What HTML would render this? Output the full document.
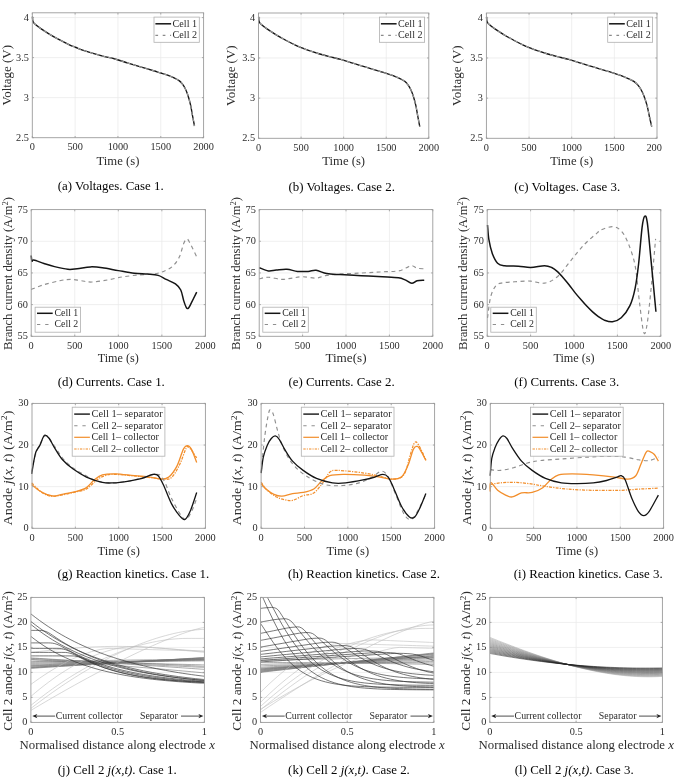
<!DOCTYPE html>
<html><head><meta charset="utf-8"><style>
html,body{margin:0;padding:0;background:#fff;}
svg{display:block;will-change:transform;}
text{font-family:"Liberation Serif", serif;}
</style></head><body>
<svg width="685" height="778" viewBox="0 0 685 778">
<rect width="685" height="778" fill="#fff"/>
<path d="M75.12,12.80V137.70 M117.95,12.80V137.70 M160.78,12.80V137.70 M32.30,97.67H203.60 M32.30,57.64H203.60 M32.30,17.60H203.60" stroke="#e9e9e9" stroke-width="0.75" fill="none"/>
<path d="M32.40,16.60 C32.49,17.37 32.53,20.00 32.90,21.21 C33.26,22.41 33.33,22.60 34.60,23.80 C35.86,25.00 37.99,26.65 40.51,28.40 C43.02,30.15 46.42,32.33 49.70,34.30 C52.99,36.26 56.92,38.45 60.20,40.20 C63.49,41.95 66.77,43.58 69.40,44.80 C72.04,46.02 73.80,46.61 76.00,47.50 C78.20,48.38 79.74,49.11 82.59,50.10 C85.44,51.08 89.59,52.37 93.09,53.40 C96.59,54.44 99.94,55.37 103.60,56.30 C107.25,57.24 110.92,57.87 115.00,59.00 C119.09,60.13 123.73,61.75 128.11,63.10 C132.49,64.45 136.92,65.78 141.30,67.09 C145.68,68.41 151.12,70.02 154.40,71.00 C157.69,71.99 158.80,72.30 161.00,73.00 C163.20,73.70 165.41,74.38 167.59,75.20 C169.78,76.02 172.14,76.95 174.10,77.90 C176.07,78.85 177.96,79.81 179.40,80.90 C180.83,81.98 181.72,83.09 182.70,84.41 C183.69,85.72 184.44,86.99 185.31,88.80 C186.17,90.62 187.01,92.56 187.89,95.30 C188.77,98.03 189.83,101.80 190.60,105.20 C191.37,108.60 191.85,112.24 192.50,115.71 C193.15,119.17 194.17,124.28 194.50,126.00" stroke="#141414" stroke-width="1.35" fill="none" stroke-linejoin="round"/>
<path d="M32.40,16.60 C32.49,17.37 32.53,20.00 32.90,21.21 C33.26,22.41 33.33,22.60 34.60,23.80 C35.86,25.00 37.99,26.65 40.51,28.40 C43.02,30.15 46.42,32.33 49.70,34.30 C52.99,36.26 56.92,38.45 60.20,40.20 C63.49,41.95 66.77,43.58 69.40,44.80 C72.04,46.02 73.80,46.61 76.00,47.50 C78.20,48.38 79.74,49.11 82.59,50.10 C85.44,51.08 89.59,52.37 93.09,53.40 C96.59,54.44 99.94,55.37 103.60,56.30 C107.25,57.24 110.92,57.87 115.00,59.00 C119.09,60.13 123.73,61.75 128.11,63.10 C132.49,64.45 136.92,65.78 141.30,67.09 C145.68,68.41 151.12,70.02 154.40,71.00 C157.69,71.99 158.80,72.30 161.00,73.00 C163.20,73.70 165.41,74.38 167.59,75.20 C169.78,76.02 172.14,76.95 174.10,77.90 C176.07,78.85 177.96,79.81 179.40,80.90 C180.83,81.98 181.72,83.09 182.70,84.41 C183.69,85.72 184.44,86.99 185.31,88.80 C186.17,90.62 187.01,92.56 187.89,95.30 C188.77,98.03 189.83,101.80 190.60,105.20 C191.37,108.60 191.85,112.24 192.50,115.71 C193.15,119.17 194.17,124.28 194.50,126.00" stroke="#9c9c9c" stroke-width="1.15" fill="none" stroke-linejoin="round" stroke-dasharray="3.4,3.0"/>
<path d="M32.30,137.70v-1.7 M32.30,12.80v1.7 M75.12,137.70v-1.7 M75.12,12.80v1.7 M117.95,137.70v-1.7 M117.95,12.80v1.7 M160.78,137.70v-1.7 M160.78,12.80v1.7 M203.60,137.70v-1.7 M203.60,12.80v1.7 M32.30,137.70h1.7 M203.60,137.70h-1.7 M32.30,97.67h1.7 M203.60,97.67h-1.7 M32.30,57.64h1.7 M203.60,57.64h-1.7 M32.30,17.60h1.7 M203.60,17.60h-1.7" stroke="#8a8a8a" stroke-width="0.7" fill="none"/>
<rect x="32.30" y="12.80" width="171.30" height="124.90" stroke="#9c9c9c" stroke-width="0.9" fill="none"/>
<text x="32.30" y="150.30" font-size="10.3" text-anchor="middle" fill="#2c2c2c">0</text>
<text x="75.12" y="150.30" font-size="10.3" text-anchor="middle" fill="#2c2c2c">500</text>
<text x="117.95" y="150.30" font-size="10.3" text-anchor="middle" fill="#2c2c2c">1000</text>
<text x="160.78" y="150.30" font-size="10.3" text-anchor="middle" fill="#2c2c2c">1500</text>
<text x="203.60" y="150.30" font-size="10.3" text-anchor="middle" fill="#2c2c2c">2000</text>
<text x="28.90" y="140.70" font-size="10.3" text-anchor="end" fill="#2c2c2c">2.5</text>
<text x="28.90" y="100.67" font-size="10.3" text-anchor="end" fill="#2c2c2c">3</text>
<text x="28.90" y="60.64" font-size="10.3" text-anchor="end" fill="#2c2c2c">3.5</text>
<text x="28.90" y="20.60" font-size="10.3" text-anchor="end" fill="#2c2c2c">4</text>
<text x="10.80" y="75.25" font-size="11.6" text-anchor="middle" textLength="60.50" lengthAdjust="spacingAndGlyphs" transform="rotate(-90 10.80 75.25)" fill="#2c2c2c">Voltage (V)</text>
<text x="117.95" y="164.60" font-size="11.6" text-anchor="middle" textLength="42.90" lengthAdjust="spacingAndGlyphs" fill="#2c2c2c">Time (s)</text>
<text x="57.80" y="190.00" font-size="12.9" text-anchor="start" fill="#050505">(a) Voltages. Case 1.</text>
<rect x="154.00" y="17.10" width="45.30" height="25.20" fill="#fff" stroke="#b0b0b0" stroke-width="0.8"/>
<path d="M155.40,23.80H171.10" stroke="#141414" stroke-width="1.5" fill="none"/>
<text x="172.60" y="26.70" font-size="10.0" text-anchor="start" textLength="24.50" lengthAdjust="spacingAndGlyphs" fill="#2c2c2c">Cell 1</text>
<path d="M155.40,35.40H171.10" stroke="#8a8a8a" stroke-width="1.1" stroke-dasharray="2.7,4.6" fill="none"/>
<text x="172.60" y="38.30" font-size="10.0" text-anchor="start" textLength="24.50" lengthAdjust="spacingAndGlyphs" fill="#2c2c2c">Cell 2</text>
<path d="M301.07,13.00V138.30 M343.65,13.00V138.30 M386.23,13.00V138.30 M258.50,98.14H428.80 M258.50,57.98H428.80 M258.50,17.82H428.80" stroke="#e9e9e9" stroke-width="0.75" fill="none"/>
<path d="M258.60,16.81 C258.68,17.58 258.73,20.23 259.10,21.43 C259.46,22.64 259.52,22.84 260.78,24.04 C262.04,25.24 264.15,26.90 266.66,28.65 C269.16,30.40 272.54,32.59 275.80,34.56 C279.07,36.54 282.98,38.73 286.24,40.49 C289.51,42.25 292.77,43.88 295.39,45.10 C298.00,46.32 299.76,46.92 301.94,47.81 C304.13,48.69 305.67,49.43 308.50,50.41 C311.33,51.40 315.46,52.70 318.94,53.74 C322.42,54.77 325.75,55.71 329.38,56.64 C333.01,57.58 336.66,58.21 340.72,59.35 C344.78,60.48 349.39,62.11 353.75,63.46 C358.11,64.81 362.51,66.15 366.86,67.47 C371.22,68.79 376.63,70.40 379.89,71.39 C383.15,72.38 384.26,72.69 386.45,73.39 C388.63,74.10 390.83,74.78 393.00,75.60 C395.17,76.42 397.52,77.35 399.47,78.31 C401.43,79.26 403.31,80.23 404.74,81.31 C406.16,82.40 407.04,83.51 408.02,84.83 C409.00,86.16 409.75,87.42 410.61,89.25 C411.47,91.07 412.31,93.02 413.18,95.76 C414.06,98.50 415.11,102.28 415.87,105.70 C416.64,109.11 417.12,112.76 417.76,116.23 C418.41,119.71 419.42,124.84 419.76,126.56" stroke="#141414" stroke-width="1.35" fill="none" stroke-linejoin="round"/>
<path d="M258.60,16.81 C258.68,17.58 258.73,20.23 259.10,21.43 C259.46,22.64 259.52,22.84 260.78,24.04 C262.04,25.24 264.15,26.90 266.66,28.65 C269.16,30.40 272.54,32.59 275.80,34.56 C279.07,36.54 282.98,38.73 286.24,40.49 C289.51,42.25 292.77,43.88 295.39,45.10 C298.00,46.32 299.76,46.92 301.94,47.81 C304.13,48.69 305.67,49.43 308.50,50.41 C311.33,51.40 315.46,52.70 318.94,53.74 C322.42,54.77 325.75,55.71 329.38,56.64 C333.01,57.58 336.66,58.21 340.72,59.35 C344.78,60.48 349.39,62.11 353.75,63.46 C358.11,64.81 362.51,66.15 366.86,67.47 C371.22,68.79 376.63,70.40 379.89,71.39 C383.15,72.38 384.26,72.69 386.45,73.39 C388.63,74.10 390.83,74.78 393.00,75.60 C395.17,76.42 397.52,77.35 399.47,78.31 C401.43,79.26 403.31,80.23 404.74,81.31 C406.16,82.40 407.04,83.51 408.02,84.83 C409.00,86.16 409.75,87.42 410.61,89.25 C411.47,91.07 412.31,93.02 413.18,95.76 C414.06,98.50 415.11,102.28 415.87,105.70 C416.64,109.11 417.12,112.76 417.76,116.23 C418.41,119.71 419.42,124.84 419.76,126.56" stroke="#9c9c9c" stroke-width="1.15" fill="none" stroke-linejoin="round" stroke-dasharray="3.4,3.0"/>
<path d="M258.50,138.30v-1.7 M258.50,13.00v1.7 M301.07,138.30v-1.7 M301.07,13.00v1.7 M343.65,138.30v-1.7 M343.65,13.00v1.7 M386.23,138.30v-1.7 M386.23,13.00v1.7 M428.80,138.30v-1.7 M428.80,13.00v1.7 M258.50,138.30h1.7 M428.80,138.30h-1.7 M258.50,98.14h1.7 M428.80,98.14h-1.7 M258.50,57.98h1.7 M428.80,57.98h-1.7 M258.50,17.82h1.7 M428.80,17.82h-1.7" stroke="#8a8a8a" stroke-width="0.7" fill="none"/>
<rect x="258.50" y="13.00" width="170.30" height="125.30" stroke="#9c9c9c" stroke-width="0.9" fill="none"/>
<text x="258.50" y="150.90" font-size="10.3" text-anchor="middle" fill="#2c2c2c">0</text>
<text x="301.07" y="150.90" font-size="10.3" text-anchor="middle" fill="#2c2c2c">500</text>
<text x="343.65" y="150.90" font-size="10.3" text-anchor="middle" fill="#2c2c2c">1000</text>
<text x="386.23" y="150.90" font-size="10.3" text-anchor="middle" fill="#2c2c2c">1500</text>
<text x="428.80" y="150.90" font-size="10.3" text-anchor="middle" fill="#2c2c2c">2000</text>
<text x="255.10" y="141.30" font-size="10.3" text-anchor="end" fill="#2c2c2c">2.5</text>
<text x="255.10" y="101.14" font-size="10.3" text-anchor="end" fill="#2c2c2c">3</text>
<text x="255.10" y="60.98" font-size="10.3" text-anchor="end" fill="#2c2c2c">3.5</text>
<text x="255.10" y="20.82" font-size="10.3" text-anchor="end" fill="#2c2c2c">4</text>
<text x="234.60" y="75.65" font-size="11.6" text-anchor="middle" textLength="60.50" lengthAdjust="spacingAndGlyphs" transform="rotate(-90 234.60 75.65)" fill="#2c2c2c">Voltage (V)</text>
<text x="343.65" y="165.20" font-size="11.6" text-anchor="middle" textLength="42.90" lengthAdjust="spacingAndGlyphs" fill="#2c2c2c">Time (s)</text>
<text x="288.40" y="190.60" font-size="12.9" text-anchor="start" fill="#050505">(b) Voltages. Case 2.</text>
<rect x="379.50" y="17.10" width="45.10" height="25.20" fill="#fff" stroke="#b0b0b0" stroke-width="0.8"/>
<path d="M380.90,23.80H396.60" stroke="#141414" stroke-width="1.5" fill="none"/>
<text x="398.10" y="26.70" font-size="10.0" text-anchor="start" textLength="24.50" lengthAdjust="spacingAndGlyphs" fill="#2c2c2c">Cell 1</text>
<path d="M380.90,35.40H396.60" stroke="#8a8a8a" stroke-width="1.1" stroke-dasharray="2.7,4.6" fill="none"/>
<text x="398.10" y="38.30" font-size="10.0" text-anchor="start" textLength="24.50" lengthAdjust="spacingAndGlyphs" fill="#2c2c2c">Cell 2</text>
<path d="M529.05,13.00V138.30 M571.70,13.00V138.30 M614.35,13.00V138.30 M486.40,98.14H657.00 M486.40,57.98H657.00 M486.40,17.82H657.00" stroke="#e9e9e9" stroke-width="0.75" fill="none"/>
<path d="M486.50,16.81 C486.58,17.58 486.63,20.23 487.00,21.43 C487.36,22.64 487.42,22.84 488.69,24.04 C489.95,25.24 492.06,26.90 494.57,28.65 C497.08,30.40 500.46,32.59 503.73,34.56 C507.00,36.54 510.92,38.73 514.19,40.49 C517.46,42.25 520.73,43.88 523.35,45.10 C525.97,46.32 527.73,46.92 529.92,47.81 C532.11,48.69 533.65,49.43 536.49,50.41 C539.33,51.40 543.46,52.70 546.95,53.74 C550.43,54.77 553.77,55.71 557.40,56.64 C561.04,57.58 564.70,58.21 568.77,59.35 C572.83,60.48 577.45,62.11 581.82,63.46 C586.18,64.81 590.59,66.15 594.95,67.47 C599.32,68.79 604.73,70.40 608.00,71.39 C611.27,72.38 612.38,72.69 614.57,73.39 C616.76,74.10 618.96,74.78 621.14,75.60 C623.32,76.42 625.51,77.35 627.62,78.31 C629.74,79.26 632.13,80.23 633.82,81.31 C635.51,82.40 636.57,83.51 637.73,84.83 C638.90,86.16 639.79,87.42 640.82,89.25 C641.84,91.07 642.84,93.02 643.88,95.76 C644.93,98.50 646.18,102.28 647.09,105.70 C648.00,109.11 648.57,112.76 649.34,116.23 C650.11,119.71 651.32,124.84 651.71,126.56" stroke="#141414" stroke-width="1.35" fill="none" stroke-linejoin="round"/>
<path d="M486.50,16.81 C486.58,17.58 486.63,20.23 487.00,21.43 C487.36,22.64 487.42,22.84 488.69,24.04 C489.95,25.24 492.06,26.90 494.57,28.65 C497.08,30.40 500.46,32.59 503.73,34.56 C507.00,36.54 510.92,38.73 514.19,40.49 C517.46,42.25 520.73,43.88 523.35,45.10 C525.97,46.32 527.73,46.92 529.92,47.81 C532.11,48.69 533.65,49.43 536.49,50.41 C539.33,51.40 543.46,52.70 546.95,53.74 C550.43,54.77 553.77,55.71 557.40,56.64 C561.04,57.58 564.70,58.21 568.77,59.35 C572.83,60.48 577.45,62.11 581.82,63.46 C586.18,64.81 590.59,66.15 594.95,67.47 C599.32,68.79 604.73,70.40 608.00,71.39 C611.27,72.38 612.38,72.69 614.57,73.39 C616.76,74.10 618.96,74.78 621.14,75.60 C623.32,76.42 625.51,77.35 627.62,78.31 C629.74,79.26 632.13,80.23 633.82,81.31 C635.51,82.40 636.57,83.51 637.73,84.83 C638.90,86.16 639.79,87.42 640.82,89.25 C641.84,91.07 642.84,93.02 643.88,95.76 C644.93,98.50 646.18,102.28 647.09,105.70 C648.00,109.11 648.57,112.76 649.34,116.23 C650.11,119.71 651.32,124.84 651.71,126.56" stroke="#9c9c9c" stroke-width="1.15" fill="none" stroke-linejoin="round" stroke-dasharray="3.4,3.0"/>
<path d="M486.40,138.30v-1.7 M486.40,13.00v1.7 M529.05,138.30v-1.7 M529.05,13.00v1.7 M571.70,138.30v-1.7 M571.70,13.00v1.7 M614.35,138.30v-1.7 M614.35,13.00v1.7 M657.00,138.30v-1.7 M657.00,13.00v1.7 M486.40,138.30h1.7 M657.00,138.30h-1.7 M486.40,98.14h1.7 M657.00,98.14h-1.7 M486.40,57.98h1.7 M657.00,57.98h-1.7 M486.40,17.82h1.7 M657.00,17.82h-1.7" stroke="#8a8a8a" stroke-width="0.7" fill="none"/>
<rect x="486.40" y="13.00" width="170.60" height="125.30" stroke="#9c9c9c" stroke-width="0.9" fill="none"/>
<text x="486.40" y="150.90" font-size="10.3" text-anchor="middle" fill="#2c2c2c">0</text>
<text x="529.05" y="150.90" font-size="10.3" text-anchor="middle" fill="#2c2c2c">500</text>
<text x="571.70" y="150.90" font-size="10.3" text-anchor="middle" fill="#2c2c2c">1000</text>
<text x="614.35" y="150.90" font-size="10.3" text-anchor="middle" fill="#2c2c2c">1500</text>
<text x="646.40" y="150.90" font-size="10.3" text-anchor="start" fill="#2c2c2c">200</text>
<text x="483.00" y="141.30" font-size="10.3" text-anchor="end" fill="#2c2c2c">2.5</text>
<text x="483.00" y="101.14" font-size="10.3" text-anchor="end" fill="#2c2c2c">3</text>
<text x="483.00" y="60.98" font-size="10.3" text-anchor="end" fill="#2c2c2c">3.5</text>
<text x="483.00" y="20.82" font-size="10.3" text-anchor="end" fill="#2c2c2c">4</text>
<text x="461.40" y="75.65" font-size="11.6" text-anchor="middle" textLength="60.50" lengthAdjust="spacingAndGlyphs" transform="rotate(-90 461.40 75.65)" fill="#2c2c2c">Voltage (V)</text>
<text x="571.70" y="165.20" font-size="11.6" text-anchor="middle" textLength="42.90" lengthAdjust="spacingAndGlyphs" fill="#2c2c2c">Time (s)</text>
<text x="514.30" y="190.60" font-size="12.9" text-anchor="start" fill="#050505">(c) Voltages. Case 3.</text>
<rect x="607.70" y="17.10" width="44.90" height="25.20" fill="#fff" stroke="#b0b0b0" stroke-width="0.8"/>
<path d="M609.10,23.80H624.80" stroke="#141414" stroke-width="1.5" fill="none"/>
<text x="626.30" y="26.70" font-size="10.0" text-anchor="start" textLength="24.50" lengthAdjust="spacingAndGlyphs" fill="#2c2c2c">Cell 1</text>
<path d="M609.10,35.40H624.80" stroke="#8a8a8a" stroke-width="1.1" stroke-dasharray="2.7,4.6" fill="none"/>
<text x="626.30" y="38.30" font-size="10.0" text-anchor="start" textLength="24.50" lengthAdjust="spacingAndGlyphs" fill="#2c2c2c">Cell 2</text>
<path d="M74.75,209.60V336.30 M118.30,209.60V336.30 M161.85,209.60V336.30 M31.20,304.62H205.40 M31.20,272.95H205.40 M31.20,241.28H205.40" stroke="#e9e9e9" stroke-width="0.75" fill="none"/>
<path d="M31.19,289.48 C33.31,288.69 39.16,286.16 43.94,284.70 C48.72,283.24 55.45,281.60 59.88,280.72 C64.31,279.83 66.97,279.39 70.51,279.39 C74.05,279.39 77.59,280.27 81.13,280.72 C84.68,281.16 87.33,282.18 91.76,282.05 C96.19,281.91 102.39,280.81 107.70,279.92 C113.02,279.03 118.33,277.57 123.64,276.73 C128.96,275.89 134.71,275.32 139.58,274.87 C144.45,274.43 148.88,274.65 152.87,274.08 C156.85,273.50 160.17,272.75 163.49,271.42 C166.82,270.09 170.14,268.54 172.79,266.11 C175.45,263.67 177.62,260.57 179.43,256.81 C181.25,253.04 182.45,246.49 183.69,243.52 C184.93,240.56 185.86,239.14 186.87,239.01 C187.89,238.87 188.16,239.76 189.80,242.73 C191.43,245.69 195.55,254.46 196.70,256.81" stroke="#8f8f8f" stroke-width="1.15" fill="none" stroke-linejoin="round" stroke-dasharray="3.9,3.5"/>
<path d="M31.19,255.48 C31.23,255.92 31.32,257.16 31.45,258.13 C31.59,259.11 31.59,261.01 31.99,261.32 C32.38,261.63 31.85,259.64 33.84,259.99 C35.84,260.35 40.49,262.34 43.94,263.45 C47.39,264.56 50.58,265.66 54.57,266.64 C58.55,267.61 64.09,268.94 67.85,269.29 C71.61,269.65 73.39,269.16 77.15,268.76 C80.91,268.36 86.23,267.08 90.43,266.90 C94.64,266.73 97.74,267.08 102.39,267.70 C107.04,268.32 113.02,269.69 118.33,270.62 C123.64,271.55 129.40,272.70 134.27,273.28 C139.14,273.85 143.57,273.72 147.55,274.08 C151.54,274.43 155.08,274.52 158.18,275.40 C161.28,276.29 163.27,277.97 166.15,279.39 C169.03,280.81 173.01,282.13 175.45,283.91 C177.88,285.68 179.39,287.23 180.76,290.02 C182.14,292.81 182.76,297.72 183.69,300.64 C184.62,303.57 185.55,306.31 186.34,307.55 C187.14,308.79 187.71,308.70 188.47,308.08 C189.22,307.46 189.49,306.49 190.86,303.83 C192.23,301.17 195.73,294.09 196.70,292.14" stroke="#141414" stroke-width="1.5" fill="none" stroke-linejoin="round"/>
<path d="M31.20,336.30v-1.7 M31.20,209.60v1.7 M74.75,336.30v-1.7 M74.75,209.60v1.7 M118.30,336.30v-1.7 M118.30,209.60v1.7 M161.85,336.30v-1.7 M161.85,209.60v1.7 M205.40,336.30v-1.7 M205.40,209.60v1.7 M31.20,336.30h1.7 M205.40,336.30h-1.7 M31.20,304.62h1.7 M205.40,304.62h-1.7 M31.20,272.95h1.7 M205.40,272.95h-1.7 M31.20,241.28h1.7 M205.40,241.28h-1.7 M31.20,209.60h1.7 M205.40,209.60h-1.7" stroke="#8a8a8a" stroke-width="0.7" fill="none"/>
<rect x="31.20" y="209.60" width="174.20" height="126.70" stroke="#9c9c9c" stroke-width="0.9" fill="none"/>
<text x="31.20" y="348.60" font-size="10.3" text-anchor="middle" fill="#2c2c2c">0</text>
<text x="74.75" y="348.60" font-size="10.3" text-anchor="middle" fill="#2c2c2c">500</text>
<text x="118.30" y="348.60" font-size="10.3" text-anchor="middle" fill="#2c2c2c">1000</text>
<text x="161.85" y="348.60" font-size="10.3" text-anchor="middle" fill="#2c2c2c">1500</text>
<text x="205.40" y="348.60" font-size="10.3" text-anchor="middle" fill="#2c2c2c">2000</text>
<text x="27.80" y="339.30" font-size="10.3" text-anchor="end" fill="#2c2c2c">55</text>
<text x="27.80" y="307.62" font-size="10.3" text-anchor="end" fill="#2c2c2c">60</text>
<text x="27.80" y="275.95" font-size="10.3" text-anchor="end" fill="#2c2c2c">65</text>
<text x="27.80" y="244.28" font-size="10.3" text-anchor="end" fill="#2c2c2c">70</text>
<text x="27.80" y="212.60" font-size="10.3" text-anchor="end" fill="#2c2c2c">75</text>
<text x="12.00" y="273.45" font-size="11.6" text-anchor="middle" textLength="153.00" lengthAdjust="spacingAndGlyphs" transform="rotate(-90 12.00 273.45)" fill="#2c2c2c">Branch current density (A/m<tspan font-size="8" dy="-4.2">2</tspan><tspan dy="4.2">)</tspan></text>
<text x="118.30" y="362.20" font-size="11.6" text-anchor="middle" textLength="41.20" lengthAdjust="spacingAndGlyphs" fill="#2c2c2c">Time (s)</text>
<text x="57.80" y="385.80" font-size="12.9" text-anchor="start" fill="#050505">(d) Currents. Case 1.</text>
<rect x="35.10" y="307.20" width="45.50" height="25.00" fill="#fff" stroke="#b0b0b0" stroke-width="0.8"/>
<path d="M37.00,313.30H52.70" stroke="#141414" stroke-width="1.5" fill="none"/>
<text x="54.50" y="316.20" font-size="10.0" text-anchor="start" textLength="23.80" lengthAdjust="spacingAndGlyphs" fill="#2c2c2c">Cell 1</text>
<path d="M37.00,324.50H52.70" stroke="#8f8f8f" stroke-width="1.15" stroke-dasharray="3.3,4.9" fill="none"/>
<text x="54.50" y="327.40" font-size="10.0" text-anchor="start" textLength="23.80" lengthAdjust="spacingAndGlyphs" fill="#2c2c2c">Cell 2</text>
<path d="M302.60,209.60V336.30 M346.00,209.60V336.30 M389.40,209.60V336.30 M259.20,304.62H432.80 M259.20,272.95H432.80 M259.20,241.28H432.80" stroke="#e9e9e9" stroke-width="0.75" fill="none"/>
<path d="M259.25,278.86 C260.76,278.59 264.56,277.17 268.28,277.26 C272.00,277.35 277.58,279.26 281.57,279.39 C285.55,279.52 288.65,278.50 292.19,278.06 C295.74,277.62 298.84,276.73 302.82,276.73 C306.81,276.73 312.12,278.28 316.11,278.06 C320.09,277.84 322.75,276.07 326.73,275.40 C330.72,274.74 334.26,274.47 340.02,274.08 C345.77,273.68 354.63,273.37 361.27,273.01 C367.91,272.66 373.67,272.30 379.87,271.95 C386.07,271.60 394.04,271.60 398.46,270.89 C402.89,270.18 404.22,268.58 406.43,267.70 C408.65,266.81 409.98,265.49 411.75,265.57 C413.52,265.66 414.98,267.70 417.06,268.23 C419.14,268.76 423.04,268.67 424.23,268.76" stroke="#8f8f8f" stroke-width="1.15" fill="none" stroke-linejoin="round" stroke-dasharray="3.9,3.5"/>
<path d="M259.25,267.70 C260.76,268.23 265.45,270.49 268.28,270.89 C271.12,271.29 273.15,270.36 276.25,270.09 C279.35,269.82 283.34,269.07 286.88,269.29 C290.42,269.51 293.97,271.06 297.51,271.42 C301.05,271.77 305.04,271.60 308.13,271.42 C311.23,271.24 313.01,270.00 316.11,270.36 C319.20,270.71 322.75,272.84 326.73,273.54 C330.72,274.25 334.26,274.25 340.02,274.61 C345.77,274.96 354.19,275.32 361.27,275.67 C368.35,276.02 376.32,276.38 382.52,276.73 C388.72,277.09 394.70,277.26 398.46,277.79 C402.23,278.33 402.89,278.99 405.11,279.92 C407.32,280.85 409.76,283.24 411.75,283.37 C413.74,283.51 414.98,281.25 417.06,280.72 C419.14,280.19 423.04,280.27 424.23,280.19" stroke="#141414" stroke-width="1.5" fill="none" stroke-linejoin="round"/>
<path d="M259.20,336.30v-1.7 M259.20,209.60v1.7 M302.60,336.30v-1.7 M302.60,209.60v1.7 M346.00,336.30v-1.7 M346.00,209.60v1.7 M389.40,336.30v-1.7 M389.40,209.60v1.7 M432.80,336.30v-1.7 M432.80,209.60v1.7 M259.20,336.30h1.7 M432.80,336.30h-1.7 M259.20,304.62h1.7 M432.80,304.62h-1.7 M259.20,272.95h1.7 M432.80,272.95h-1.7 M259.20,241.28h1.7 M432.80,241.28h-1.7 M259.20,209.60h1.7 M432.80,209.60h-1.7" stroke="#8a8a8a" stroke-width="0.7" fill="none"/>
<rect x="259.20" y="209.60" width="173.60" height="126.70" stroke="#9c9c9c" stroke-width="0.9" fill="none"/>
<text x="259.20" y="348.60" font-size="10.3" text-anchor="middle" fill="#2c2c2c">0</text>
<text x="302.60" y="348.60" font-size="10.3" text-anchor="middle" fill="#2c2c2c">500</text>
<text x="346.00" y="348.60" font-size="10.3" text-anchor="middle" fill="#2c2c2c">1000</text>
<text x="389.40" y="348.60" font-size="10.3" text-anchor="middle" fill="#2c2c2c">1500</text>
<text x="432.80" y="348.60" font-size="10.3" text-anchor="middle" fill="#2c2c2c">2000</text>
<text x="255.80" y="339.30" font-size="10.3" text-anchor="end" fill="#2c2c2c">55</text>
<text x="255.80" y="307.62" font-size="10.3" text-anchor="end" fill="#2c2c2c">60</text>
<text x="255.80" y="275.95" font-size="10.3" text-anchor="end" fill="#2c2c2c">65</text>
<text x="255.80" y="244.28" font-size="10.3" text-anchor="end" fill="#2c2c2c">70</text>
<text x="255.80" y="212.60" font-size="10.3" text-anchor="end" fill="#2c2c2c">75</text>
<text x="239.80" y="273.45" font-size="11.6" text-anchor="middle" textLength="153.00" lengthAdjust="spacingAndGlyphs" transform="rotate(-90 239.80 273.45)" fill="#2c2c2c">Branch current density (A/m<tspan font-size="8" dy="-4.2">2</tspan><tspan dy="4.2">)</tspan></text>
<text x="346.00" y="362.20" font-size="11.6" text-anchor="middle" textLength="41.20" lengthAdjust="spacingAndGlyphs" fill="#2c2c2c">Time(s)</text>
<text x="288.40" y="385.80" font-size="12.9" text-anchor="start" fill="#050505">(e) Currents. Case 2.</text>
<rect x="262.80" y="307.20" width="45.50" height="25.00" fill="#fff" stroke="#b0b0b0" stroke-width="0.8"/>
<path d="M264.70,313.30H280.40" stroke="#141414" stroke-width="1.5" fill="none"/>
<text x="282.20" y="316.20" font-size="10.0" text-anchor="start" textLength="23.80" lengthAdjust="spacingAndGlyphs" fill="#2c2c2c">Cell 1</text>
<path d="M264.70,324.50H280.40" stroke="#8f8f8f" stroke-width="1.15" stroke-dasharray="3.3,4.9" fill="none"/>
<text x="282.20" y="327.40" font-size="10.0" text-anchor="start" textLength="23.80" lengthAdjust="spacingAndGlyphs" fill="#2c2c2c">Cell 2</text>
<path d="M530.60,209.60V336.30 M574.00,209.60V336.30 M617.40,209.60V336.30 M487.20,304.62H660.80 M487.20,272.95H660.80 M487.20,241.28H660.80" stroke="#e9e9e9" stroke-width="0.75" fill="none"/>
<path d="M487.51,317.91 C488.03,314.43 489.24,302.42 490.63,297.06 C492.02,291.71 493.82,288.15 495.84,285.77 C497.87,283.40 499.61,283.48 502.79,282.82 C505.98,282.15 510.32,282.07 514.95,281.78 C519.58,281.49 525.66,280.85 530.58,281.08 C535.51,281.31 540.01,283.89 544.48,283.17 C548.95,282.44 553.02,280.46 557.39,276.73 C561.75,273.00 566.24,266.11 570.67,260.79 C575.10,255.48 579.53,249.50 583.96,244.85 C588.38,240.20 594.50,235.34 597.24,232.90 C599.98,230.45 597.86,231.20 600.41,230.16 C602.97,229.13 609.09,226.55 612.56,226.69 C616.03,226.84 618.63,228.28 621.24,231.03 C623.84,233.78 625.86,237.39 628.18,243.18 C630.49,248.96 633.24,255.90 635.12,265.74 C637.00,275.57 638.01,291.04 639.46,302.18 C640.90,313.32 642.49,329.08 643.80,332.55 C645.10,336.02 645.97,331.25 647.27,323.00 C648.57,314.76 650.22,297.12 651.61,283.09 C652.99,269.06 654.93,246.21 655.60,238.84" stroke="#8f8f8f" stroke-width="1.15" fill="none" stroke-linejoin="round" stroke-dasharray="3.9,3.5"/>
<path d="M487.51,224.98 C487.74,227.44 488.09,234.96 488.90,239.74 C489.71,244.52 490.92,249.73 492.37,253.64 C493.82,257.54 495.55,261.16 497.58,263.19 C499.61,265.22 501.06,265.30 504.53,265.80 C508.00,266.29 514.08,265.85 518.43,266.14 C522.77,266.43 526.24,267.59 530.58,267.53 C534.93,267.47 540.96,265.80 544.48,265.80 C548.00,265.79 549.53,266.53 551.70,267.50 C553.87,268.47 555.55,269.85 557.50,271.60 C559.45,273.35 561.45,275.77 563.40,278.00 C565.35,280.23 567.27,282.57 569.20,285.00 C571.13,287.43 573.05,290.17 575.00,292.60 C576.95,295.03 578.95,297.35 580.90,299.60 C582.85,301.85 584.75,304.05 586.70,306.10 C588.65,308.15 590.65,310.15 592.60,311.90 C594.55,313.65 596.47,315.23 598.40,316.60 C600.33,317.97 601.87,319.23 604.20,320.10 C606.53,320.97 609.56,322.18 612.40,321.80 C615.24,321.42 618.32,320.49 621.24,317.80 C624.16,315.11 627.60,310.57 629.91,305.65 C632.23,300.73 633.67,295.24 635.12,288.30 C636.57,281.36 637.43,274.13 638.59,264.00 C639.75,253.88 641.05,235.51 642.06,227.56 C643.07,219.61 643.80,217.15 644.66,216.28 C645.53,215.41 646.25,215.56 647.27,222.35 C648.28,229.15 649.29,242.17 650.74,257.06 C652.18,271.96 655.08,302.61 655.94,311.72" stroke="#141414" stroke-width="1.5" fill="none" stroke-linejoin="round"/>
<path d="M487.20,336.30v-1.7 M487.20,209.60v1.7 M530.60,336.30v-1.7 M530.60,209.60v1.7 M574.00,336.30v-1.7 M574.00,209.60v1.7 M617.40,336.30v-1.7 M617.40,209.60v1.7 M660.80,336.30v-1.7 M660.80,209.60v1.7 M487.20,336.30h1.7 M660.80,336.30h-1.7 M487.20,304.62h1.7 M660.80,304.62h-1.7 M487.20,272.95h1.7 M660.80,272.95h-1.7 M487.20,241.28h1.7 M660.80,241.28h-1.7 M487.20,209.60h1.7 M660.80,209.60h-1.7" stroke="#8a8a8a" stroke-width="0.7" fill="none"/>
<rect x="487.20" y="209.60" width="173.60" height="126.70" stroke="#9c9c9c" stroke-width="0.9" fill="none"/>
<text x="487.20" y="348.60" font-size="10.3" text-anchor="middle" fill="#2c2c2c">0</text>
<text x="530.60" y="348.60" font-size="10.3" text-anchor="middle" fill="#2c2c2c">500</text>
<text x="574.00" y="348.60" font-size="10.3" text-anchor="middle" fill="#2c2c2c">1000</text>
<text x="617.40" y="348.60" font-size="10.3" text-anchor="middle" fill="#2c2c2c">1500</text>
<text x="660.80" y="348.60" font-size="10.3" text-anchor="middle" fill="#2c2c2c">2000</text>
<text x="483.80" y="339.30" font-size="10.3" text-anchor="end" fill="#2c2c2c">55</text>
<text x="483.80" y="307.62" font-size="10.3" text-anchor="end" fill="#2c2c2c">60</text>
<text x="483.80" y="275.95" font-size="10.3" text-anchor="end" fill="#2c2c2c">65</text>
<text x="483.80" y="244.28" font-size="10.3" text-anchor="end" fill="#2c2c2c">70</text>
<text x="483.80" y="212.60" font-size="10.3" text-anchor="end" fill="#2c2c2c">75</text>
<text x="467.30" y="273.45" font-size="11.6" text-anchor="middle" textLength="153.00" lengthAdjust="spacingAndGlyphs" transform="rotate(-90 467.30 273.45)" fill="#2c2c2c">Branch current density (A/m<tspan font-size="8" dy="-4.2">2</tspan><tspan dy="4.2">)</tspan></text>
<text x="574.00" y="362.20" font-size="11.6" text-anchor="middle" textLength="41.20" lengthAdjust="spacingAndGlyphs" fill="#2c2c2c">Time (s)</text>
<text x="514.30" y="385.80" font-size="12.9" text-anchor="start" fill="#050505">(f) Currents. Case 3.</text>
<rect x="490.80" y="307.20" width="45.50" height="25.00" fill="#fff" stroke="#b0b0b0" stroke-width="0.8"/>
<path d="M492.70,313.30H508.40" stroke="#141414" stroke-width="1.5" fill="none"/>
<text x="510.20" y="316.20" font-size="10.0" text-anchor="start" textLength="23.80" lengthAdjust="spacingAndGlyphs" fill="#2c2c2c">Cell 1</text>
<path d="M492.70,324.50H508.40" stroke="#8f8f8f" stroke-width="1.15" stroke-dasharray="3.3,4.9" fill="none"/>
<text x="510.20" y="327.40" font-size="10.0" text-anchor="start" textLength="23.80" lengthAdjust="spacingAndGlyphs" fill="#2c2c2c">Cell 2</text>
<path d="M75.35,403.40V528.30 M118.70,403.40V528.30 M162.05,403.40V528.30 M32.00,486.67H205.40 M32.00,445.03H205.40" stroke="#e9e9e9" stroke-width="0.75" fill="none"/>
<path d="M31.72,482.89 C32.87,484.04 36.15,487.76 38.63,489.80 C41.11,491.83 43.94,494.05 46.60,495.11 C49.25,496.17 51.47,496.31 54.57,496.17 C57.67,496.04 61.65,495.02 65.19,494.31 C68.74,493.61 72.28,492.81 75.82,491.92 C79.36,491.04 82.91,491.04 86.45,489.00 C89.99,486.96 93.98,481.92 97.08,479.70 C100.17,477.49 101.95,476.60 105.05,475.72 C108.15,474.83 108.15,474.08 115.67,474.39 C123.20,474.70 142.24,476.78 150.21,477.58 C158.18,478.37 159.95,479.17 163.49,479.17 C167.04,479.17 168.81,479.92 171.46,477.58 C174.12,475.23 177.00,469.96 179.43,465.09 C181.87,460.22 184.53,451.32 186.08,448.35 C187.63,445.39 187.63,446.71 188.73,447.29 C189.84,447.87 191.39,450.04 192.72,451.81 C194.05,453.58 196.04,456.90 196.70,457.92" stroke="#f28e2b" stroke-width="1.25" fill="none" stroke-linejoin="round" stroke-dasharray="3.0,1.2,1.2,1.2"/>
<path d="M31.72,484.48 C32.87,485.46 36.15,488.69 38.63,490.33 C41.11,491.97 43.94,493.34 46.60,494.31 C49.25,495.29 51.47,496.31 54.57,496.17 C57.67,496.04 61.65,494.27 65.19,493.52 C68.74,492.76 72.28,492.63 75.82,491.66 C79.36,490.68 83.35,489.67 86.45,487.67 C89.55,485.68 91.76,481.83 94.42,479.70 C97.08,477.58 98.85,475.89 102.39,474.92 C105.93,473.95 110.36,473.72 115.67,473.86 C120.99,473.99 128.51,475.19 134.27,475.72 C140.03,476.25 145.78,476.47 150.21,477.05 C154.64,477.62 157.74,479.17 160.84,479.17 C163.94,479.17 166.15,479.17 168.81,477.05 C171.46,474.92 174.34,471.07 176.78,466.42 C179.21,461.77 181.65,452.60 183.42,449.15 C185.19,445.70 186.08,445.70 187.40,445.70 C188.73,445.70 189.84,446.36 191.39,449.15 C192.94,451.94 195.82,460.22 196.70,462.43" stroke="#f28e2b" stroke-width="1.3" fill="none" stroke-linejoin="round"/>
<path d="M31.72,471.73 C32.43,468.63 33.71,459.11 35.97,453.13 C38.23,447.16 42.61,437.64 45.27,435.87 C47.93,434.09 48.59,438.30 51.91,442.51 C55.23,446.71 60.32,456.01 65.19,461.11 C70.07,466.20 74.94,469.52 81.13,473.06 C87.33,476.60 94.42,481.03 102.39,482.36 C110.36,483.69 120.10,482.36 128.96,481.03 C137.81,479.70 149.77,474.61 155.52,474.39 C161.28,474.17 160.84,475.72 163.49,479.70 C166.15,483.69 168.36,492.10 171.46,498.30 C174.56,504.50 179.43,513.58 182.09,516.90 C184.75,520.22 185.63,519.55 187.40,518.23 C189.18,516.90 191.17,512.25 192.72,508.93 C194.27,505.61 196.04,500.07 196.70,498.30" stroke="#8f8f8f" stroke-width="1.15" fill="none" stroke-linejoin="round" stroke-dasharray="3.9,3.5"/>
<path d="M31.72,473.86 C32.07,471.73 33.14,464.78 33.84,461.11 C34.55,457.43 34.95,454.46 35.97,451.81 C36.99,449.15 38.54,447.91 39.96,445.16 C41.37,442.42 42.92,436.44 44.47,435.33 C46.02,434.23 47.57,436.44 49.25,438.52 C50.94,440.60 52.35,444.28 54.57,447.82 C56.78,451.36 59.44,456.23 62.54,459.78 C65.64,463.32 69.18,466.20 73.16,469.08 C77.15,471.95 81.58,474.83 86.45,477.05 C91.32,479.26 97.96,481.39 102.39,482.36 C106.82,483.33 108.59,483.11 113.02,482.89 C117.44,482.67 124.09,481.78 128.96,481.03 C133.83,480.28 138.26,479.48 142.24,478.37 C146.23,477.27 150.21,474.83 152.87,474.39 C155.52,473.95 156.41,473.95 158.18,475.72 C159.95,477.49 161.28,480.37 163.49,485.02 C165.71,489.67 168.81,498.52 171.46,503.61 C174.12,508.71 177.22,512.91 179.43,515.57 C181.65,518.23 182.98,520.22 184.75,519.55 C186.52,518.89 188.07,516.10 190.06,511.58 C192.05,507.07 195.60,495.64 196.70,492.45" stroke="#141414" stroke-width="1.3" fill="none" stroke-linejoin="round"/>
<path d="M32.00,528.30v-1.7 M32.00,403.40v1.7 M75.35,528.30v-1.7 M75.35,403.40v1.7 M118.70,528.30v-1.7 M118.70,403.40v1.7 M162.05,528.30v-1.7 M162.05,403.40v1.7 M205.40,528.30v-1.7 M205.40,403.40v1.7 M32.00,528.30h1.7 M205.40,528.30h-1.7 M32.00,486.67h1.7 M205.40,486.67h-1.7 M32.00,445.03h1.7 M205.40,445.03h-1.7 M32.00,403.40h1.7 M205.40,403.40h-1.7" stroke="#8a8a8a" stroke-width="0.7" fill="none"/>
<rect x="32.00" y="403.40" width="173.40" height="124.90" stroke="#9c9c9c" stroke-width="0.9" fill="none"/>
<text x="32.00" y="540.90" font-size="10.3" text-anchor="middle" fill="#2c2c2c">0</text>
<text x="75.35" y="540.90" font-size="10.3" text-anchor="middle" fill="#2c2c2c">500</text>
<text x="118.70" y="540.90" font-size="10.3" text-anchor="middle" fill="#2c2c2c">1000</text>
<text x="162.05" y="540.90" font-size="10.3" text-anchor="middle" fill="#2c2c2c">1500</text>
<text x="205.40" y="540.90" font-size="10.3" text-anchor="middle" fill="#2c2c2c">2000</text>
<text x="28.60" y="531.30" font-size="10.3" text-anchor="end" fill="#2c2c2c">0</text>
<text x="28.60" y="489.67" font-size="10.3" text-anchor="end" fill="#2c2c2c">10</text>
<text x="28.60" y="448.03" font-size="10.3" text-anchor="end" fill="#2c2c2c">20</text>
<text x="28.60" y="406.40" font-size="10.3" text-anchor="end" fill="#2c2c2c">30</text>
<text x="11.70" y="468.05" font-size="11.6" text-anchor="middle" textLength="115.00" lengthAdjust="spacingAndGlyphs" transform="rotate(-90 11.70 468.05)" fill="#2c2c2c">Anode <tspan font-style="italic">j</tspan>(<tspan font-style="italic">x</tspan>, <tspan font-style="italic">t</tspan>) (A/m<tspan font-size="8" dy="-4.2">2</tspan><tspan dy="4.2">)</tspan></text>
<text x="118.70" y="555.40" font-size="11.6" text-anchor="middle" textLength="42.50" lengthAdjust="spacingAndGlyphs" fill="#2c2c2c">Time (s)</text>
<text x="57.50" y="578.30" font-size="12.9" text-anchor="start" fill="#050505">(g) Reaction kinetics. Case 1.</text>
<rect x="72.20" y="407.20" width="92.70" height="49.00" fill="#fff" stroke="#b0b0b0" stroke-width="0.8"/>
<path d="M74.20,414.10H89.90" stroke="#141414" stroke-width="1.4" fill="none"/>
<text x="91.50" y="417.00" font-size="10.0" text-anchor="start" textLength="71.10" lengthAdjust="spacingAndGlyphs" fill="#2c2c2c">Cell 1– separator</text>
<path d="M74.20,425.70H89.90" stroke="#8f8f8f" stroke-width="1.15" stroke-dasharray="3.3,4.9" fill="none"/>
<text x="91.50" y="428.60" font-size="10.0" text-anchor="start" textLength="71.10" lengthAdjust="spacingAndGlyphs" fill="#2c2c2c">Cell 2– separator</text>
<path d="M74.20,437.30H89.90" stroke="#f28e2b" stroke-width="1.2" fill="none"/>
<text x="91.50" y="440.20" font-size="10.0" text-anchor="start" textLength="67.50" lengthAdjust="spacingAndGlyphs" fill="#2c2c2c">Cell 1– collector</text>
<path d="M74.20,449.00H89.90" stroke="#f28e2b" stroke-width="1.15" stroke-dasharray="2.4,1.1,1.1,1.1" fill="none"/>
<text x="91.50" y="451.90" font-size="10.0" text-anchor="start" textLength="67.50" lengthAdjust="spacingAndGlyphs" fill="#2c2c2c">Cell 2– collector</text>
<path d="M304.48,403.40V528.30 M347.85,403.40V528.30 M391.23,403.40V528.30 M261.10,486.67H434.60 M261.10,445.03H434.60" stroke="#e9e9e9" stroke-width="0.75" fill="none"/>
<path d="M261.19,482.36 C262.21,483.69 264.73,487.89 267.30,490.33 C269.87,492.76 273.72,495.42 276.60,496.97 C279.48,498.52 281.91,499.05 284.57,499.63 C287.22,500.20 289.44,501.09 292.54,500.43 C295.64,499.76 299.62,496.88 303.16,495.64 C306.71,494.40 310.47,495.20 313.79,492.99 C317.11,490.77 320.43,485.81 323.09,482.36 C325.75,478.91 327.30,474.26 329.73,472.26 C332.17,470.27 331.95,470.27 337.70,470.40 C343.46,470.54 356.74,471.95 364.27,473.06 C371.80,474.17 378.00,476.03 382.87,477.05 C387.74,478.06 389.95,479.61 393.49,479.17 C397.04,478.73 401.24,478.73 404.12,474.39 C407.00,470.05 408.99,458.45 410.76,453.13 C412.53,447.82 413.42,443.84 414.75,442.51 C416.08,441.18 416.87,442.29 418.73,445.16 C420.59,448.04 424.71,457.34 425.91,459.78" stroke="#f28e2b" stroke-width="1.25" fill="none" stroke-linejoin="round" stroke-dasharray="3.0,1.2,1.2,1.2"/>
<path d="M261.19,483.69 C261.99,484.57 263.84,487.23 265.97,489.00 C268.10,490.77 271.28,493.12 273.94,494.31 C276.60,495.51 278.81,496.31 281.91,496.17 C285.01,496.04 289.00,494.14 292.54,493.52 C296.08,492.90 299.62,493.21 303.16,492.45 C306.71,491.70 310.69,490.91 313.79,489.00 C316.89,487.10 319.11,483.24 321.76,481.03 C324.42,478.82 326.19,476.82 329.73,475.72 C333.27,474.61 337.26,474.48 343.02,474.39 C348.77,474.30 358.07,474.74 364.27,475.19 C370.47,475.63 375.78,476.38 380.21,477.05 C384.64,477.71 387.30,479.17 390.84,479.17 C394.38,479.17 398.59,479.39 401.46,477.05 C404.34,474.70 406.11,469.74 408.11,465.09 C410.10,460.44 411.87,452.25 413.42,449.15 C414.97,446.05 416.08,446.05 417.40,446.49 C418.73,446.94 419.97,449.46 421.39,451.81 C422.81,454.15 425.15,459.11 425.91,460.57" stroke="#f28e2b" stroke-width="1.3" fill="none" stroke-linejoin="round"/>
<path d="M261.19,471.73 C261.76,465.98 263.40,446.94 264.64,437.19 C265.88,427.45 267.61,417.80 268.63,413.28 C269.65,408.77 269.96,409.87 270.75,410.10 C271.55,410.32 272.21,410.98 273.41,414.61 C274.60,418.24 276.29,426.35 277.93,431.88 C279.56,437.42 280.80,442.51 283.24,447.82 C285.67,453.13 288.77,459.11 292.54,463.76 C296.30,468.41 300.51,472.26 305.82,475.72 C311.13,479.17 318.22,482.85 324.42,484.48 C330.62,486.12 337.26,485.81 343.02,485.55 C348.77,485.28 354.09,484.31 358.96,482.89 C363.83,481.47 368.48,478.99 372.24,477.05 C376.00,475.10 378.88,471.20 381.54,471.20 C384.20,471.20 385.75,472.97 388.18,477.05 C390.62,481.12 393.49,489.44 396.15,495.64 C398.81,501.84 401.69,510.26 404.12,514.24 C406.56,518.23 408.55,520.00 410.76,519.55 C412.98,519.11 414.88,515.79 417.40,511.58 C419.93,507.38 424.49,497.19 425.91,494.31" stroke="#8f8f8f" stroke-width="1.15" fill="none" stroke-linejoin="round" stroke-dasharray="3.9,3.5"/>
<path d="M261.19,473.06 C261.54,470.40 262.30,461.77 263.31,457.12 C264.33,452.47 265.97,448.26 267.30,445.16 C268.63,442.07 269.96,440.07 271.28,438.52 C272.61,436.97 273.94,435.73 275.27,435.87 C276.60,436.00 277.70,437.11 279.25,439.32 C280.80,441.53 282.35,445.52 284.57,449.15 C286.78,452.78 289.44,457.56 292.54,461.11 C295.64,464.65 299.18,467.53 303.16,470.40 C307.15,473.28 311.58,476.29 316.45,478.37 C321.32,480.46 327.52,482.14 332.39,482.89 C337.26,483.64 340.36,483.42 345.67,482.89 C350.99,482.36 359.40,480.68 364.27,479.70 C369.14,478.73 371.80,477.93 374.90,477.05 C378.00,476.16 380.65,474.39 382.87,474.39 C385.08,474.39 386.41,474.83 388.18,477.05 C389.95,479.26 391.28,482.80 393.49,487.67 C395.71,492.54 398.81,501.40 401.46,506.27 C404.12,511.14 407.22,515.13 409.43,516.90 C411.65,518.67 412.98,518.45 414.75,516.90 C416.52,515.35 418.20,511.49 420.06,507.60 C421.92,503.70 424.93,495.86 425.91,493.52" stroke="#141414" stroke-width="1.3" fill="none" stroke-linejoin="round"/>
<path d="M261.10,528.30v-1.7 M261.10,403.40v1.7 M304.48,528.30v-1.7 M304.48,403.40v1.7 M347.85,528.30v-1.7 M347.85,403.40v1.7 M391.23,528.30v-1.7 M391.23,403.40v1.7 M434.60,528.30v-1.7 M434.60,403.40v1.7 M261.10,528.30h1.7 M434.60,528.30h-1.7 M261.10,486.67h1.7 M434.60,486.67h-1.7 M261.10,445.03h1.7 M434.60,445.03h-1.7 M261.10,403.40h1.7 M434.60,403.40h-1.7" stroke="#8a8a8a" stroke-width="0.7" fill="none"/>
<rect x="261.10" y="403.40" width="173.50" height="124.90" stroke="#9c9c9c" stroke-width="0.9" fill="none"/>
<text x="261.10" y="540.90" font-size="10.3" text-anchor="middle" fill="#2c2c2c">0</text>
<text x="304.48" y="540.90" font-size="10.3" text-anchor="middle" fill="#2c2c2c">500</text>
<text x="347.85" y="540.90" font-size="10.3" text-anchor="middle" fill="#2c2c2c">1000</text>
<text x="391.23" y="540.90" font-size="10.3" text-anchor="middle" fill="#2c2c2c">1500</text>
<text x="434.60" y="540.90" font-size="10.3" text-anchor="middle" fill="#2c2c2c">2000</text>
<text x="257.70" y="531.30" font-size="10.3" text-anchor="end" fill="#2c2c2c">0</text>
<text x="257.70" y="489.67" font-size="10.3" text-anchor="end" fill="#2c2c2c">10</text>
<text x="257.70" y="448.03" font-size="10.3" text-anchor="end" fill="#2c2c2c">20</text>
<text x="257.70" y="406.40" font-size="10.3" text-anchor="end" fill="#2c2c2c">30</text>
<text x="241.50" y="468.05" font-size="11.6" text-anchor="middle" textLength="115.00" lengthAdjust="spacingAndGlyphs" transform="rotate(-90 241.50 468.05)" fill="#2c2c2c">Anode <tspan font-style="italic">j</tspan>(<tspan font-style="italic">x</tspan>, <tspan font-style="italic">t</tspan>) (A/m<tspan font-size="8" dy="-4.2">2</tspan><tspan dy="4.2">)</tspan></text>
<text x="347.85" y="555.40" font-size="11.6" text-anchor="middle" textLength="42.50" lengthAdjust="spacingAndGlyphs" fill="#2c2c2c">Time (s)</text>
<text x="288.10" y="578.30" font-size="12.9" text-anchor="start" fill="#050505">(h) Reaction kinetics. Case 2.</text>
<rect x="301.30" y="407.20" width="92.70" height="49.00" fill="#fff" stroke="#b0b0b0" stroke-width="0.8"/>
<path d="M303.30,414.10H319.00" stroke="#141414" stroke-width="1.4" fill="none"/>
<text x="320.60" y="417.00" font-size="10.0" text-anchor="start" textLength="71.10" lengthAdjust="spacingAndGlyphs" fill="#2c2c2c">Cell 1– separator</text>
<path d="M303.30,425.70H319.00" stroke="#8f8f8f" stroke-width="1.15" stroke-dasharray="3.3,4.9" fill="none"/>
<text x="320.60" y="428.60" font-size="10.0" text-anchor="start" textLength="71.10" lengthAdjust="spacingAndGlyphs" fill="#2c2c2c">Cell 2– separator</text>
<path d="M303.30,437.30H319.00" stroke="#f28e2b" stroke-width="1.2" fill="none"/>
<text x="320.60" y="440.20" font-size="10.0" text-anchor="start" textLength="67.50" lengthAdjust="spacingAndGlyphs" fill="#2c2c2c">Cell 1– collector</text>
<path d="M303.30,449.00H319.00" stroke="#f28e2b" stroke-width="1.15" stroke-dasharray="2.4,1.1,1.1,1.1" fill="none"/>
<text x="320.60" y="451.90" font-size="10.0" text-anchor="start" textLength="67.50" lengthAdjust="spacingAndGlyphs" fill="#2c2c2c">Cell 2– collector</text>
<path d="M533.62,403.40V528.30 M576.95,403.40V528.30 M620.28,403.40V528.30 M490.30,486.67H663.60 M490.30,445.03H663.60" stroke="#e9e9e9" stroke-width="0.75" fill="none"/>
<path d="M490.19,484.48 C491.87,484.22 496.39,483.24 500.28,482.89 C504.18,482.54 508.70,482.23 513.57,482.36 C518.44,482.49 524.19,483.02 529.51,483.69 C534.82,484.35 539.25,485.46 545.45,486.34 C551.65,487.23 558.73,488.34 566.70,489.00 C574.67,489.67 584.41,490.11 593.27,490.33 C602.13,490.55 611.87,490.55 619.84,490.33 C627.81,490.11 634.67,489.36 641.09,489.00 C647.51,488.65 655.48,488.34 658.36,488.20" stroke="#f28e2b" stroke-width="1.25" fill="none" stroke-linejoin="round" stroke-dasharray="3.0,1.2,1.2,1.2"/>
<path d="M490.19,491.66 C490.28,490.11 489.48,482.58 490.72,482.36 C491.96,482.14 495.15,488.20 497.63,490.33 C500.11,492.45 503.16,494.00 505.60,495.11 C508.03,496.22 509.58,497.33 512.24,496.97 C514.90,496.62 518.22,493.74 521.54,492.99 C524.86,492.23 528.62,493.34 532.16,492.45 C535.71,491.57 539.69,489.80 542.79,487.67 C545.89,485.55 548.11,481.83 550.76,479.70 C553.42,477.58 555.19,475.89 558.73,474.92 C562.27,473.95 566.26,473.86 572.02,473.86 C577.77,473.86 586.19,474.39 593.27,474.92 C600.35,475.45 608.77,476.34 614.52,477.05 C620.28,477.75 624.27,479.39 627.81,479.17 C631.35,478.95 633.56,478.29 635.78,475.72 C637.99,473.15 639.32,467.75 641.09,463.76 C642.86,459.78 644.86,453.80 646.40,451.81 C647.95,449.81 649.06,451.36 650.39,451.81 C651.72,452.25 653.05,452.91 654.38,454.46 C655.70,456.01 657.70,460.00 658.36,461.11" stroke="#f28e2b" stroke-width="1.3" fill="none" stroke-linejoin="round"/>
<path d="M490.19,469.61 C491.87,469.74 496.39,470.71 500.28,470.40 C504.18,470.09 509.14,468.94 513.57,467.75 C518.00,466.55 522.42,464.43 526.85,463.23 C531.28,462.04 534.38,461.28 540.13,460.57 C545.89,459.87 553.42,459.56 561.39,458.98 C569.36,458.40 579.99,457.56 587.96,457.12 C595.93,456.68 603.01,456.32 609.21,456.32 C615.41,456.32 620.28,456.54 625.15,457.12 C630.02,457.70 634.45,459.20 638.43,459.78 C642.42,460.35 645.74,461.02 649.06,460.57 C652.38,460.13 656.81,457.70 658.36,457.12" stroke="#8f8f8f" stroke-width="1.15" fill="none" stroke-linejoin="round" stroke-dasharray="3.9,3.5"/>
<path d="M490.19,475.72 C490.45,472.84 490.99,463.10 491.78,458.45 C492.58,453.80 493.77,450.92 494.97,447.82 C496.17,444.72 497.63,441.84 498.96,439.85 C500.28,437.86 501.61,436.09 502.94,435.87 C504.27,435.64 505.38,436.53 506.93,438.52 C508.48,440.52 509.80,444.06 512.24,447.82 C514.67,451.59 518.22,457.34 521.54,461.11 C524.86,464.87 528.18,467.53 532.16,470.40 C536.15,473.28 540.58,476.29 545.45,478.37 C550.32,480.46 556.08,482.00 561.39,482.89 C566.70,483.78 572.02,483.69 577.33,483.69 C582.64,483.69 588.40,483.42 593.27,482.89 C598.14,482.36 602.57,481.47 606.55,480.50 C610.54,479.53 614.75,477.84 617.18,477.05 C619.62,476.25 619.84,475.27 621.17,475.72 C622.49,476.16 623.38,475.94 625.15,479.70 C626.92,483.47 629.58,492.99 631.79,498.30 C634.01,503.61 636.44,508.71 638.43,511.58 C640.43,514.46 641.98,515.57 643.75,515.57 C645.52,515.57 646.63,514.99 649.06,511.58 C651.50,508.17 656.81,497.86 658.36,495.11" stroke="#141414" stroke-width="1.3" fill="none" stroke-linejoin="round"/>
<path d="M490.30,528.30v-1.7 M490.30,403.40v1.7 M533.62,528.30v-1.7 M533.62,403.40v1.7 M576.95,528.30v-1.7 M576.95,403.40v1.7 M620.28,528.30v-1.7 M620.28,403.40v1.7 M663.60,528.30v-1.7 M663.60,403.40v1.7 M490.30,528.30h1.7 M663.60,528.30h-1.7 M490.30,486.67h1.7 M663.60,486.67h-1.7 M490.30,445.03h1.7 M663.60,445.03h-1.7 M490.30,403.40h1.7 M663.60,403.40h-1.7" stroke="#8a8a8a" stroke-width="0.7" fill="none"/>
<rect x="490.30" y="403.40" width="173.30" height="124.90" stroke="#9c9c9c" stroke-width="0.9" fill="none"/>
<text x="490.30" y="540.90" font-size="10.3" text-anchor="middle" fill="#2c2c2c">0</text>
<text x="533.62" y="540.90" font-size="10.3" text-anchor="middle" fill="#2c2c2c">500</text>
<text x="576.95" y="540.90" font-size="10.3" text-anchor="middle" fill="#2c2c2c">1000</text>
<text x="620.28" y="540.90" font-size="10.3" text-anchor="middle" fill="#2c2c2c">1500</text>
<text x="663.60" y="540.90" font-size="10.3" text-anchor="middle" fill="#2c2c2c">2000</text>
<text x="486.90" y="531.30" font-size="10.3" text-anchor="end" fill="#2c2c2c">0</text>
<text x="486.90" y="489.67" font-size="10.3" text-anchor="end" fill="#2c2c2c">10</text>
<text x="486.90" y="448.03" font-size="10.3" text-anchor="end" fill="#2c2c2c">20</text>
<text x="486.90" y="406.40" font-size="10.3" text-anchor="end" fill="#2c2c2c">30</text>
<text x="470.60" y="468.05" font-size="11.6" text-anchor="middle" textLength="115.00" lengthAdjust="spacingAndGlyphs" transform="rotate(-90 470.60 468.05)" fill="#2c2c2c">Anode <tspan font-style="italic">j</tspan>(<tspan font-style="italic">x</tspan>, <tspan font-style="italic">t</tspan>) (A/m<tspan font-size="8" dy="-4.2">2</tspan><tspan dy="4.2">)</tspan></text>
<text x="576.95" y="555.40" font-size="11.6" text-anchor="middle" textLength="42.50" lengthAdjust="spacingAndGlyphs" fill="#2c2c2c">Time (s)</text>
<text x="513.80" y="578.30" font-size="12.9" text-anchor="start" fill="#050505">(i) Reaction kinetics. Case 3.</text>
<rect x="530.50" y="407.20" width="92.70" height="49.00" fill="#fff" stroke="#b0b0b0" stroke-width="0.8"/>
<path d="M532.50,414.10H548.20" stroke="#141414" stroke-width="1.4" fill="none"/>
<text x="549.80" y="417.00" font-size="10.0" text-anchor="start" textLength="71.10" lengthAdjust="spacingAndGlyphs" fill="#2c2c2c">Cell 1– separator</text>
<path d="M532.50,425.70H548.20" stroke="#8f8f8f" stroke-width="1.15" stroke-dasharray="3.3,4.9" fill="none"/>
<text x="549.80" y="428.60" font-size="10.0" text-anchor="start" textLength="71.10" lengthAdjust="spacingAndGlyphs" fill="#2c2c2c">Cell 2– separator</text>
<path d="M532.50,437.30H548.20" stroke="#f28e2b" stroke-width="1.2" fill="none"/>
<text x="549.80" y="440.20" font-size="10.0" text-anchor="start" textLength="67.50" lengthAdjust="spacingAndGlyphs" fill="#2c2c2c">Cell 1– collector</text>
<path d="M532.50,449.00H548.20" stroke="#f28e2b" stroke-width="1.15" stroke-dasharray="2.4,1.1,1.1,1.1" fill="none"/>
<text x="549.80" y="451.90" font-size="10.0" text-anchor="start" textLength="67.50" lengthAdjust="spacingAndGlyphs" fill="#2c2c2c">Cell 2– collector</text>
<path d="M117.65,597.40V722.40 M30.90,697.40H204.40 M30.90,672.40H204.40 M30.90,647.40H204.40 M30.90,622.40H204.40" stroke="#e9e9e9" stroke-width="0.75" fill="none"/>
<clipPath id="cp30"><rect x="30.90" y="597.40" width="173.50" height="125.00"/></clipPath>
<g clip-path="url(#cp30)">
<path d="M30.90,668.40 C31.62,668.35 33.79,668.20 35.24,668.10 C36.68,668.00 38.13,667.90 39.58,667.80 C41.02,667.70 42.47,667.61 43.91,667.51 C45.36,667.41 46.80,667.31 48.25,667.21 C49.70,667.12 51.14,667.02 52.59,666.92 C54.03,666.83 55.48,666.73 56.92,666.63 C58.37,666.54 59.82,666.44 61.26,666.35 C62.71,666.25 64.15,666.15 65.60,666.06 C67.05,665.96 68.49,665.87 69.94,665.78 C71.38,665.68 72.83,665.59 74.28,665.49 C75.72,665.40 77.17,665.31 78.61,665.21 C80.06,665.12 81.50,665.03 82.95,664.93 C84.40,664.84 85.84,664.75 87.29,664.66 C88.73,664.57 90.18,664.47 91.62,664.38 C93.07,664.29 94.52,664.20 95.96,664.11 C97.41,664.02 98.85,663.93 100.30,663.84 C101.75,663.75 103.19,663.66 104.64,663.57 C106.08,663.48 107.53,663.39 108.97,663.30 C110.42,663.21 111.87,663.13 113.31,663.04 C114.76,662.95 116.20,662.86 117.65,662.77 C119.10,662.69 120.54,662.60 121.99,662.51 C123.43,662.43 124.88,662.34 126.33,662.25 C127.77,662.17 129.22,662.08 130.66,662.00 C132.11,661.91 133.55,661.83 135.00,661.74 C136.45,661.65 137.89,661.57 139.34,661.49 C140.78,661.40 142.23,661.32 143.68,661.23 C145.12,661.15 146.57,661.07 148.01,660.98 C149.46,660.90 150.90,660.82 152.35,660.74 C153.80,660.65 155.24,660.57 156.69,660.49 C158.13,660.41 159.58,660.33 161.03,660.24 C162.47,660.16 163.92,660.08 165.36,660.00 C166.81,659.92 168.25,659.84 169.70,659.76 C171.15,659.68 172.59,659.60 174.04,659.52 C175.48,659.44 176.93,659.36 178.38,659.28 C179.82,659.20 181.27,659.13 182.71,659.05 C184.16,658.97 185.60,658.89 187.05,658.81 C188.50,658.74 189.94,658.66 191.39,658.58 C192.83,658.51 194.28,658.43 195.72,658.35 C197.17,658.28 198.62,658.20 200.06,658.13 C201.51,658.05 203.68,657.94 204.40,657.90" stroke="#737373" stroke-width="0.6" fill="none" stroke-linejoin="round"/>
<path d="M30.90,667.40 C31.62,667.35 33.79,667.22 35.24,667.13 C36.68,667.04 38.13,666.95 39.58,666.86 C41.02,666.76 42.47,666.68 43.91,666.59 C45.36,666.50 46.80,666.41 48.25,666.32 C49.70,666.23 51.14,666.14 52.59,666.06 C54.03,665.97 55.48,665.88 56.92,665.79 C58.37,665.71 59.82,665.62 61.26,665.54 C62.71,665.45 64.15,665.37 65.60,665.28 C67.05,665.19 68.49,665.11 69.94,665.03 C71.38,664.94 72.83,664.86 74.28,664.77 C75.72,664.69 77.17,664.61 78.61,664.53 C80.06,664.44 81.50,664.36 82.95,664.28 C84.40,664.20 85.84,664.12 87.29,664.04 C88.73,663.96 90.18,663.88 91.62,663.79 C93.07,663.71 94.52,663.64 95.96,663.56 C97.41,663.48 98.85,663.40 100.30,663.32 C101.75,663.24 103.19,663.16 104.64,663.09 C106.08,663.01 107.53,662.93 108.97,662.86 C110.42,662.78 111.87,662.70 113.31,662.63 C114.76,662.55 116.20,662.48 117.65,662.40 C119.10,662.32 120.54,662.25 121.99,662.18 C123.43,662.10 124.88,662.03 126.33,661.95 C127.77,661.88 129.22,661.81 130.66,661.74 C132.11,661.66 133.55,661.59 135.00,661.52 C136.45,661.45 137.89,661.38 139.34,661.31 C140.78,661.24 142.23,661.16 143.68,661.10 C145.12,661.03 146.57,660.96 148.01,660.89 C149.46,660.82 150.90,660.75 152.35,660.68 C153.80,660.61 155.24,660.54 156.69,660.48 C158.13,660.41 159.58,660.34 161.03,660.27 C162.47,660.21 163.92,660.14 165.36,660.08 C166.81,660.01 168.25,659.94 169.70,659.88 C171.15,659.82 172.59,659.75 174.04,659.69 C175.48,659.62 176.93,659.56 178.38,659.50 C179.82,659.43 181.27,659.37 182.71,659.31 C184.16,659.24 185.60,659.18 187.05,659.12 C188.50,659.06 189.94,659.00 191.39,658.94 C192.83,658.88 194.28,658.82 195.72,658.75 C197.17,658.69 198.62,658.64 200.06,658.58 C201.51,658.52 203.68,658.43 204.40,658.40" stroke="#737373" stroke-width="0.6" fill="none" stroke-linejoin="round"/>
<path d="M30.90,666.40 C31.62,666.37 33.79,666.27 35.24,666.20 C36.68,666.13 38.13,666.07 39.58,666.00 C41.02,665.94 42.47,665.87 43.91,665.81 C45.36,665.74 46.80,665.67 48.25,665.61 C49.70,665.55 51.14,665.48 52.59,665.42 C54.03,665.35 55.48,665.29 56.92,665.22 C58.37,665.16 59.82,665.09 61.26,665.03 C62.71,664.97 64.15,664.90 65.60,664.84 C67.05,664.78 68.49,664.71 69.94,664.65 C71.38,664.59 72.83,664.52 74.28,664.46 C75.72,664.40 77.17,664.34 78.61,664.28 C80.06,664.21 81.50,664.15 82.95,664.09 C84.40,664.03 85.84,663.97 87.29,663.91 C88.73,663.84 90.18,663.78 91.62,663.72 C93.07,663.66 94.52,663.60 95.96,663.54 C97.41,663.48 98.85,663.42 100.30,663.36 C101.75,663.30 103.19,663.24 104.64,663.18 C106.08,663.12 107.53,663.06 108.97,663.00 C110.42,662.94 111.87,662.88 113.31,662.83 C114.76,662.77 116.20,662.71 117.65,662.65 C119.10,662.59 120.54,662.53 121.99,662.48 C123.43,662.42 124.88,662.36 126.33,662.30 C127.77,662.25 129.22,662.19 130.66,662.13 C132.11,662.07 133.55,662.02 135.00,661.96 C136.45,661.90 137.89,661.85 139.34,661.79 C140.78,661.73 142.23,661.68 143.68,661.62 C145.12,661.57 146.57,661.51 148.01,661.46 C149.46,661.40 150.90,661.34 152.35,661.29 C153.80,661.24 155.24,661.18 156.69,661.13 C158.13,661.07 159.58,661.02 161.03,660.96 C162.47,660.91 163.92,660.85 165.36,660.80 C166.81,660.75 168.25,660.69 169.70,660.64 C171.15,660.59 172.59,660.53 174.04,660.48 C175.48,660.43 176.93,660.38 178.38,660.32 C179.82,660.27 181.27,660.22 182.71,660.17 C184.16,660.11 185.60,660.06 187.05,660.01 C188.50,659.96 189.94,659.91 191.39,659.86 C192.83,659.80 194.28,659.75 195.72,659.70 C197.17,659.65 198.62,659.60 200.06,659.55 C201.51,659.50 203.68,659.43 204.40,659.40" stroke="#737373" stroke-width="0.6" fill="none" stroke-linejoin="round"/>
<path d="M30.90,665.40 C31.62,665.36 33.79,665.26 35.24,665.19 C36.68,665.12 38.13,665.05 39.58,664.98 C41.02,664.91 42.47,664.85 43.91,664.78 C45.36,664.71 46.80,664.65 48.25,664.58 C49.70,664.51 51.14,664.45 52.59,664.38 C54.03,664.32 55.48,664.26 56.92,664.19 C58.37,664.13 59.82,664.07 61.26,664.00 C62.71,663.94 64.15,663.88 65.60,663.82 C67.05,663.76 68.49,663.70 69.94,663.64 C71.38,663.58 72.83,663.52 74.28,663.46 C75.72,663.40 77.17,663.35 78.61,663.29 C80.06,663.23 81.50,663.18 82.95,663.12 C84.40,663.06 85.84,663.01 87.29,662.95 C88.73,662.90 90.18,662.85 91.62,662.79 C93.07,662.74 94.52,662.69 95.96,662.63 C97.41,662.58 98.85,662.53 100.30,662.48 C101.75,662.43 103.19,662.38 104.64,662.33 C106.08,662.28 107.53,662.23 108.97,662.18 C110.42,662.13 111.87,662.09 113.31,662.04 C114.76,661.99 116.20,661.95 117.65,661.90 C119.10,661.85 120.54,661.81 121.99,661.76 C123.43,661.72 124.88,661.68 126.33,661.63 C127.77,661.59 129.22,661.55 130.66,661.50 C132.11,661.46 133.55,661.42 135.00,661.38 C136.45,661.34 137.89,661.30 139.34,661.26 C140.78,661.22 142.23,661.18 143.68,661.14 C145.12,661.10 146.57,661.07 148.01,661.03 C149.46,660.99 150.90,660.96 152.35,660.92 C153.80,660.88 155.24,660.85 156.69,660.81 C158.13,660.78 159.58,660.75 161.03,660.71 C162.47,660.68 163.92,660.65 165.36,660.61 C166.81,660.58 168.25,660.55 169.70,660.52 C171.15,660.49 172.59,660.46 174.04,660.43 C175.48,660.40 176.93,660.37 178.38,660.34 C179.82,660.31 181.27,660.29 182.71,660.26 C184.16,660.23 185.60,660.21 187.05,660.18 C188.50,660.15 189.94,660.13 191.39,660.10 C192.83,660.08 194.28,660.06 195.72,660.03 C197.17,660.01 198.62,659.99 200.06,659.96 C201.51,659.94 203.68,659.91 204.40,659.90" stroke="#737373" stroke-width="0.6" fill="none" stroke-linejoin="round"/>
<path d="M30.90,664.40 C31.62,664.38 33.79,664.32 35.24,664.28 C36.68,664.23 38.13,664.19 39.58,664.15 C41.02,664.11 42.47,664.07 43.91,664.03 C45.36,663.99 46.80,663.95 48.25,663.91 C49.70,663.88 51.14,663.84 52.59,663.80 C54.03,663.76 55.48,663.72 56.92,663.68 C58.37,663.65 59.82,663.61 61.26,663.57 C62.71,663.53 64.15,663.50 65.60,663.46 C67.05,663.42 68.49,663.39 69.94,663.35 C71.38,663.31 72.83,663.28 74.28,663.24 C75.72,663.21 77.17,663.17 78.61,663.14 C80.06,663.10 81.50,663.07 82.95,663.03 C84.40,663.00 85.84,662.97 87.29,662.93 C88.73,662.90 90.18,662.87 91.62,662.83 C93.07,662.80 94.52,662.77 95.96,662.74 C97.41,662.70 98.85,662.67 100.30,662.64 C101.75,662.61 103.19,662.58 104.64,662.55 C106.08,662.51 107.53,662.48 108.97,662.45 C110.42,662.42 111.87,662.39 113.31,662.36 C114.76,662.33 116.20,662.30 117.65,662.27 C119.10,662.25 120.54,662.22 121.99,662.19 C123.43,662.16 124.88,662.13 126.33,662.10 C127.77,662.08 129.22,662.05 130.66,662.02 C132.11,661.99 133.55,661.97 135.00,661.94 C136.45,661.91 137.89,661.89 139.34,661.86 C140.78,661.83 142.23,661.81 143.68,661.78 C145.12,661.76 146.57,661.73 148.01,661.71 C149.46,661.68 150.90,661.66 152.35,661.63 C153.80,661.61 155.24,661.59 156.69,661.56 C158.13,661.54 159.58,661.52 161.03,661.49 C162.47,661.47 163.92,661.45 165.36,661.43 C166.81,661.40 168.25,661.38 169.70,661.36 C171.15,661.34 172.59,661.32 174.04,661.30 C175.48,661.27 176.93,661.25 178.38,661.23 C179.82,661.21 181.27,661.19 182.71,661.17 C184.16,661.15 185.60,661.13 187.05,661.12 C188.50,661.10 189.94,661.08 191.39,661.06 C192.83,661.04 194.28,661.02 195.72,661.00 C197.17,660.99 198.62,660.97 200.06,660.95 C201.51,660.93 203.68,660.91 204.40,660.90" stroke="#737373" stroke-width="0.6" fill="none" stroke-linejoin="round"/>
<path d="M30.90,663.40 C31.62,663.38 33.79,663.32 35.24,663.28 C36.68,663.24 38.13,663.19 39.58,663.15 C41.02,663.12 42.47,663.08 43.91,663.04 C45.36,663.00 46.80,662.96 48.25,662.92 C49.70,662.88 51.14,662.84 52.59,662.81 C54.03,662.77 55.48,662.73 56.92,662.69 C58.37,662.66 59.82,662.62 61.26,662.59 C62.71,662.55 64.15,662.51 65.60,662.48 C67.05,662.45 68.49,662.41 69.94,662.38 C71.38,662.34 72.83,662.31 74.28,662.27 C75.72,662.24 77.17,662.21 78.61,662.18 C80.06,662.14 81.50,662.11 82.95,662.08 C84.40,662.05 85.84,662.02 87.29,661.99 C88.73,661.96 90.18,661.92 91.62,661.89 C93.07,661.87 94.52,661.84 95.96,661.81 C97.41,661.78 98.85,661.75 100.30,661.72 C101.75,661.69 103.19,661.66 104.64,661.64 C106.08,661.61 107.53,661.58 108.97,661.55 C110.42,661.53 111.87,661.50 113.31,661.48 C114.76,661.45 116.20,661.42 117.65,661.40 C119.10,661.38 120.54,661.35 121.99,661.33 C123.43,661.30 124.88,661.28 126.33,661.25 C127.77,661.23 129.22,661.21 130.66,661.19 C132.11,661.16 133.55,661.14 135.00,661.12 C136.45,661.10 137.89,661.08 139.34,661.06 C140.78,661.04 142.23,661.01 143.68,661.00 C145.12,660.98 146.57,660.96 148.01,660.94 C149.46,660.92 150.90,660.90 152.35,660.88 C153.80,660.86 155.24,660.84 156.69,660.83 C158.13,660.81 159.58,660.79 161.03,660.77 C162.47,660.76 163.92,660.74 165.36,660.73 C166.81,660.71 168.25,660.69 169.70,660.68 C171.15,660.66 172.59,660.65 174.04,660.64 C175.48,660.62 176.93,660.61 178.38,660.60 C179.82,660.58 181.27,660.57 182.71,660.56 C184.16,660.54 185.60,660.53 187.05,660.52 C188.50,660.51 189.94,660.50 191.39,660.49 C192.83,660.48 194.28,660.46 195.72,660.45 C197.17,660.44 198.62,660.44 200.06,660.43 C201.51,660.42 203.68,660.40 204.40,660.40" stroke="#737373" stroke-width="0.6" fill="none" stroke-linejoin="round"/>
<path d="M30.90,662.40 C31.62,662.38 33.79,662.31 35.24,662.26 C36.68,662.22 38.13,662.18 39.58,662.13 C41.02,662.09 42.47,662.04 43.91,662.00 C45.36,661.96 46.80,661.92 48.25,661.88 C49.70,661.83 51.14,661.79 52.59,661.75 C54.03,661.71 55.48,661.67 56.92,661.63 C58.37,661.59 59.82,661.55 61.26,661.51 C62.71,661.48 64.15,661.44 65.60,661.40 C67.05,661.36 68.49,661.33 69.94,661.29 C71.38,661.25 72.83,661.22 74.28,661.18 C75.72,661.15 77.17,661.11 78.61,661.08 C80.06,661.04 81.50,661.01 82.95,660.98 C84.40,660.94 85.84,660.91 87.29,660.88 C88.73,660.84 90.18,660.81 91.62,660.78 C93.07,660.75 94.52,660.72 95.96,660.69 C97.41,660.66 98.85,660.63 100.30,660.60 C101.75,660.57 103.19,660.54 104.64,660.51 C106.08,660.49 107.53,660.46 108.97,660.43 C110.42,660.40 111.87,660.38 113.31,660.35 C114.76,660.33 116.20,660.30 117.65,660.27 C119.10,660.25 120.54,660.23 121.99,660.20 C123.43,660.18 124.88,660.15 126.33,660.13 C127.77,660.11 129.22,660.09 130.66,660.06 C132.11,660.04 133.55,660.02 135.00,660.00 C136.45,659.98 137.89,659.96 139.34,659.94 C140.78,659.92 142.23,659.90 143.68,659.88 C145.12,659.86 146.57,659.84 148.01,659.83 C149.46,659.81 150.90,659.79 152.35,659.77 C153.80,659.76 155.24,659.74 156.69,659.73 C158.13,659.71 159.58,659.70 161.03,659.68 C162.47,659.67 163.92,659.65 165.36,659.64 C166.81,659.63 168.25,659.61 169.70,659.60 C171.15,659.59 172.59,659.58 174.04,659.56 C175.48,659.55 176.93,659.54 178.38,659.53 C179.82,659.52 181.27,659.51 182.71,659.50 C184.16,659.49 185.60,659.48 187.05,659.48 C188.50,659.47 189.94,659.46 191.39,659.45 C192.83,659.44 194.28,659.44 195.72,659.43 C197.17,659.42 198.62,659.42 200.06,659.41 C201.51,659.41 203.68,659.40 204.40,659.40" stroke="#737373" stroke-width="0.6" fill="none" stroke-linejoin="round"/>
<path d="M30.90,661.40 C31.62,661.41 33.79,661.44 35.24,661.46 C36.68,661.48 38.13,661.51 39.58,661.53 C41.02,661.55 42.47,661.57 43.91,661.59 C45.36,661.62 46.80,661.64 48.25,661.66 C49.70,661.68 51.14,661.71 52.59,661.73 C54.03,661.75 55.48,661.77 56.92,661.80 C58.37,661.82 59.82,661.84 61.26,661.87 C62.71,661.89 64.15,661.92 65.60,661.94 C67.05,661.96 68.49,661.99 69.94,662.01 C71.38,662.04 72.83,662.06 74.28,662.09 C75.72,662.11 77.17,662.14 78.61,662.16 C80.06,662.19 81.50,662.21 82.95,662.24 C84.40,662.27 85.84,662.29 87.29,662.32 C88.73,662.34 90.18,662.37 91.62,662.40 C93.07,662.42 94.52,662.45 95.96,662.48 C97.41,662.51 98.85,662.53 100.30,662.56 C101.75,662.59 103.19,662.62 104.64,662.64 C106.08,662.67 107.53,662.70 108.97,662.73 C110.42,662.76 111.87,662.78 113.31,662.81 C114.76,662.84 116.20,662.87 117.65,662.90 C119.10,662.93 120.54,662.96 121.99,662.99 C123.43,663.02 124.88,663.05 126.33,663.08 C127.77,663.11 129.22,663.14 130.66,663.17 C132.11,663.20 133.55,663.23 135.00,663.26 C136.45,663.29 137.89,663.32 139.34,663.35 C140.78,663.38 142.23,663.42 143.68,663.45 C145.12,663.48 146.57,663.51 148.01,663.54 C149.46,663.58 150.90,663.61 152.35,663.64 C153.80,663.67 155.24,663.71 156.69,663.74 C158.13,663.77 159.58,663.80 161.03,663.84 C162.47,663.87 163.92,663.90 165.36,663.94 C166.81,663.97 168.25,664.01 169.70,664.04 C171.15,664.07 172.59,664.11 174.04,664.14 C175.48,664.18 176.93,664.21 178.38,664.25 C179.82,664.28 181.27,664.32 182.71,664.35 C184.16,664.39 185.60,664.42 187.05,664.46 C188.50,664.50 189.94,664.53 191.39,664.57 C192.83,664.60 194.28,664.64 195.72,664.68 C197.17,664.71 198.62,664.75 200.06,664.79 C201.51,664.83 203.68,664.88 204.40,664.90" stroke="#737373" stroke-width="0.6" fill="none" stroke-linejoin="round"/>
<path d="M30.90,659.90 C31.62,659.91 33.79,659.96 35.24,659.99 C36.68,660.02 38.13,660.05 39.58,660.08 C41.02,660.11 42.47,660.15 43.91,660.18 C45.36,660.21 46.80,660.25 48.25,660.28 C49.70,660.31 51.14,660.35 52.59,660.38 C54.03,660.42 55.48,660.46 56.92,660.49 C58.37,660.53 59.82,660.57 61.26,660.60 C62.71,660.64 64.15,660.68 65.60,660.72 C67.05,660.76 68.49,660.80 69.94,660.84 C71.38,660.88 72.83,660.92 74.28,660.96 C75.72,661.00 77.17,661.05 78.61,661.09 C80.06,661.13 81.50,661.18 82.95,661.22 C84.40,661.26 85.84,661.31 87.29,661.35 C88.73,661.40 90.18,661.45 91.62,661.49 C93.07,661.54 94.52,661.59 95.96,661.63 C97.41,661.68 98.85,661.73 100.30,661.78 C101.75,661.83 103.19,661.88 104.64,661.93 C106.08,661.98 107.53,662.03 108.97,662.08 C110.42,662.13 111.87,662.19 113.31,662.24 C114.76,662.29 116.20,662.35 117.65,662.40 C119.10,662.45 120.54,662.51 121.99,662.56 C123.43,662.62 124.88,662.68 126.33,662.73 C127.77,662.79 129.22,662.85 130.66,662.90 C132.11,662.96 133.55,663.02 135.00,663.08 C136.45,663.14 137.89,663.20 139.34,663.26 C140.78,663.32 142.23,663.38 143.68,663.44 C145.12,663.50 146.57,663.57 148.01,663.63 C149.46,663.69 150.90,663.76 152.35,663.82 C153.80,663.88 155.24,663.95 156.69,664.01 C158.13,664.08 159.58,664.15 161.03,664.21 C162.47,664.28 163.92,664.35 165.36,664.41 C166.81,664.48 168.25,664.55 169.70,664.62 C171.15,664.69 172.59,664.76 174.04,664.83 C175.48,664.90 176.93,664.97 178.38,665.04 C179.82,665.11 181.27,665.19 182.71,665.26 C184.16,665.33 185.60,665.41 187.05,665.48 C188.50,665.55 189.94,665.63 191.39,665.70 C192.83,665.78 194.28,665.86 195.72,665.93 C197.17,666.01 198.62,666.09 200.06,666.16 C201.51,666.24 203.68,666.36 204.40,666.40" stroke="#737373" stroke-width="0.6" fill="none" stroke-linejoin="round"/>
<path d="M30.90,658.40 C31.62,658.44 33.79,658.56 35.24,658.64 C36.68,658.72 38.13,658.80 39.58,658.88 C41.02,658.96 42.47,659.04 43.91,659.12 C45.36,659.20 46.80,659.28 48.25,659.37 C49.70,659.45 51.14,659.53 52.59,659.61 C54.03,659.69 55.48,659.78 56.92,659.86 C58.37,659.94 59.82,660.02 61.26,660.11 C62.71,660.19 64.15,660.28 65.60,660.36 C67.05,660.44 68.49,660.53 69.94,660.61 C71.38,660.70 72.83,660.78 74.28,660.87 C75.72,660.95 77.17,661.04 78.61,661.13 C80.06,661.21 81.50,661.30 82.95,661.38 C84.40,661.47 85.84,661.56 87.29,661.65 C88.73,661.73 90.18,661.82 91.62,661.91 C93.07,662.00 94.52,662.08 95.96,662.17 C97.41,662.26 98.85,662.35 100.30,662.44 C101.75,662.53 103.19,662.62 104.64,662.71 C106.08,662.80 107.53,662.89 108.97,662.98 C110.42,663.07 111.87,663.16 113.31,663.25 C114.76,663.34 116.20,663.43 117.65,663.52 C119.10,663.62 120.54,663.71 121.99,663.80 C123.43,663.89 124.88,663.99 126.33,664.08 C127.77,664.17 129.22,664.26 130.66,664.36 C132.11,664.45 133.55,664.55 135.00,664.64 C136.45,664.73 137.89,664.83 139.34,664.92 C140.78,665.02 142.23,665.11 143.68,665.21 C145.12,665.30 146.57,665.40 148.01,665.50 C149.46,665.59 150.90,665.69 152.35,665.78 C153.80,665.88 155.24,665.98 156.69,666.08 C158.13,666.17 159.58,666.27 161.03,666.37 C162.47,666.47 163.92,666.56 165.36,666.66 C166.81,666.76 168.25,666.86 169.70,666.96 C171.15,667.06 172.59,667.16 174.04,667.26 C175.48,667.36 176.93,667.46 178.38,667.56 C179.82,667.66 181.27,667.76 182.71,667.86 C184.16,667.96 185.60,668.06 187.05,668.16 C188.50,668.27 189.94,668.37 191.39,668.47 C192.83,668.57 194.28,668.68 195.72,668.78 C197.17,668.88 198.62,668.98 200.06,669.09 C201.51,669.19 203.68,669.35 204.40,669.40" stroke="#737373" stroke-width="0.6" fill="none" stroke-linejoin="round"/>
<path d="M30.90,659.40 C31.62,659.45 33.79,659.58 35.24,659.68 C36.68,659.77 38.13,659.86 39.58,659.96 C41.02,660.05 42.47,660.14 43.91,660.24 C45.36,660.33 46.80,660.43 48.25,660.52 C49.70,660.62 51.14,660.72 52.59,660.81 C54.03,660.91 55.48,661.01 56.92,661.11 C58.37,661.20 59.82,661.30 61.26,661.40 C62.71,661.50 64.15,661.60 65.60,661.70 C67.05,661.80 68.49,661.90 69.94,662.00 C71.38,662.10 72.83,662.20 74.28,662.31 C75.72,662.41 77.17,662.51 78.61,662.61 C80.06,662.72 81.50,662.82 82.95,662.92 C84.40,663.03 85.84,663.13 87.29,663.24 C88.73,663.34 90.18,663.45 91.62,663.56 C93.07,663.66 94.52,663.77 95.96,663.88 C97.41,663.98 98.85,664.09 100.30,664.20 C101.75,664.31 103.19,664.42 104.64,664.53 C106.08,664.64 107.53,664.75 108.97,664.86 C110.42,664.97 111.87,665.08 113.31,665.19 C114.76,665.30 116.20,665.41 117.65,665.52 C119.10,665.64 120.54,665.75 121.99,665.86 C123.43,665.98 124.88,666.09 126.33,666.21 C127.77,666.32 129.22,666.44 130.66,666.55 C132.11,666.67 133.55,666.78 135.00,666.90 C136.45,667.02 137.89,667.13 139.34,667.25 C140.78,667.37 142.23,667.49 143.68,667.61 C145.12,667.72 146.57,667.84 148.01,667.96 C149.46,668.08 150.90,668.20 152.35,668.32 C153.80,668.45 155.24,668.57 156.69,668.69 C158.13,668.81 159.58,668.93 161.03,669.06 C162.47,669.18 163.92,669.30 165.36,669.43 C166.81,669.55 168.25,669.67 169.70,669.80 C171.15,669.92 172.59,670.05 174.04,670.18 C175.48,670.30 176.93,670.43 178.38,670.56 C179.82,670.68 181.27,670.81 182.71,670.94 C184.16,671.07 185.60,671.20 187.05,671.32 C188.50,671.45 189.94,671.58 191.39,671.71 C192.83,671.84 194.28,671.97 195.72,672.11 C197.17,672.24 198.62,672.37 200.06,672.50 C201.51,672.63 203.68,672.83 204.40,672.90" stroke="#737373" stroke-width="0.6" fill="none" stroke-linejoin="round"/>
<path d="M30.90,667.40 C31.62,667.36 33.79,667.23 35.24,667.15 C36.68,667.07 38.13,666.98 39.58,666.90 C41.02,666.82 42.47,666.74 43.91,666.65 C45.36,666.57 46.80,666.49 48.25,666.40 C49.70,666.32 51.14,666.24 52.59,666.16 C54.03,666.08 55.48,665.99 56.92,665.91 C58.37,665.83 59.82,665.75 61.26,665.67 C62.71,665.58 64.15,665.50 65.60,665.42 C67.05,665.34 68.49,665.26 69.94,665.18 C71.38,665.09 72.83,665.01 74.28,664.93 C75.72,664.85 77.17,664.77 78.61,664.69 C80.06,664.61 81.50,664.53 82.95,664.44 C84.40,664.36 85.84,664.28 87.29,664.20 C88.73,664.12 90.18,664.04 91.62,663.96 C93.07,663.88 94.52,663.80 95.96,663.72 C97.41,663.64 98.85,663.56 100.30,663.48 C101.75,663.40 103.19,663.32 104.64,663.24 C106.08,663.16 107.53,663.08 108.97,663.00 C110.42,662.92 111.87,662.84 113.31,662.76 C114.76,662.68 116.20,662.60 117.65,662.52 C119.10,662.45 120.54,662.37 121.99,662.29 C123.43,662.21 124.88,662.13 126.33,662.05 C127.77,661.97 129.22,661.89 130.66,661.82 C132.11,661.74 133.55,661.66 135.00,661.58 C136.45,661.50 137.89,661.42 139.34,661.35 C140.78,661.27 142.23,661.19 143.68,661.11 C145.12,661.03 146.57,660.96 148.01,660.88 C149.46,660.80 150.90,660.72 152.35,660.64 C153.80,660.57 155.24,660.49 156.69,660.41 C158.13,660.34 159.58,660.26 161.03,660.18 C162.47,660.10 163.92,660.03 165.36,659.95 C166.81,659.87 168.25,659.80 169.70,659.72 C171.15,659.64 172.59,659.57 174.04,659.49 C175.48,659.41 176.93,659.34 178.38,659.26 C179.82,659.19 181.27,659.11 182.71,659.03 C184.16,658.96 185.60,658.88 187.05,658.80 C188.50,658.73 189.94,658.65 191.39,658.58 C192.83,658.50 194.28,658.43 195.72,658.35 C197.17,658.28 198.62,658.20 200.06,658.13 C201.51,658.05 203.68,657.94 204.40,657.90" stroke="#737373" stroke-width="0.6" fill="none" stroke-linejoin="round"/>
<path d="M30.90,665.90 C31.62,665.87 33.79,665.78 35.24,665.73 C36.68,665.67 38.13,665.61 39.58,665.55 C41.02,665.49 42.47,665.43 43.91,665.38 C45.36,665.32 46.80,665.26 48.25,665.20 C49.70,665.14 51.14,665.08 52.59,665.02 C54.03,664.97 55.48,664.91 56.92,664.85 C58.37,664.79 59.82,664.73 61.26,664.67 C62.71,664.62 64.15,664.56 65.60,664.50 C67.05,664.44 68.49,664.38 69.94,664.32 C71.38,664.27 72.83,664.21 74.28,664.15 C75.72,664.09 77.17,664.03 78.61,663.98 C80.06,663.92 81.50,663.86 82.95,663.80 C84.40,663.74 85.84,663.68 87.29,663.62 C88.73,663.57 90.18,663.51 91.62,663.45 C93.07,663.39 94.52,663.33 95.96,663.27 C97.41,663.22 98.85,663.16 100.30,663.10 C101.75,663.04 103.19,662.98 104.64,662.92 C106.08,662.87 107.53,662.81 108.97,662.75 C110.42,662.69 111.87,662.63 113.31,662.57 C114.76,662.52 116.20,662.46 117.65,662.40 C119.10,662.34 120.54,662.28 121.99,662.23 C123.43,662.17 124.88,662.11 126.33,662.05 C127.77,661.99 129.22,661.93 130.66,661.88 C132.11,661.82 133.55,661.76 135.00,661.70 C136.45,661.64 137.89,661.58 139.34,661.52 C140.78,661.47 142.23,661.41 143.68,661.35 C145.12,661.29 146.57,661.23 148.01,661.17 C149.46,661.12 150.90,661.06 152.35,661.00 C153.80,660.94 155.24,660.88 156.69,660.82 C158.13,660.77 159.58,660.71 161.03,660.65 C162.47,660.59 163.92,660.53 165.36,660.48 C166.81,660.42 168.25,660.36 169.70,660.30 C171.15,660.24 172.59,660.18 174.04,660.12 C175.48,660.07 176.93,660.01 178.38,659.95 C179.82,659.89 181.27,659.83 182.71,659.77 C184.16,659.72 185.60,659.66 187.05,659.60 C188.50,659.54 189.94,659.48 191.39,659.42 C192.83,659.37 194.28,659.31 195.72,659.25 C197.17,659.19 198.62,659.13 200.06,659.07 C201.51,659.02 203.68,658.93 204.40,658.90" stroke="#737373" stroke-width="0.6" fill="none" stroke-linejoin="round"/>
<path d="M30.90,667.90 C31.62,667.86 33.79,667.74 35.24,667.66 C36.68,667.58 38.13,667.50 39.58,667.42 C41.02,667.34 42.47,667.26 43.91,667.18 C45.36,667.10 46.80,667.02 48.25,666.94 C49.70,666.86 51.14,666.78 52.59,666.70 C54.03,666.62 55.48,666.53 56.92,666.45 C58.37,666.37 59.82,666.29 61.26,666.21 C62.71,666.12 64.15,666.04 65.60,665.96 C67.05,665.88 68.49,665.79 69.94,665.71 C71.38,665.63 72.83,665.55 74.28,665.46 C75.72,665.38 77.17,665.30 78.61,665.21 C80.06,665.13 81.50,665.04 82.95,664.96 C84.40,664.88 85.84,664.79 87.29,664.71 C88.73,664.62 90.18,664.54 91.62,664.45 C93.07,664.37 94.52,664.28 95.96,664.20 C97.41,664.11 98.85,664.03 100.30,663.94 C101.75,663.85 103.19,663.77 104.64,663.68 C106.08,663.60 107.53,663.51 108.97,663.42 C110.42,663.34 111.87,663.25 113.31,663.16 C114.76,663.07 116.20,662.99 117.65,662.90 C119.10,662.81 120.54,662.72 121.99,662.64 C123.43,662.55 124.88,662.46 126.33,662.37 C127.77,662.28 129.22,662.20 130.66,662.11 C132.11,662.02 133.55,661.93 135.00,661.84 C136.45,661.75 137.89,661.66 139.34,661.57 C140.78,661.48 142.23,661.39 143.68,661.30 C145.12,661.21 146.57,661.12 148.01,661.03 C149.46,660.94 150.90,660.85 152.35,660.76 C153.80,660.67 155.24,660.58 156.69,660.49 C158.13,660.40 159.58,660.30 161.03,660.21 C162.47,660.12 163.92,660.03 165.36,659.94 C166.81,659.84 168.25,659.75 169.70,659.66 C171.15,659.57 172.59,659.47 174.04,659.38 C175.48,659.29 176.93,659.20 178.38,659.10 C179.82,659.01 181.27,658.92 182.71,658.82 C184.16,658.73 185.60,658.63 187.05,658.54 C188.50,658.45 189.94,658.35 191.39,658.26 C192.83,658.16 194.28,658.07 195.72,657.97 C197.17,657.88 198.62,657.78 200.06,657.69 C201.51,657.59 203.68,657.45 204.40,657.40" stroke="#737373" stroke-width="0.6" fill="none" stroke-linejoin="round"/>
<path d="M30.90,657.90 C31.62,657.95 33.79,658.08 35.24,658.17 C36.68,658.27 38.13,658.36 39.58,658.45 C41.02,658.54 42.47,658.63 43.91,658.72 C45.36,658.81 46.80,658.90 48.25,658.99 C49.70,659.07 51.14,659.16 52.59,659.25 C54.03,659.34 55.48,659.43 56.92,659.52 C58.37,659.60 59.82,659.69 61.26,659.78 C62.71,659.87 64.15,659.95 65.60,660.04 C67.05,660.13 68.49,660.21 69.94,660.30 C71.38,660.39 72.83,660.47 74.28,660.56 C75.72,660.64 77.17,660.73 78.61,660.81 C80.06,660.90 81.50,660.98 82.95,661.06 C84.40,661.15 85.84,661.23 87.29,661.32 C88.73,661.40 90.18,661.48 91.62,661.57 C93.07,661.65 94.52,661.73 95.96,661.81 C97.41,661.90 98.85,661.98 100.30,662.06 C101.75,662.14 103.19,662.22 104.64,662.30 C106.08,662.39 107.53,662.47 108.97,662.55 C110.42,662.63 111.87,662.71 113.31,662.79 C114.76,662.87 116.20,662.95 117.65,663.02 C119.10,663.10 120.54,663.18 121.99,663.26 C123.43,663.34 124.88,663.42 126.33,663.50 C127.77,663.57 129.22,663.65 130.66,663.73 C132.11,663.81 133.55,663.88 135.00,663.96 C136.45,664.04 137.89,664.11 139.34,664.19 C140.78,664.27 142.23,664.34 143.68,664.42 C145.12,664.49 146.57,664.57 148.01,664.64 C149.46,664.72 150.90,664.79 152.35,664.87 C153.80,664.94 155.24,665.01 156.69,665.09 C158.13,665.16 159.58,665.23 161.03,665.31 C162.47,665.38 163.92,665.45 165.36,665.52 C166.81,665.60 168.25,665.67 169.70,665.74 C171.15,665.81 172.59,665.88 174.04,665.95 C175.48,666.03 176.93,666.10 178.38,666.17 C179.82,666.24 181.27,666.31 182.71,666.38 C184.16,666.45 185.60,666.52 187.05,666.58 C188.50,666.65 189.94,666.72 191.39,666.79 C192.83,666.86 194.28,666.93 195.72,667.00 C197.17,667.06 198.62,667.13 200.06,667.20 C201.51,667.27 203.68,667.37 204.40,667.40" stroke="#737373" stroke-width="0.6" fill="none" stroke-linejoin="round"/>
<path d="M30.90,710.40 C31.62,709.97 33.79,708.67 35.24,707.81 C36.68,706.96 38.13,706.10 39.58,705.25 C41.02,704.39 42.47,703.54 43.91,702.69 C45.36,701.85 46.80,701.00 48.25,700.16 C49.70,699.32 51.14,698.48 52.59,697.64 C54.03,696.80 55.48,695.97 56.92,695.14 C58.37,694.31 59.82,693.48 61.26,692.66 C62.71,691.84 64.15,691.01 65.60,690.20 C67.05,689.38 68.49,688.57 69.94,687.75 C71.38,686.94 72.83,686.13 74.28,685.33 C75.72,684.53 77.17,683.72 78.61,682.93 C80.06,682.13 81.50,681.33 82.95,680.54 C84.40,679.75 85.84,678.97 87.29,678.18 C88.73,677.40 90.18,676.62 91.62,675.84 C93.07,675.07 94.52,674.29 95.96,673.52 C97.41,672.76 98.85,671.99 100.30,671.23 C101.75,670.47 103.19,669.71 104.64,668.96 C106.08,668.21 107.53,667.46 108.97,666.71 C110.42,665.97 111.87,665.23 113.31,664.49 C114.76,663.76 116.20,663.02 117.65,662.30 C119.10,661.57 120.54,660.85 121.99,660.13 C123.43,659.41 124.88,658.70 126.33,657.99 C127.77,657.28 129.22,656.58 130.66,655.88 C132.11,655.18 133.55,654.49 135.00,653.80 C136.45,653.12 137.89,652.43 139.34,651.76 C140.78,651.08 142.23,650.41 143.68,649.74 C145.12,649.08 146.57,648.42 148.01,647.77 C149.46,647.11 150.90,646.47 152.35,645.83 C153.80,645.19 155.24,644.55 156.69,643.93 C158.13,643.30 159.58,642.68 161.03,642.07 C162.47,641.46 163.92,640.86 165.36,640.26 C166.81,639.67 168.25,639.08 169.70,638.50 C171.15,637.92 172.59,637.35 174.04,636.79 C175.48,636.24 176.93,635.69 178.38,635.15 C179.82,634.61 181.27,634.08 182.71,633.57 C184.16,633.06 185.60,632.55 187.05,632.07 C188.50,631.58 189.94,631.11 191.39,630.66 C192.83,630.21 194.28,629.77 195.72,629.36 C197.17,628.96 198.62,628.55 200.06,628.23 C201.51,627.90 203.68,627.54 204.40,627.40" stroke="#bdbdbd" stroke-width="0.6" fill="none" stroke-linejoin="round"/>
<path d="M30.90,708.40 C31.62,707.85 33.79,706.17 35.24,705.07 C36.68,703.97 38.13,702.88 39.58,701.80 C41.02,700.72 42.47,699.65 43.91,698.59 C45.36,697.53 46.80,696.48 48.25,695.44 C49.70,694.41 51.14,693.38 52.59,692.36 C54.03,691.34 55.48,690.33 56.92,689.33 C58.37,688.33 59.82,687.34 61.26,686.36 C62.71,685.39 64.15,684.42 65.60,683.46 C67.05,682.50 68.49,681.56 69.94,680.62 C71.38,679.68 72.83,678.76 74.28,677.84 C75.72,676.93 77.17,676.02 78.61,675.13 C80.06,674.24 81.50,673.35 82.95,672.48 C84.40,671.61 85.84,670.75 87.29,669.90 C88.73,669.05 90.18,668.21 91.62,667.38 C93.07,666.55 94.52,665.74 95.96,664.93 C97.41,664.13 98.85,663.33 100.30,662.55 C101.75,661.77 103.19,661.00 104.64,660.24 C106.08,659.48 107.53,658.73 108.97,657.99 C110.42,657.26 111.87,656.53 113.31,655.82 C114.76,655.11 116.20,654.40 117.65,653.72 C119.10,653.03 120.54,652.35 121.99,651.68 C123.43,651.02 124.88,650.37 126.33,649.73 C127.77,649.09 129.22,648.46 130.66,647.85 C132.11,647.23 133.55,646.63 135.00,646.04 C136.45,645.45 137.89,644.87 139.34,644.31 C140.78,643.75 142.23,643.20 143.68,642.66 C145.12,642.12 146.57,641.60 148.01,641.09 C149.46,640.58 150.90,640.08 152.35,639.60 C153.80,639.12 155.24,638.65 156.69,638.20 C158.13,637.75 159.58,637.31 161.03,636.88 C162.47,636.46 163.92,636.05 165.36,635.66 C166.81,635.26 168.25,634.88 169.70,634.52 C171.15,634.16 172.59,633.81 174.04,633.48 C175.48,633.15 176.93,632.84 178.38,632.54 C179.82,632.24 181.27,631.96 182.71,631.70 C184.16,631.44 185.60,631.20 187.05,630.98 C188.50,630.75 189.94,630.55 191.39,630.37 C192.83,630.18 194.28,630.02 195.72,629.89 C197.17,629.75 198.62,629.63 200.06,629.55 C201.51,629.47 203.68,629.42 204.40,629.40" stroke="#bdbdbd" stroke-width="0.6" fill="none" stroke-linejoin="round"/>
<path d="M30.90,705.40 C31.62,704.82 33.79,703.06 35.24,701.91 C36.68,700.76 38.13,699.62 39.58,698.50 C41.02,697.39 42.47,696.28 43.91,695.19 C45.36,694.10 46.80,693.03 48.25,691.97 C49.70,690.91 51.14,689.86 52.59,688.83 C54.03,687.80 55.48,686.78 56.92,685.78 C58.37,684.78 59.82,683.80 61.26,682.83 C62.71,681.86 64.15,680.90 65.60,679.96 C67.05,679.02 68.49,678.10 69.94,677.19 C71.38,676.28 72.83,675.38 74.28,674.50 C75.72,673.62 77.17,672.76 78.61,671.91 C80.06,671.06 81.50,670.23 82.95,669.41 C84.40,668.59 85.84,667.79 87.29,667.00 C88.73,666.21 90.18,665.44 91.62,664.68 C93.07,663.93 94.52,663.19 95.96,662.46 C97.41,661.74 98.85,661.03 100.30,660.33 C101.75,659.64 103.19,658.96 104.64,658.29 C106.08,657.63 107.53,656.98 108.97,656.35 C110.42,655.72 111.87,655.10 113.31,654.50 C114.76,653.90 116.20,653.32 117.65,652.75 C119.10,652.18 120.54,651.63 121.99,651.10 C123.43,650.56 124.88,650.04 126.33,649.54 C127.77,649.03 129.22,648.54 130.66,648.07 C132.11,647.60 133.55,647.15 135.00,646.71 C136.45,646.27 137.89,645.85 139.34,645.44 C140.78,645.04 142.23,644.65 143.68,644.28 C145.12,643.90 146.57,643.55 148.01,643.21 C149.46,642.87 150.90,642.55 152.35,642.25 C153.80,641.94 155.24,641.65 156.69,641.38 C158.13,641.11 159.58,640.86 161.03,640.63 C162.47,640.39 163.92,640.17 165.36,639.97 C166.81,639.78 168.25,639.59 169.70,639.43 C171.15,639.27 172.59,639.12 174.04,639.00 C175.48,638.87 176.93,638.76 178.38,638.68 C179.82,638.59 181.27,638.52 182.71,638.47 C184.16,638.43 185.60,638.41 187.05,638.40 C188.50,638.39 189.94,638.40 191.39,638.40 C192.83,638.40 194.28,638.40 195.72,638.40 C197.17,638.40 198.62,638.40 200.06,638.40 C201.51,638.40 203.68,638.40 204.40,638.40" stroke="#bdbdbd" stroke-width="0.6" fill="none" stroke-linejoin="round"/>
<path d="M30.90,696.40 C31.62,695.79 33.79,693.92 35.24,692.71 C36.68,691.50 38.13,690.32 39.58,689.15 C41.02,687.99 42.47,686.84 43.91,685.72 C45.36,684.59 46.80,683.49 48.25,682.41 C49.70,681.33 51.14,680.27 52.59,679.24 C54.03,678.20 55.48,677.18 56.92,676.19 C58.37,675.20 59.82,674.23 61.26,673.28 C62.71,672.33 64.15,671.40 65.60,670.50 C67.05,669.60 68.49,668.71 69.94,667.86 C71.38,667.00 72.83,666.16 74.28,665.35 C75.72,664.54 77.17,663.75 78.61,662.98 C80.06,662.22 81.50,661.48 82.95,660.76 C84.40,660.04 85.84,659.35 87.29,658.68 C88.73,658.01 90.18,657.36 91.62,656.74 C93.07,656.12 94.52,655.53 95.96,654.96 C97.41,654.38 98.85,653.84 100.30,653.32 C101.75,652.80 103.19,652.31 104.64,651.84 C106.08,651.38 107.53,650.94 108.97,650.52 C110.42,650.11 111.87,649.73 113.31,649.37 C114.76,649.01 116.20,648.69 117.65,648.39 C119.10,648.09 120.54,647.82 121.99,647.58 C123.43,647.35 124.88,647.14 126.33,646.97 C127.77,646.80 129.22,646.66 130.66,646.56 C132.11,646.47 133.55,646.38 135.00,646.40 C136.45,646.42 137.89,646.61 139.34,646.71 C140.78,646.82 142.23,646.92 143.68,647.02 C145.12,647.13 146.57,647.23 148.01,647.34 C149.46,647.44 150.90,647.55 152.35,647.65 C153.80,647.75 155.24,647.86 156.69,647.96 C158.13,648.07 159.58,648.17 161.03,648.27 C162.47,648.38 163.92,648.48 165.36,648.59 C166.81,648.69 168.25,648.80 169.70,648.90 C171.15,649.00 172.59,649.11 174.04,649.21 C175.48,649.32 176.93,649.42 178.38,649.52 C179.82,649.63 181.27,649.73 182.71,649.84 C184.16,649.94 185.60,650.05 187.05,650.15 C188.50,650.25 189.94,650.36 191.39,650.46 C192.83,650.57 194.28,650.67 195.72,650.77 C197.17,650.88 198.62,650.98 200.06,651.09 C201.51,651.19 203.68,651.35 204.40,651.40" stroke="#bdbdbd" stroke-width="0.6" fill="none" stroke-linejoin="round"/>
<path d="M30.90,684.40 C31.62,683.88 33.79,682.28 35.24,681.25 C36.68,680.22 38.13,679.21 39.58,678.22 C41.02,677.22 42.47,676.25 43.91,675.29 C45.36,674.34 46.80,673.40 48.25,672.48 C49.70,671.56 51.14,670.67 52.59,669.79 C54.03,668.91 55.48,668.05 56.92,667.22 C58.37,666.38 59.82,665.57 61.26,664.77 C62.71,663.98 64.15,663.21 65.60,662.46 C67.05,661.71 68.49,660.98 69.94,660.28 C71.38,659.57 72.83,658.89 74.28,658.24 C75.72,657.58 77.17,656.95 78.61,656.34 C80.06,655.74 81.50,655.16 82.95,654.61 C84.40,654.06 85.84,653.53 87.29,653.04 C88.73,652.54 90.18,652.08 91.62,651.64 C93.07,651.21 94.52,650.81 95.96,650.45 C97.41,650.09 98.85,649.75 100.30,649.47 C101.75,649.19 103.19,648.93 104.64,648.75 C106.08,648.57 107.53,648.44 108.97,648.40 C110.42,648.36 111.87,648.48 113.31,648.52 C114.76,648.57 116.20,648.61 117.65,648.65 C119.10,648.69 120.54,648.73 121.99,648.77 C123.43,648.82 124.88,648.86 126.33,648.90 C127.77,648.94 129.22,648.98 130.66,649.02 C132.11,649.07 133.55,649.11 135.00,649.15 C136.45,649.19 137.89,649.23 139.34,649.27 C140.78,649.32 142.23,649.36 143.68,649.40 C145.12,649.44 146.57,649.48 148.01,649.52 C149.46,649.57 150.90,649.61 152.35,649.65 C153.80,649.69 155.24,649.73 156.69,649.77 C158.13,649.82 159.58,649.86 161.03,649.90 C162.47,649.94 163.92,649.98 165.36,650.02 C166.81,650.07 168.25,650.11 169.70,650.15 C171.15,650.19 172.59,650.23 174.04,650.27 C175.48,650.32 176.93,650.36 178.38,650.40 C179.82,650.44 181.27,650.48 182.71,650.52 C184.16,650.57 185.60,650.61 187.05,650.65 C188.50,650.69 189.94,650.73 191.39,650.77 C192.83,650.82 194.28,650.86 195.72,650.90 C197.17,650.94 198.62,650.98 200.06,651.02 C201.51,651.07 203.68,651.13 204.40,651.15" stroke="#bdbdbd" stroke-width="0.6" fill="none" stroke-linejoin="round"/>
<path d="M30.90,652.40 C31.62,652.32 33.79,652.09 35.24,651.93 C36.68,651.77 38.13,651.62 39.58,651.46 C41.02,651.31 42.47,651.15 43.91,651.00 C45.36,650.85 46.80,650.70 48.25,650.55 C49.70,650.40 51.14,650.25 52.59,650.10 C54.03,649.96 55.48,649.82 56.92,649.68 C58.37,649.54 59.82,649.40 61.26,649.27 C62.71,649.13 64.15,649.00 65.60,648.87 C67.05,648.75 68.49,648.62 69.94,648.50 C71.38,648.38 72.83,648.27 74.28,648.16 C75.72,648.05 77.17,647.94 78.61,647.84 C80.06,647.74 81.50,647.64 82.95,647.55 C84.40,647.45 85.84,647.37 87.29,647.28 C88.73,647.20 90.18,647.13 91.62,647.05 C93.07,646.98 94.52,646.92 95.96,646.86 C97.41,646.80 98.85,646.74 100.30,646.69 C101.75,646.65 103.19,646.60 104.64,646.57 C106.08,646.53 107.53,646.50 108.97,646.47 C110.42,646.45 111.87,646.43 113.31,646.42 C114.76,646.41 116.20,646.40 117.65,646.40 C119.10,646.40 120.54,646.41 121.99,646.42 C123.43,646.43 124.88,646.45 126.33,646.47 C127.77,646.50 129.22,646.53 130.66,646.57 C132.11,646.60 133.55,646.65 135.00,646.69 C136.45,646.74 137.89,646.80 139.34,646.86 C140.78,646.92 142.23,646.98 143.68,647.05 C145.12,647.13 146.57,647.20 148.01,647.28 C149.46,647.37 150.90,647.45 152.35,647.55 C153.80,647.64 155.24,647.74 156.69,647.84 C158.13,647.94 159.58,648.05 161.03,648.16 C162.47,648.27 163.92,648.38 165.36,648.50 C166.81,648.62 168.25,648.75 169.70,648.87 C171.15,649.00 172.59,649.13 174.04,649.27 C175.48,649.40 176.93,649.54 178.38,649.68 C179.82,649.82 181.27,649.96 182.71,650.10 C184.16,650.25 185.60,650.40 187.05,650.55 C188.50,650.70 189.94,650.85 191.39,651.00 C192.83,651.15 194.28,651.31 195.72,651.46 C197.17,651.62 198.62,651.77 200.06,651.93 C201.51,652.09 203.68,652.32 204.40,652.40" stroke="#bdbdbd" stroke-width="0.6" fill="none" stroke-linejoin="round"/>
<path d="M30.90,613.90 C31.62,614.46 33.79,616.18 35.24,617.29 C36.68,618.39 38.13,619.46 39.58,620.52 C41.02,621.57 42.47,622.60 43.91,623.60 C45.36,624.60 46.80,625.58 48.25,626.54 C49.70,627.50 51.14,628.43 52.59,629.34 C54.03,630.26 55.48,631.15 56.92,632.02 C58.37,632.89 59.82,633.74 61.26,634.57 C62.71,635.40 64.15,636.21 65.60,637.00 C67.05,637.80 68.49,638.57 69.94,639.33 C71.38,640.08 72.83,640.82 74.28,641.54 C75.72,642.26 77.17,642.97 78.61,643.65 C80.06,644.34 81.50,645.01 82.95,645.67 C84.40,646.33 85.84,646.97 87.29,647.59 C88.73,648.22 90.18,648.83 91.62,649.43 C93.07,650.02 94.52,650.61 95.96,651.18 C97.41,651.75 98.85,652.30 100.30,652.84 C101.75,653.39 103.19,653.92 104.64,654.44 C106.08,654.96 107.53,655.46 108.97,655.96 C110.42,656.45 111.87,656.93 113.31,657.40 C114.76,657.88 116.20,658.34 117.65,658.79 C119.10,659.24 120.54,659.68 121.99,660.10 C123.43,660.53 124.88,660.95 126.33,661.36 C127.77,661.77 129.22,662.17 130.66,662.56 C132.11,662.95 133.55,663.33 135.00,663.71 C136.45,664.08 137.89,664.44 139.34,664.80 C140.78,665.15 142.23,665.50 143.68,665.84 C145.12,666.18 146.57,666.51 148.01,666.83 C149.46,667.16 150.90,667.47 152.35,667.78 C153.80,668.09 155.24,668.39 156.69,668.68 C158.13,668.98 159.58,669.27 161.03,669.55 C162.47,669.83 163.92,670.10 165.36,670.37 C166.81,670.64 168.25,670.90 169.70,671.15 C171.15,671.41 172.59,671.66 174.04,671.90 C175.48,672.15 176.93,672.38 178.38,672.62 C179.82,672.85 181.27,673.08 182.71,673.30 C184.16,673.52 185.60,673.74 187.05,673.95 C188.50,674.16 189.94,674.37 191.39,674.57 C192.83,674.77 194.28,674.97 195.72,675.16 C197.17,675.35 198.62,675.54 200.06,675.72 C201.51,675.91 203.68,676.17 204.40,676.26" stroke="#2e2e2e" stroke-width="0.65" fill="none" stroke-linejoin="round"/>
<path d="M30.90,621.40 C31.62,621.97 33.79,623.71 35.24,624.82 C36.68,625.93 38.13,627.01 39.58,628.06 C41.02,629.11 42.47,630.14 43.91,631.13 C45.36,632.13 46.80,633.10 48.25,634.05 C49.70,635.00 51.14,635.92 52.59,636.81 C54.03,637.71 55.48,638.58 56.92,639.43 C58.37,640.28 59.82,641.11 61.26,641.92 C62.71,642.72 64.15,643.51 65.60,644.27 C67.05,645.04 68.49,645.78 69.94,646.51 C71.38,647.23 72.83,647.94 74.28,648.63 C75.72,649.31 77.17,649.98 78.61,650.63 C80.06,651.29 81.50,651.92 82.95,652.54 C84.40,653.16 85.84,653.76 87.29,654.35 C88.73,654.93 90.18,655.50 91.62,656.06 C93.07,656.61 94.52,657.15 95.96,657.68 C97.41,658.21 98.85,658.72 100.30,659.22 C101.75,659.72 103.19,660.21 104.64,660.68 C106.08,661.15 107.53,661.62 108.97,662.06 C110.42,662.51 111.87,662.95 113.31,663.38 C114.76,663.80 116.20,664.22 117.65,664.62 C119.10,665.03 120.54,665.42 121.99,665.80 C123.43,666.18 124.88,666.56 126.33,666.92 C127.77,667.28 129.22,667.64 130.66,667.98 C132.11,668.33 133.55,668.66 135.00,668.99 C136.45,669.31 137.89,669.63 139.34,669.94 C140.78,670.25 142.23,670.55 143.68,670.85 C145.12,671.14 146.57,671.42 148.01,671.70 C149.46,671.98 150.90,672.25 152.35,672.52 C153.80,672.78 155.24,673.04 156.69,673.29 C158.13,673.54 159.58,673.78 161.03,674.02 C162.47,674.26 163.92,674.49 165.36,674.71 C166.81,674.94 168.25,675.16 169.70,675.37 C171.15,675.58 172.59,675.79 174.04,675.99 C175.48,676.19 176.93,676.39 178.38,676.58 C179.82,676.77 181.27,676.96 182.71,677.14 C184.16,677.33 185.60,677.50 187.05,677.67 C188.50,677.85 189.94,678.01 191.39,678.18 C192.83,678.34 194.28,678.50 195.72,678.66 C197.17,678.81 198.62,678.96 200.06,679.11 C201.51,679.26 203.68,679.47 204.40,679.54" stroke="#2e2e2e" stroke-width="0.65" fill="none" stroke-linejoin="round"/>
<path d="M30.90,624.40 C31.62,624.98 33.79,626.73 35.24,627.85 C36.68,628.97 38.13,630.06 39.58,631.11 C41.02,632.17 42.47,633.20 43.91,634.19 C45.36,635.19 46.80,636.16 48.25,637.11 C49.70,638.05 51.14,638.96 52.59,639.86 C54.03,640.75 55.48,641.61 56.92,642.45 C58.37,643.30 59.82,644.11 61.26,644.91 C62.71,645.71 64.15,646.48 65.60,647.23 C67.05,647.98 68.49,648.71 69.94,649.42 C71.38,650.13 72.83,650.82 74.28,651.49 C75.72,652.16 77.17,652.81 78.61,653.45 C80.06,654.08 81.50,654.70 82.95,655.29 C84.40,655.89 85.84,656.47 87.29,657.04 C88.73,657.61 90.18,658.15 91.62,658.69 C93.07,659.22 94.52,659.74 95.96,660.25 C97.41,660.75 98.85,661.24 100.30,661.72 C101.75,662.20 103.19,662.66 104.64,663.11 C106.08,663.56 107.53,664.00 108.97,664.42 C110.42,664.85 111.87,665.26 113.31,665.67 C114.76,666.07 116.20,666.46 117.65,666.84 C119.10,667.22 120.54,667.59 121.99,667.95 C123.43,668.31 124.88,668.65 126.33,668.99 C127.77,669.33 129.22,669.66 130.66,669.98 C132.11,670.30 133.55,670.61 135.00,670.92 C136.45,671.22 137.89,671.51 139.34,671.80 C140.78,672.09 142.23,672.36 143.68,672.63 C145.12,672.90 146.57,673.17 148.01,673.42 C149.46,673.68 150.90,673.92 152.35,674.17 C153.80,674.41 155.24,674.64 156.69,674.87 C158.13,675.10 159.58,675.32 161.03,675.53 C162.47,675.75 163.92,675.96 165.36,676.16 C166.81,676.37 168.25,676.56 169.70,676.75 C171.15,676.95 172.59,677.13 174.04,677.32 C175.48,677.50 176.93,677.67 178.38,677.84 C179.82,678.02 181.27,678.18 182.71,678.34 C184.16,678.51 185.60,678.66 187.05,678.82 C188.50,678.97 189.94,679.12 191.39,679.26 C192.83,679.41 194.28,679.55 195.72,679.69 C197.17,679.82 198.62,679.95 200.06,680.08 C201.51,680.21 203.68,680.40 204.40,680.46" stroke="#2e2e2e" stroke-width="0.65" fill="none" stroke-linejoin="round"/>
<path d="M30.90,630.40 C31.62,630.40 33.79,630.40 35.24,630.40 C36.68,630.40 38.13,630.32 39.58,630.40 C41.02,630.48 42.47,630.50 43.91,630.86 C45.36,631.22 46.80,631.81 48.25,632.55 C49.70,633.29 51.14,634.34 52.59,635.29 C54.03,636.24 55.48,637.31 56.92,638.27 C58.37,639.24 59.82,640.17 61.26,641.08 C62.71,641.99 64.15,642.87 65.60,643.73 C67.05,644.59 68.49,645.42 69.94,646.23 C71.38,647.03 72.83,647.81 74.28,648.58 C75.72,649.34 77.17,650.07 78.61,650.79 C80.06,651.51 81.50,652.20 82.95,652.88 C84.40,653.55 85.84,654.21 87.29,654.84 C88.73,655.48 90.18,656.10 91.62,656.70 C93.07,657.30 94.52,657.88 95.96,658.44 C97.41,659.01 98.85,659.55 100.30,660.09 C101.75,660.62 103.19,661.13 104.64,661.63 C106.08,662.14 107.53,662.62 108.97,663.09 C110.42,663.57 111.87,664.03 113.31,664.47 C114.76,664.92 116.20,665.35 117.65,665.77 C119.10,666.19 120.54,666.59 121.99,666.99 C123.43,667.38 124.88,667.77 126.33,668.14 C127.77,668.51 129.22,668.87 130.66,669.22 C132.11,669.57 133.55,669.91 135.00,670.24 C136.45,670.57 137.89,670.90 139.34,671.21 C140.78,671.52 142.23,671.82 143.68,672.11 C145.12,672.41 146.57,672.69 148.01,672.97 C149.46,673.24 150.90,673.51 152.35,673.77 C153.80,674.03 155.24,674.29 156.69,674.53 C158.13,674.78 159.58,675.02 161.03,675.25 C162.47,675.48 163.92,675.70 165.36,675.92 C166.81,676.14 168.25,676.35 169.70,676.55 C171.15,676.76 172.59,676.96 174.04,677.15 C175.48,677.35 176.93,677.53 178.38,677.72 C179.82,677.90 181.27,678.07 182.71,678.25 C184.16,678.42 185.60,678.58 187.05,678.75 C188.50,678.91 189.94,679.06 191.39,679.22 C192.83,679.37 194.28,679.52 195.72,679.66 C197.17,679.81 198.62,679.94 200.06,680.08 C201.51,680.22 203.68,680.41 204.40,680.47" stroke="#2e2e2e" stroke-width="0.65" fill="none" stroke-linejoin="round"/>
<path d="M30.90,636.40 C31.62,636.96 33.79,638.67 35.24,639.75 C36.68,640.84 38.13,641.88 39.58,642.88 C41.02,643.89 42.47,644.86 43.91,645.80 C45.36,646.74 46.80,647.65 48.25,648.53 C49.70,649.40 51.14,650.25 52.59,651.07 C54.03,651.89 55.48,652.67 56.92,653.44 C58.37,654.20 59.82,654.94 61.26,655.65 C62.71,656.36 64.15,657.05 65.60,657.71 C67.05,658.38 68.49,659.02 69.94,659.64 C71.38,660.26 72.83,660.85 74.28,661.43 C75.72,662.01 77.17,662.57 78.61,663.11 C80.06,663.65 81.50,664.17 82.95,664.67 C84.40,665.17 85.84,665.66 87.29,666.13 C88.73,666.60 90.18,667.05 91.62,667.49 C93.07,667.93 94.52,668.35 95.96,668.76 C97.41,669.17 98.85,669.56 100.30,669.94 C101.75,670.32 103.19,670.69 104.64,671.04 C106.08,671.40 107.53,671.74 108.97,672.07 C110.42,672.41 111.87,672.73 113.31,673.04 C114.76,673.35 116.20,673.64 117.65,673.93 C119.10,674.22 120.54,674.50 121.99,674.77 C123.43,675.04 124.88,675.30 126.33,675.55 C127.77,675.80 129.22,676.04 130.66,676.28 C132.11,676.51 133.55,676.74 135.00,676.96 C136.45,677.18 137.89,677.39 139.34,677.59 C140.78,677.79 142.23,677.99 143.68,678.18 C145.12,678.37 146.57,678.55 148.01,678.73 C149.46,678.91 150.90,679.08 152.35,679.25 C153.80,679.41 155.24,679.57 156.69,679.73 C158.13,679.88 159.58,680.03 161.03,680.17 C162.47,680.32 163.92,680.46 165.36,680.59 C166.81,680.73 168.25,680.86 169.70,680.98 C171.15,681.11 172.59,681.23 174.04,681.35 C175.48,681.46 176.93,681.57 178.38,681.68 C179.82,681.79 181.27,681.90 182.71,682.00 C184.16,682.10 185.60,682.20 187.05,682.30 C188.50,682.39 189.94,682.48 191.39,682.57 C192.83,682.66 194.28,682.75 195.72,682.83 C197.17,682.91 198.62,682.99 200.06,683.07 C201.51,683.14 203.68,683.25 204.40,683.29" stroke="#2e2e2e" stroke-width="0.65" fill="none" stroke-linejoin="round"/>
<path d="M30.90,642.90 C31.62,642.90 33.79,642.90 35.24,642.90 C36.68,642.90 38.13,642.90 39.58,642.90 C41.02,642.90 42.47,642.90 43.91,642.90 C45.36,642.90 46.80,642.86 48.25,642.90 C49.70,642.94 51.14,642.92 52.59,643.16 C54.03,643.40 55.48,643.80 56.92,644.32 C58.37,644.83 59.82,645.51 61.26,646.24 C62.71,646.96 64.15,647.88 65.60,648.68 C67.05,649.48 68.49,650.29 69.94,651.05 C71.38,651.82 72.83,652.55 74.28,653.27 C75.72,653.99 77.17,654.68 78.61,655.35 C80.06,656.02 81.50,656.66 82.95,657.29 C84.40,657.92 85.84,658.53 87.29,659.11 C88.73,659.70 90.18,660.27 91.62,660.82 C93.07,661.37 94.52,661.90 95.96,662.42 C97.41,662.93 98.85,663.43 100.30,663.91 C101.75,664.39 103.19,664.86 104.64,665.31 C106.08,665.76 107.53,666.20 108.97,666.62 C110.42,667.05 111.87,667.45 113.31,667.85 C114.76,668.25 116.20,668.63 117.65,669.00 C119.10,669.37 120.54,669.73 121.99,670.08 C123.43,670.42 124.88,670.76 126.33,671.08 C127.77,671.41 129.22,671.72 130.66,672.03 C132.11,672.33 133.55,672.62 135.00,672.91 C136.45,673.19 137.89,673.47 139.34,673.74 C140.78,674.00 142.23,674.26 143.68,674.51 C145.12,674.76 146.57,675.00 148.01,675.24 C149.46,675.47 150.90,675.70 152.35,675.92 C153.80,676.13 155.24,676.35 156.69,676.55 C158.13,676.76 159.58,676.95 161.03,677.15 C162.47,677.34 163.92,677.52 165.36,677.70 C166.81,677.88 168.25,678.06 169.70,678.23 C171.15,678.39 172.59,678.56 174.04,678.71 C175.48,678.87 176.93,679.02 178.38,679.17 C179.82,679.32 181.27,679.46 182.71,679.60 C184.16,679.74 185.60,679.87 187.05,680.00 C188.50,680.13 189.94,680.26 191.39,680.38 C192.83,680.50 194.28,680.62 195.72,680.73 C197.17,680.84 198.62,680.95 200.06,681.06 C201.51,681.16 203.68,681.31 204.40,681.37" stroke="#2e2e2e" stroke-width="0.65" fill="none" stroke-linejoin="round"/>
<path d="M30.90,648.40 C31.62,648.40 33.79,648.40 35.24,648.40 C36.68,648.40 38.13,648.40 39.58,648.40 C41.02,648.40 42.47,648.40 43.91,648.40 C45.36,648.40 46.80,648.40 48.25,648.40 C49.70,648.40 51.14,648.40 52.59,648.40 C54.03,648.40 55.48,648.36 56.92,648.40 C58.37,648.44 59.82,648.42 61.26,648.63 C62.71,648.85 64.15,649.23 65.60,649.71 C67.05,650.18 68.49,650.81 69.94,651.48 C71.38,652.16 72.83,653.01 74.28,653.76 C75.72,654.52 77.17,655.28 78.61,656.00 C80.06,656.73 81.50,657.42 82.95,658.09 C84.40,658.76 85.84,659.40 87.29,660.02 C88.73,660.65 90.18,661.25 91.62,661.82 C93.07,662.40 94.52,662.96 95.96,663.50 C97.41,664.03 98.85,664.55 100.30,665.05 C101.75,665.55 103.19,666.03 104.64,666.49 C106.08,666.95 107.53,667.40 108.97,667.83 C110.42,668.26 111.87,668.68 113.31,669.08 C114.76,669.48 116.20,669.86 117.65,670.23 C119.10,670.61 120.54,670.96 121.99,671.31 C123.43,671.65 124.88,671.99 126.33,672.31 C127.77,672.63 129.22,672.94 130.66,673.24 C132.11,673.53 133.55,673.82 135.00,674.10 C136.45,674.38 137.89,674.64 139.34,674.90 C140.78,675.16 142.23,675.40 143.68,675.64 C145.12,675.88 146.57,676.11 148.01,676.34 C149.46,676.56 150.90,676.77 152.35,676.98 C153.80,677.18 155.24,677.38 156.69,677.58 C158.13,677.77 159.58,677.95 161.03,678.13 C162.47,678.31 163.92,678.48 165.36,678.65 C166.81,678.81 168.25,678.97 169.70,679.12 C171.15,679.28 172.59,679.43 174.04,679.57 C175.48,679.71 176.93,679.85 178.38,679.98 C179.82,680.12 181.27,680.24 182.71,680.37 C184.16,680.49 185.60,680.61 187.05,680.72 C188.50,680.84 189.94,680.95 191.39,681.05 C192.83,681.16 194.28,681.26 195.72,681.36 C197.17,681.46 198.62,681.56 200.06,681.65 C201.51,681.74 203.68,681.87 204.40,681.91" stroke="#2e2e2e" stroke-width="0.65" fill="none" stroke-linejoin="round"/>
<path d="M30.90,652.40 C31.62,652.40 33.79,652.40 35.24,652.40 C36.68,652.40 38.13,652.40 39.58,652.40 C41.02,652.40 42.47,652.40 43.91,652.40 C45.36,652.40 46.80,652.40 48.25,652.40 C49.70,652.40 51.14,652.40 52.59,652.40 C54.03,652.40 55.48,652.40 56.92,652.40 C58.37,652.40 59.82,652.39 61.26,652.40 C62.71,652.41 64.15,652.31 65.60,652.44 C67.05,652.56 68.49,652.79 69.94,653.16 C71.38,653.53 72.83,654.06 74.28,654.65 C75.72,655.24 77.17,655.99 78.61,656.71 C80.06,657.43 81.50,658.24 82.95,658.96 C84.40,659.69 85.84,660.37 87.29,661.04 C88.73,661.70 90.18,662.34 91.62,662.95 C93.07,663.56 94.52,664.14 95.96,664.70 C97.41,665.26 98.85,665.80 100.30,666.32 C101.75,666.83 103.19,667.33 104.64,667.80 C106.08,668.28 107.53,668.73 108.97,669.17 C110.42,669.61 111.87,670.02 113.31,670.43 C114.76,670.83 116.20,671.21 117.65,671.58 C119.10,671.95 120.54,672.31 121.99,672.65 C123.43,672.99 124.88,673.32 126.33,673.63 C127.77,673.94 129.22,674.24 130.66,674.53 C132.11,674.82 133.55,675.09 135.00,675.36 C136.45,675.62 137.89,675.88 139.34,676.12 C140.78,676.37 142.23,676.60 143.68,676.82 C145.12,677.05 146.57,677.26 148.01,677.47 C149.46,677.68 150.90,677.87 152.35,678.06 C153.80,678.25 155.24,678.44 156.69,678.61 C158.13,678.79 159.58,678.95 161.03,679.11 C162.47,679.27 163.92,679.43 165.36,679.58 C166.81,679.72 168.25,679.87 169.70,680.00 C171.15,680.14 172.59,680.27 174.04,680.39 C175.48,680.52 176.93,680.64 178.38,680.75 C179.82,680.87 181.27,680.98 182.71,681.08 C184.16,681.19 185.60,681.29 187.05,681.39 C188.50,681.49 189.94,681.58 191.39,681.67 C192.83,681.76 194.28,681.85 195.72,681.93 C197.17,682.01 198.62,682.09 200.06,682.17 C201.51,682.24 203.68,682.35 204.40,682.38" stroke="#2e2e2e" stroke-width="0.65" fill="none" stroke-linejoin="round"/>
<path d="M30.90,655.90 C31.62,655.90 33.79,655.90 35.24,655.90 C36.68,655.90 38.13,655.90 39.58,655.90 C41.02,655.90 42.47,655.90 43.91,655.90 C45.36,655.90 46.80,655.90 48.25,655.90 C49.70,655.90 51.14,655.90 52.59,655.90 C54.03,655.90 55.48,655.90 56.92,655.90 C58.37,655.90 59.82,655.90 61.26,655.90 C62.71,655.90 64.15,655.90 65.60,655.90 C67.05,655.90 68.49,655.88 69.94,655.90 C71.38,655.92 72.83,655.84 74.28,655.99 C75.72,656.15 77.17,656.44 78.61,656.84 C80.06,657.23 81.50,657.78 82.95,658.37 C84.40,658.96 85.84,659.70 87.29,660.39 C88.73,661.09 90.18,661.84 91.62,662.52 C93.07,663.19 94.52,663.84 95.96,664.45 C97.41,665.07 98.85,665.65 100.30,666.22 C101.75,666.78 103.19,667.31 104.64,667.82 C106.08,668.34 107.53,668.82 108.97,669.29 C110.42,669.76 111.87,670.20 113.31,670.63 C114.76,671.05 116.20,671.46 117.65,671.84 C119.10,672.23 120.54,672.60 121.99,672.95 C123.43,673.31 124.88,673.64 126.33,673.97 C127.77,674.29 129.22,674.60 130.66,674.89 C132.11,675.18 133.55,675.46 135.00,675.73 C136.45,676.00 137.89,676.25 139.34,676.50 C140.78,676.74 142.23,676.97 143.68,677.20 C145.12,677.42 146.57,677.63 148.01,677.83 C149.46,678.04 150.90,678.23 152.35,678.41 C153.80,678.60 155.24,678.77 156.69,678.94 C158.13,679.11 159.58,679.27 161.03,679.43 C162.47,679.58 163.92,679.73 165.36,679.87 C166.81,680.01 168.25,680.14 169.70,680.27 C171.15,680.39 172.59,680.52 174.04,680.63 C175.48,680.75 176.93,680.86 178.38,680.97 C179.82,681.07 181.27,681.17 182.71,681.27 C184.16,681.37 185.60,681.46 187.05,681.55 C188.50,681.63 189.94,681.72 191.39,681.80 C192.83,681.88 194.28,681.96 195.72,682.03 C197.17,682.10 198.62,682.17 200.06,682.24 C201.51,682.31 203.68,682.40 204.40,682.43" stroke="#2e2e2e" stroke-width="0.65" fill="none" stroke-linejoin="round"/>
</g>
<path d="M30.90,722.40v-1.7 M30.90,597.40v1.7 M117.65,722.40v-1.7 M117.65,597.40v1.7 M204.40,722.40v-1.7 M204.40,597.40v1.7 M30.90,722.40h1.7 M204.40,722.40h-1.7 M30.90,697.40h1.7 M204.40,697.40h-1.7 M30.90,672.40h1.7 M204.40,672.40h-1.7 M30.90,647.40h1.7 M204.40,647.40h-1.7 M30.90,622.40h1.7 M204.40,622.40h-1.7 M30.90,597.40h1.7 M204.40,597.40h-1.7" stroke="#8a8a8a" stroke-width="0.7" fill="none"/>
<rect x="30.90" y="597.40" width="173.50" height="125.00" stroke="#9c9c9c" stroke-width="0.9" fill="none"/>
<text x="30.90" y="735.30" font-size="10.3" text-anchor="middle" fill="#2c2c2c">0</text>
<text x="117.65" y="735.30" font-size="10.3" text-anchor="middle" fill="#2c2c2c">0.5</text>
<text x="204.40" y="735.30" font-size="10.3" text-anchor="middle" fill="#2c2c2c">1</text>
<text x="27.50" y="725.40" font-size="10.3" text-anchor="end" fill="#2c2c2c">0</text>
<text x="27.50" y="700.40" font-size="10.3" text-anchor="end" fill="#2c2c2c">5</text>
<text x="27.50" y="675.40" font-size="10.3" text-anchor="end" fill="#2c2c2c">10</text>
<text x="27.50" y="650.40" font-size="10.3" text-anchor="end" fill="#2c2c2c">15</text>
<text x="27.50" y="625.40" font-size="10.3" text-anchor="end" fill="#2c2c2c">20</text>
<text x="27.50" y="600.40" font-size="10.3" text-anchor="end" fill="#2c2c2c">25</text>
<text x="12.30" y="660.90" font-size="11.6" text-anchor="middle" textLength="139.50" lengthAdjust="spacingAndGlyphs" transform="rotate(-90 12.30 660.90)" fill="#2c2c2c">Cell 2 anode <tspan font-style="italic">j</tspan>(<tspan font-style="italic">x</tspan>, <tspan font-style="italic">t</tspan>) (A/m<tspan font-size="8" dy="-4.2">2</tspan><tspan dy="4.2">)</tspan></text>
<text x="117.20" y="749.00" font-size="11.6" text-anchor="middle" textLength="195.40" lengthAdjust="spacingAndGlyphs" fill="#2c2c2c">Normalised distance along electrode <tspan font-style="italic">x</tspan></text>
<text x="57.80" y="774.40" font-size="12.9" fill="#050505">(j) Cell 2 <tspan font-style="italic">j(x,t)</tspan>. Case 1.</text>
<path d="M36.10,716.10H55.10 M181.00,716.10H199.40" stroke="#222" stroke-width="0.8" fill="none"/>
<path d="M32.30,716.10 l5,-2.1 l-1.3,2.1 l1.3,2.1z M203.40,716.10 l-5,-2.1 l1.3,2.1 l-1.3,2.1z" fill="#222"/>
<text x="55.70" y="719.00" font-size="9.9" text-anchor="start" textLength="66.90" lengthAdjust="spacingAndGlyphs" fill="#2c2c2c">Current collector</text>
<text x="139.90" y="719.00" font-size="9.9" text-anchor="start" textLength="37.80" lengthAdjust="spacingAndGlyphs" fill="#2c2c2c">Separator</text>
<path d="M347.20,597.40V722.40 M260.50,697.40H433.90 M260.50,672.40H433.90 M260.50,647.40H433.90 M260.50,622.40H433.90" stroke="#e9e9e9" stroke-width="0.75" fill="none"/>
<clipPath id="cp260"><rect x="260.50" y="597.40" width="173.40" height="125.00"/></clipPath>
<g clip-path="url(#cp260)">
<path d="M260.50,672.40 C261.22,672.31 263.39,672.06 264.83,671.89 C266.28,671.72 267.73,671.55 269.17,671.38 C270.62,671.21 272.06,671.04 273.50,670.87 C274.95,670.70 276.39,670.53 277.84,670.37 C279.28,670.20 280.73,670.03 282.18,669.86 C283.62,669.69 285.06,669.53 286.51,669.36 C287.95,669.19 289.40,669.02 290.84,668.86 C292.29,668.69 293.74,668.53 295.18,668.36 C296.62,668.19 298.07,668.03 299.51,667.86 C300.96,667.70 302.41,667.53 303.85,667.37 C305.30,667.20 306.74,667.04 308.19,666.88 C309.63,666.71 311.07,666.55 312.52,666.38 C313.96,666.22 315.41,666.06 316.86,665.90 C318.30,665.73 319.75,665.57 321.19,665.41 C322.63,665.25 324.08,665.08 325.52,664.92 C326.97,664.76 328.42,664.60 329.86,664.44 C331.31,664.28 332.75,664.12 334.19,663.96 C335.64,663.80 337.08,663.64 338.53,663.48 C339.97,663.32 341.42,663.16 342.87,663.00 C344.31,662.84 345.75,662.68 347.20,662.52 C348.64,662.37 350.09,662.21 351.53,662.05 C352.98,661.89 354.43,661.74 355.87,661.58 C357.31,661.42 358.76,661.26 360.20,661.11 C361.65,660.95 363.09,660.80 364.54,660.64 C365.98,660.48 367.43,660.33 368.88,660.17 C370.32,660.02 371.76,659.86 373.21,659.71 C374.65,659.55 376.10,659.40 377.54,659.25 C378.99,659.09 380.44,658.94 381.88,658.78 C383.32,658.63 384.77,658.48 386.21,658.33 C387.66,658.17 389.10,658.02 390.55,657.87 C391.99,657.72 393.44,657.56 394.88,657.41 C396.33,657.26 397.78,657.11 399.22,656.96 C400.67,656.81 402.11,656.66 403.55,656.51 C405.00,656.36 406.44,656.21 407.89,656.06 C409.33,655.91 410.78,655.76 412.22,655.61 C413.67,655.46 415.11,655.31 416.56,655.16 C418.00,655.02 419.45,654.87 420.89,654.72 C422.34,654.57 423.78,654.43 425.23,654.28 C426.67,654.13 428.12,653.98 429.56,653.84 C431.01,653.69 433.18,653.47 433.90,653.40" stroke="#737373" stroke-width="0.6" fill="none" stroke-linejoin="round"/>
<path d="M260.50,671.40 C261.22,671.32 263.39,671.08 264.83,670.93 C266.28,670.77 267.73,670.61 269.17,670.45 C270.62,670.30 272.06,670.14 273.50,669.99 C274.95,669.83 276.39,669.67 277.84,669.52 C279.28,669.37 280.73,669.21 282.18,669.06 C283.62,668.90 285.06,668.75 286.51,668.60 C287.95,668.44 289.40,668.29 290.84,668.14 C292.29,667.98 293.74,667.83 295.18,667.68 C296.62,667.53 298.07,667.38 299.51,667.23 C300.96,667.08 302.41,666.92 303.85,666.77 C305.30,666.62 306.74,666.48 308.19,666.33 C309.63,666.18 311.07,666.03 312.52,665.88 C313.96,665.73 315.41,665.58 316.86,665.44 C318.30,665.29 319.75,665.14 321.19,665.00 C322.63,664.85 324.08,664.70 325.52,664.56 C326.97,664.41 328.42,664.26 329.86,664.12 C331.31,663.98 332.75,663.83 334.19,663.69 C335.64,663.54 337.08,663.40 338.53,663.25 C339.97,663.11 341.42,662.97 342.87,662.83 C344.31,662.68 345.75,662.54 347.20,662.40 C348.64,662.26 350.09,662.12 351.53,661.98 C352.98,661.84 354.43,661.69 355.87,661.55 C357.31,661.41 358.76,661.28 360.20,661.14 C361.65,661.00 363.09,660.86 364.54,660.72 C365.98,660.58 367.43,660.44 368.88,660.31 C370.32,660.17 371.76,660.03 373.21,659.89 C374.65,659.76 376.10,659.62 377.54,659.49 C378.99,659.35 380.44,659.22 381.88,659.08 C383.32,658.95 384.77,658.81 386.21,658.68 C387.66,658.54 389.10,658.41 390.55,658.27 C391.99,658.14 393.44,658.01 394.88,657.88 C396.33,657.74 397.78,657.61 399.22,657.48 C400.67,657.35 402.11,657.22 403.55,657.09 C405.00,656.96 406.44,656.82 407.89,656.69 C409.33,656.56 410.78,656.44 412.22,656.31 C413.67,656.18 415.11,656.05 416.56,655.92 C418.00,655.79 419.45,655.66 420.89,655.54 C422.34,655.41 423.78,655.28 425.23,655.15 C426.67,655.03 428.12,654.90 429.56,654.78 C431.01,654.65 433.18,654.46 433.90,654.40" stroke="#737373" stroke-width="0.6" fill="none" stroke-linejoin="round"/>
<path d="M260.50,670.90 C261.22,670.83 263.39,670.63 264.83,670.49 C266.28,670.35 267.73,670.21 269.17,670.08 C270.62,669.94 272.06,669.80 273.50,669.67 C274.95,669.53 276.39,669.40 277.84,669.26 C279.28,669.12 280.73,668.99 282.18,668.85 C283.62,668.72 285.06,668.58 286.51,668.45 C287.95,668.31 289.40,668.18 290.84,668.04 C292.29,667.91 293.74,667.77 295.18,667.64 C296.62,667.51 298.07,667.37 299.51,667.24 C300.96,667.10 302.41,666.97 303.85,666.84 C305.30,666.70 306.74,666.57 308.19,666.44 C309.63,666.31 311.07,666.17 312.52,666.04 C313.96,665.91 315.41,665.78 316.86,665.64 C318.30,665.51 319.75,665.38 321.19,665.25 C322.63,665.12 324.08,664.98 325.52,664.85 C326.97,664.72 328.42,664.59 329.86,664.46 C331.31,664.33 332.75,664.20 334.19,664.07 C335.64,663.94 337.08,663.81 338.53,663.68 C339.97,663.55 341.42,663.42 342.87,663.29 C344.31,663.16 345.75,663.03 347.20,662.90 C348.64,662.77 350.09,662.64 351.53,662.51 C352.98,662.38 354.43,662.26 355.87,662.13 C357.31,662.00 358.76,661.87 360.20,661.74 C361.65,661.62 363.09,661.49 364.54,661.36 C365.98,661.23 367.43,661.11 368.88,660.98 C370.32,660.85 371.76,660.72 373.21,660.60 C374.65,660.47 376.10,660.34 377.54,660.22 C378.99,660.09 380.44,659.97 381.88,659.84 C383.32,659.71 384.77,659.59 386.21,659.46 C387.66,659.34 389.10,659.21 390.55,659.09 C391.99,658.96 393.44,658.84 394.88,658.71 C396.33,658.59 397.78,658.46 399.22,658.34 C400.67,658.22 402.11,658.09 403.55,657.97 C405.00,657.84 406.44,657.72 407.89,657.60 C409.33,657.47 410.78,657.35 412.22,657.23 C413.67,657.11 415.11,656.98 416.56,656.86 C418.00,656.74 419.45,656.62 420.89,656.49 C422.34,656.37 423.78,656.25 425.23,656.13 C426.67,656.01 428.12,655.88 429.56,655.76 C431.01,655.64 433.18,655.46 433.90,655.40" stroke="#737373" stroke-width="0.6" fill="none" stroke-linejoin="round"/>
<path d="M260.50,669.90 C261.22,669.83 263.39,669.63 264.83,669.49 C266.28,669.35 267.73,669.22 269.17,669.08 C270.62,668.95 272.06,668.81 273.50,668.68 C274.95,668.55 276.39,668.41 277.84,668.28 C279.28,668.15 280.73,668.02 282.18,667.88 C283.62,667.75 285.06,667.62 286.51,667.49 C287.95,667.36 289.40,667.23 290.84,667.10 C292.29,666.98 293.74,666.85 295.18,666.72 C296.62,666.59 298.07,666.47 299.51,666.34 C300.96,666.21 302.41,666.09 303.85,665.96 C305.30,665.84 306.74,665.71 308.19,665.59 C309.63,665.47 311.07,665.34 312.52,665.22 C313.96,665.10 315.41,664.98 316.86,664.85 C318.30,664.73 319.75,664.61 321.19,664.49 C322.63,664.37 324.08,664.25 325.52,664.13 C326.97,664.02 328.42,663.90 329.86,663.78 C331.31,663.66 332.75,663.55 334.19,663.43 C335.64,663.31 337.08,663.20 338.53,663.08 C339.97,662.97 341.42,662.85 342.87,662.74 C344.31,662.63 345.75,662.51 347.20,662.40 C348.64,662.29 350.09,662.18 351.53,662.06 C352.98,661.95 354.43,661.84 355.87,661.73 C357.31,661.62 358.76,661.51 360.20,661.40 C361.65,661.30 363.09,661.19 364.54,661.08 C365.98,660.97 367.43,660.87 368.88,660.76 C370.32,660.65 371.76,660.55 373.21,660.44 C374.65,660.34 376.10,660.23 377.54,660.13 C378.99,660.03 380.44,659.92 381.88,659.82 C383.32,659.72 384.77,659.62 386.21,659.51 C387.66,659.41 389.10,659.31 390.55,659.21 C391.99,659.11 393.44,659.01 394.88,658.91 C396.33,658.82 397.78,658.72 399.22,658.62 C400.67,658.52 402.11,658.43 403.55,658.33 C405.00,658.23 406.44,658.14 407.89,658.04 C409.33,657.95 410.78,657.85 412.22,657.76 C413.67,657.67 415.11,657.57 416.56,657.48 C418.00,657.39 419.45,657.30 420.89,657.20 C422.34,657.11 423.78,657.02 425.23,656.93 C426.67,656.84 428.12,656.75 429.56,656.66 C431.01,656.58 433.18,656.44 433.90,656.40" stroke="#737373" stroke-width="0.6" fill="none" stroke-linejoin="round"/>
<path d="M260.50,669.40 C261.22,669.34 263.39,669.18 264.83,669.06 C266.28,668.95 267.73,668.84 269.17,668.73 C270.62,668.62 272.06,668.51 273.50,668.40 C274.95,668.29 276.39,668.17 277.84,668.06 C279.28,667.95 280.73,667.85 282.18,667.74 C283.62,667.63 285.06,667.52 286.51,667.41 C287.95,667.30 289.40,667.19 290.84,667.08 C292.29,666.98 293.74,666.87 295.18,666.76 C296.62,666.65 298.07,666.55 299.51,666.44 C300.96,666.33 302.41,666.22 303.85,666.12 C305.30,666.01 306.74,665.91 308.19,665.80 C309.63,665.70 311.07,665.59 312.52,665.49 C313.96,665.38 315.41,665.28 316.86,665.17 C318.30,665.07 319.75,664.96 321.19,664.86 C322.63,664.75 324.08,664.65 325.52,664.55 C326.97,664.45 328.42,664.34 329.86,664.24 C331.31,664.14 332.75,664.04 334.19,663.93 C335.64,663.83 337.08,663.73 338.53,663.63 C339.97,663.53 341.42,663.43 342.87,663.33 C344.31,663.23 345.75,663.12 347.20,663.02 C348.64,662.92 350.09,662.83 351.53,662.73 C352.98,662.63 354.43,662.53 355.87,662.43 C357.31,662.33 358.76,662.23 360.20,662.13 C361.65,662.04 363.09,661.94 364.54,661.84 C365.98,661.74 367.43,661.65 368.88,661.55 C370.32,661.45 371.76,661.36 373.21,661.26 C374.65,661.16 376.10,661.07 377.54,660.97 C378.99,660.88 380.44,660.78 381.88,660.68 C383.32,660.59 384.77,660.50 386.21,660.40 C387.66,660.31 389.10,660.21 390.55,660.12 C391.99,660.02 393.44,659.93 394.88,659.84 C396.33,659.75 397.78,659.65 399.22,659.56 C400.67,659.47 402.11,659.38 403.55,659.28 C405.00,659.19 406.44,659.10 407.89,659.01 C409.33,658.92 410.78,658.83 412.22,658.74 C413.67,658.65 415.11,658.56 416.56,658.47 C418.00,658.38 419.45,658.29 420.89,658.20 C422.34,658.11 423.78,658.02 425.23,657.93 C426.67,657.84 428.12,657.75 429.56,657.66 C431.01,657.58 433.18,657.44 433.90,657.40" stroke="#737373" stroke-width="0.6" fill="none" stroke-linejoin="round"/>
<path d="M260.50,668.40 C261.22,668.35 263.39,668.20 264.83,668.10 C266.28,668.00 267.73,667.90 269.17,667.80 C270.62,667.71 272.06,667.61 273.50,667.51 C274.95,667.41 276.39,667.32 277.84,667.22 C279.28,667.12 280.73,667.03 282.18,666.93 C283.62,666.84 285.06,666.74 286.51,666.64 C287.95,666.55 289.40,666.46 290.84,666.36 C292.29,666.27 293.74,666.17 295.18,666.08 C296.62,665.99 298.07,665.89 299.51,665.80 C300.96,665.71 302.41,665.62 303.85,665.52 C305.30,665.43 306.74,665.34 308.19,665.25 C309.63,665.16 311.07,665.07 312.52,664.98 C313.96,664.89 315.41,664.80 316.86,664.71 C318.30,664.62 319.75,664.53 321.19,664.44 C322.63,664.36 324.08,664.27 325.52,664.18 C326.97,664.09 328.42,664.01 329.86,663.92 C331.31,663.83 332.75,663.75 334.19,663.66 C335.64,663.58 337.08,663.49 338.53,663.40 C339.97,663.32 341.42,663.24 342.87,663.15 C344.31,663.07 345.75,662.98 347.20,662.90 C348.64,662.82 350.09,662.73 351.53,662.65 C352.98,662.57 354.43,662.49 355.87,662.40 C357.31,662.32 358.76,662.24 360.20,662.16 C361.65,662.08 363.09,662.00 364.54,661.92 C365.98,661.84 367.43,661.76 368.88,661.68 C370.32,661.60 371.76,661.52 373.21,661.44 C374.65,661.37 376.10,661.29 377.54,661.21 C378.99,661.13 380.44,661.06 381.88,660.98 C383.32,660.90 384.77,660.83 386.21,660.75 C387.66,660.68 389.10,660.60 390.55,660.52 C391.99,660.45 393.44,660.38 394.88,660.30 C396.33,660.23 397.78,660.15 399.22,660.08 C400.67,660.01 402.11,659.93 403.55,659.86 C405.00,659.79 406.44,659.72 407.89,659.64 C409.33,659.57 410.78,659.50 412.22,659.43 C413.67,659.36 415.11,659.29 416.56,659.22 C418.00,659.15 419.45,659.08 420.89,659.01 C422.34,658.94 423.78,658.87 425.23,658.80 C426.67,658.74 428.12,658.67 429.56,658.60 C431.01,658.53 433.18,658.43 433.90,658.40" stroke="#737373" stroke-width="0.6" fill="none" stroke-linejoin="round"/>
<path d="M260.50,667.40 C261.22,667.36 263.39,667.23 264.83,667.15 C266.28,667.07 267.73,666.99 269.17,666.91 C270.62,666.83 272.06,666.74 273.50,666.66 C274.95,666.58 276.39,666.50 277.84,666.42 C279.28,666.35 280.73,666.27 282.18,666.19 C283.62,666.11 285.06,666.03 286.51,665.96 C287.95,665.88 289.40,665.80 290.84,665.73 C292.29,665.65 293.74,665.58 295.18,665.50 C296.62,665.42 298.07,665.35 299.51,665.28 C300.96,665.20 302.41,665.13 303.85,665.06 C305.30,664.98 306.74,664.91 308.19,664.84 C309.63,664.77 311.07,664.70 312.52,664.62 C313.96,664.55 315.41,664.48 316.86,664.41 C318.30,664.34 319.75,664.27 321.19,664.21 C322.63,664.14 324.08,664.07 325.52,664.00 C326.97,663.93 328.42,663.87 329.86,663.80 C331.31,663.73 332.75,663.67 334.19,663.60 C335.64,663.54 337.08,663.47 338.53,663.41 C339.97,663.34 341.42,663.28 342.87,663.21 C344.31,663.15 345.75,663.09 347.20,663.02 C348.64,662.96 350.09,662.90 351.53,662.84 C352.98,662.78 354.43,662.72 355.87,662.66 C357.31,662.60 358.76,662.54 360.20,662.48 C361.65,662.42 363.09,662.36 364.54,662.30 C365.98,662.24 367.43,662.18 368.88,662.13 C370.32,662.07 371.76,662.01 373.21,661.96 C374.65,661.90 376.10,661.84 377.54,661.79 C378.99,661.73 380.44,661.68 381.88,661.62 C383.32,661.57 384.77,661.52 386.21,661.46 C387.66,661.41 389.10,661.36 390.55,661.31 C391.99,661.25 393.44,661.20 394.88,661.15 C396.33,661.10 397.78,661.05 399.22,661.00 C400.67,660.95 402.11,660.90 403.55,660.85 C405.00,660.80 406.44,660.75 407.89,660.71 C409.33,660.66 410.78,660.61 412.22,660.56 C413.67,660.52 415.11,660.47 416.56,660.42 C418.00,660.38 419.45,660.33 420.89,660.29 C422.34,660.24 423.78,660.20 425.23,660.16 C426.67,660.11 428.12,660.07 429.56,660.03 C431.01,659.98 433.18,659.92 433.90,659.90" stroke="#737373" stroke-width="0.6" fill="none" stroke-linejoin="round"/>
<path d="M260.50,665.90 C261.22,665.88 263.39,665.81 264.83,665.76 C266.28,665.72 267.73,665.67 269.17,665.63 C270.62,665.58 272.06,665.54 273.50,665.49 C274.95,665.45 276.39,665.40 277.84,665.36 C279.28,665.32 280.73,665.27 282.18,665.23 C283.62,665.18 285.06,665.14 286.51,665.10 C287.95,665.05 289.40,665.01 290.84,664.97 C292.29,664.93 293.74,664.88 295.18,664.84 C296.62,664.80 298.07,664.76 299.51,664.71 C300.96,664.67 302.41,664.63 303.85,664.59 C305.30,664.55 306.74,664.50 308.19,664.46 C309.63,664.42 311.07,664.38 312.52,664.34 C313.96,664.30 315.41,664.26 316.86,664.22 C318.30,664.18 319.75,664.14 321.19,664.10 C322.63,664.06 324.08,664.02 325.52,663.98 C326.97,663.94 328.42,663.90 329.86,663.86 C331.31,663.82 332.75,663.78 334.19,663.74 C335.64,663.70 337.08,663.67 338.53,663.63 C339.97,663.59 341.42,663.55 342.87,663.51 C344.31,663.48 345.75,663.44 347.20,663.40 C348.64,663.36 350.09,663.33 351.53,663.29 C352.98,663.25 354.43,663.21 355.87,663.18 C357.31,663.14 358.76,663.10 360.20,663.07 C361.65,663.03 363.09,663.00 364.54,662.96 C365.98,662.92 367.43,662.89 368.88,662.85 C370.32,662.82 371.76,662.78 373.21,662.75 C374.65,662.71 376.10,662.68 377.54,662.64 C378.99,662.61 380.44,662.57 381.88,662.54 C383.32,662.51 384.77,662.47 386.21,662.44 C387.66,662.40 389.10,662.37 390.55,662.34 C391.99,662.30 393.44,662.27 394.88,662.24 C396.33,662.21 397.78,662.17 399.22,662.14 C400.67,662.11 402.11,662.08 403.55,662.04 C405.00,662.01 406.44,661.98 407.89,661.95 C409.33,661.92 410.78,661.88 412.22,661.85 C413.67,661.82 415.11,661.79 416.56,661.76 C418.00,661.73 419.45,661.70 420.89,661.67 C422.34,661.64 423.78,661.61 425.23,661.58 C426.67,661.55 428.12,661.52 429.56,661.49 C431.01,661.46 433.18,661.41 433.90,661.40" stroke="#737373" stroke-width="0.6" fill="none" stroke-linejoin="round"/>
<path d="M260.50,664.40 C261.22,664.38 263.39,664.33 264.83,664.29 C266.28,664.25 267.73,664.22 269.17,664.18 C270.62,664.15 272.06,664.11 273.50,664.08 C274.95,664.05 276.39,664.01 277.84,663.98 C279.28,663.95 280.73,663.92 282.18,663.88 C283.62,663.85 285.06,663.82 286.51,663.79 C287.95,663.76 289.40,663.73 290.84,663.70 C292.29,663.68 293.74,663.65 295.18,663.62 C296.62,663.59 298.07,663.57 299.51,663.54 C300.96,663.51 302.41,663.49 303.85,663.46 C305.30,663.44 306.74,663.41 308.19,663.39 C309.63,663.37 311.07,663.34 312.52,663.32 C313.96,663.30 315.41,663.28 316.86,663.25 C318.30,663.23 319.75,663.21 321.19,663.19 C322.63,663.17 324.08,663.15 325.52,663.13 C326.97,663.12 328.42,663.10 329.86,663.08 C331.31,663.06 332.75,663.05 334.19,663.03 C335.64,663.01 337.08,663.00 338.53,662.98 C339.97,662.97 341.42,662.95 342.87,662.94 C344.31,662.93 345.75,662.91 347.20,662.90 C348.64,662.89 350.09,662.88 351.53,662.86 C352.98,662.85 354.43,662.84 355.87,662.83 C357.31,662.82 358.76,662.81 360.20,662.80 C361.65,662.80 363.09,662.79 364.54,662.78 C365.98,662.77 367.43,662.77 368.88,662.76 C370.32,662.75 371.76,662.75 373.21,662.74 C374.65,662.74 376.10,662.73 377.54,662.73 C378.99,662.73 380.44,662.72 381.88,662.72 C383.32,662.72 384.77,662.72 386.21,662.71 C387.66,662.71 389.10,662.71 390.55,662.71 C391.99,662.71 393.44,662.71 394.88,662.71 C396.33,662.72 397.78,662.72 399.22,662.72 C400.67,662.72 402.11,662.73 403.55,662.73 C405.00,662.73 406.44,662.74 407.89,662.74 C409.33,662.75 410.78,662.75 412.22,662.76 C413.67,662.77 415.11,662.77 416.56,662.78 C418.00,662.79 419.45,662.80 420.89,662.80 C422.34,662.81 423.78,662.82 425.23,662.83 C426.67,662.84 428.12,662.85 429.56,662.86 C431.01,662.88 433.18,662.89 433.90,662.90" stroke="#737373" stroke-width="0.6" fill="none" stroke-linejoin="round"/>
<path d="M260.50,662.40 C261.22,662.40 263.39,662.41 264.83,662.41 C266.28,662.42 267.73,662.42 269.17,662.43 C270.62,662.43 272.06,662.44 273.50,662.45 C274.95,662.45 276.39,662.46 277.84,662.46 C279.28,662.47 280.73,662.48 282.18,662.49 C283.62,662.49 285.06,662.50 286.51,662.51 C287.95,662.52 289.40,662.52 290.84,662.53 C292.29,662.54 293.74,662.55 295.18,662.56 C296.62,662.57 298.07,662.58 299.51,662.59 C300.96,662.60 302.41,662.61 303.85,662.62 C305.30,662.63 306.74,662.64 308.19,662.65 C309.63,662.66 311.07,662.67 312.52,662.68 C313.96,662.70 315.41,662.71 316.86,662.72 C318.30,662.73 319.75,662.75 321.19,662.76 C322.63,662.77 324.08,662.78 325.52,662.80 C326.97,662.81 328.42,662.83 329.86,662.84 C331.31,662.85 332.75,662.87 334.19,662.88 C335.64,662.90 337.08,662.91 338.53,662.93 C339.97,662.94 341.42,662.96 342.87,662.98 C344.31,662.99 345.75,663.01 347.20,663.02 C348.64,663.04 350.09,663.06 351.53,663.08 C352.98,663.09 354.43,663.11 355.87,663.13 C357.31,663.15 358.76,663.16 360.20,663.18 C361.65,663.20 363.09,663.22 364.54,663.24 C365.98,663.26 367.43,663.28 368.88,663.30 C370.32,663.32 371.76,663.34 373.21,663.36 C374.65,663.38 376.10,663.40 377.54,663.42 C378.99,663.44 380.44,663.46 381.88,663.49 C383.32,663.51 384.77,663.53 386.21,663.55 C387.66,663.57 389.10,663.60 390.55,663.62 C391.99,663.64 393.44,663.66 394.88,663.69 C396.33,663.71 397.78,663.74 399.22,663.76 C400.67,663.78 402.11,663.81 403.55,663.83 C405.00,663.86 406.44,663.88 407.89,663.91 C409.33,663.93 410.78,663.96 412.22,663.99 C413.67,664.01 415.11,664.04 416.56,664.06 C418.00,664.09 419.45,664.12 420.89,664.15 C422.34,664.17 423.78,664.20 425.23,664.23 C426.67,664.26 428.12,664.28 429.56,664.31 C431.01,664.34 433.18,664.39 433.90,664.40" stroke="#737373" stroke-width="0.6" fill="none" stroke-linejoin="round"/>
<path d="M260.50,670.40 C261.22,670.33 263.39,670.12 264.83,669.98 C266.28,669.83 267.73,669.69 269.17,669.55 C270.62,669.41 272.06,669.27 273.50,669.13 C274.95,668.99 276.39,668.85 277.84,668.70 C279.28,668.56 280.73,668.42 282.18,668.28 C283.62,668.14 285.06,668.00 286.51,667.86 C287.95,667.72 289.40,667.58 290.84,667.44 C292.29,667.30 293.74,667.16 295.18,667.02 C296.62,666.88 298.07,666.74 299.51,666.60 C300.96,666.46 302.41,666.32 303.85,666.18 C305.30,666.04 306.74,665.90 308.19,665.76 C309.63,665.62 311.07,665.48 312.52,665.35 C313.96,665.21 315.41,665.07 316.86,664.93 C318.30,664.79 319.75,664.65 321.19,664.51 C322.63,664.37 324.08,664.23 325.52,664.10 C326.97,663.96 328.42,663.82 329.86,663.68 C331.31,663.54 332.75,663.40 334.19,663.27 C335.64,663.13 337.08,662.99 338.53,662.85 C339.97,662.71 341.42,662.58 342.87,662.44 C344.31,662.30 345.75,662.16 347.20,662.02 C348.64,661.89 350.09,661.75 351.53,661.61 C352.98,661.48 354.43,661.34 355.87,661.20 C357.31,661.06 358.76,660.93 360.20,660.79 C361.65,660.65 363.09,660.52 364.54,660.38 C365.98,660.24 367.43,660.11 368.88,659.97 C370.32,659.83 371.76,659.70 373.21,659.56 C374.65,659.42 376.10,659.29 377.54,659.15 C378.99,659.02 380.44,658.88 381.88,658.75 C383.32,658.61 384.77,658.47 386.21,658.34 C387.66,658.20 389.10,658.07 390.55,657.93 C391.99,657.80 393.44,657.66 394.88,657.53 C396.33,657.39 397.78,657.25 399.22,657.12 C400.67,656.99 402.11,656.85 403.55,656.72 C405.00,656.58 406.44,656.45 407.89,656.31 C409.33,656.18 410.78,656.04 412.22,655.91 C413.67,655.77 415.11,655.64 416.56,655.50 C418.00,655.37 419.45,655.24 420.89,655.10 C422.34,654.97 423.78,654.83 425.23,654.70 C426.67,654.57 428.12,654.43 429.56,654.30 C431.01,654.17 433.18,653.97 433.90,653.90" stroke="#737373" stroke-width="0.6" fill="none" stroke-linejoin="round"/>
<path d="M260.50,668.90 C261.22,668.85 263.39,668.68 264.83,668.58 C266.28,668.47 267.73,668.36 269.17,668.25 C270.62,668.14 272.06,668.03 273.50,667.92 C274.95,667.82 276.39,667.71 277.84,667.60 C279.28,667.49 280.73,667.38 282.18,667.27 C283.62,667.17 285.06,667.06 286.51,666.95 C287.95,666.84 289.40,666.73 290.84,666.62 C292.29,666.52 293.74,666.41 295.18,666.30 C296.62,666.19 298.07,666.08 299.51,665.98 C300.96,665.87 302.41,665.76 303.85,665.65 C305.30,665.54 306.74,665.43 308.19,665.32 C309.63,665.22 311.07,665.11 312.52,665.00 C313.96,664.89 315.41,664.78 316.86,664.67 C318.30,664.57 319.75,664.46 321.19,664.35 C322.63,664.24 324.08,664.13 325.52,664.02 C326.97,663.92 328.42,663.81 329.86,663.70 C331.31,663.59 332.75,663.48 334.19,663.38 C335.64,663.27 337.08,663.16 338.53,663.05 C339.97,662.94 341.42,662.83 342.87,662.73 C344.31,662.62 345.75,662.51 347.20,662.40 C348.64,662.29 350.09,662.18 351.53,662.07 C352.98,661.97 354.43,661.86 355.87,661.75 C357.31,661.64 358.76,661.53 360.20,661.42 C361.65,661.32 363.09,661.21 364.54,661.10 C365.98,660.99 367.43,660.88 368.88,660.77 C370.32,660.67 371.76,660.56 373.21,660.45 C374.65,660.34 376.10,660.23 377.54,660.12 C378.99,660.02 380.44,659.91 381.88,659.80 C383.32,659.69 384.77,659.58 386.21,659.47 C387.66,659.37 389.10,659.26 390.55,659.15 C391.99,659.04 393.44,658.93 394.88,658.82 C396.33,658.72 397.78,658.61 399.22,658.50 C400.67,658.39 402.11,658.28 403.55,658.17 C405.00,658.07 406.44,657.96 407.89,657.85 C409.33,657.74 410.78,657.63 412.22,657.52 C413.67,657.42 415.11,657.31 416.56,657.20 C418.00,657.09 419.45,656.98 420.89,656.88 C422.34,656.77 423.78,656.66 425.23,656.55 C426.67,656.44 428.12,656.33 429.56,656.22 C431.01,656.12 433.18,655.95 433.90,655.90" stroke="#737373" stroke-width="0.6" fill="none" stroke-linejoin="round"/>
<path d="M260.50,671.90 C261.22,671.82 263.39,671.60 264.83,671.45 C266.28,671.30 267.73,671.15 269.17,671.00 C270.62,670.85 272.06,670.70 273.50,670.54 C274.95,670.39 276.39,670.24 277.84,670.09 C279.28,669.94 280.73,669.79 282.18,669.63 C283.62,669.48 285.06,669.33 286.51,669.18 C287.95,669.02 289.40,668.87 290.84,668.72 C292.29,668.57 293.74,668.41 295.18,668.26 C296.62,668.11 298.07,667.95 299.51,667.80 C300.96,667.65 302.41,667.49 303.85,667.34 C305.30,667.18 306.74,667.03 308.19,666.87 C309.63,666.72 311.07,666.56 312.52,666.41 C313.96,666.25 315.41,666.10 316.86,665.94 C318.30,665.79 319.75,665.63 321.19,665.48 C322.63,665.32 324.08,665.17 325.52,665.01 C326.97,664.85 328.42,664.70 329.86,664.54 C331.31,664.38 332.75,664.23 334.19,664.07 C335.64,663.91 337.08,663.75 338.53,663.60 C339.97,663.44 341.42,663.28 342.87,663.12 C344.31,662.97 345.75,662.81 347.20,662.65 C348.64,662.49 350.09,662.33 351.53,662.17 C352.98,662.02 354.43,661.86 355.87,661.70 C357.31,661.54 358.76,661.38 360.20,661.22 C361.65,661.06 363.09,660.90 364.54,660.74 C365.98,660.58 367.43,660.42 368.88,660.26 C370.32,660.10 371.76,659.94 373.21,659.78 C374.65,659.62 376.10,659.46 377.54,659.29 C378.99,659.13 380.44,658.97 381.88,658.81 C383.32,658.65 384.77,658.49 386.21,658.32 C387.66,658.16 389.10,658.00 390.55,657.84 C391.99,657.67 393.44,657.51 394.88,657.35 C396.33,657.19 397.78,657.02 399.22,656.86 C400.67,656.70 402.11,656.53 403.55,656.37 C405.00,656.21 406.44,656.04 407.89,655.88 C409.33,655.71 410.78,655.55 412.22,655.38 C413.67,655.22 415.11,655.05 416.56,654.89 C418.00,654.73 419.45,654.56 420.89,654.39 C422.34,654.23 423.78,654.06 425.23,653.90 C426.67,653.73 428.12,653.57 429.56,653.40 C431.01,653.23 433.18,652.98 433.90,652.90" stroke="#737373" stroke-width="0.6" fill="none" stroke-linejoin="round"/>
<path d="M260.50,660.40 C261.22,660.38 263.39,660.33 264.83,660.30 C266.28,660.27 267.73,660.24 269.17,660.20 C270.62,660.17 272.06,660.14 273.50,660.11 C274.95,660.07 276.39,660.04 277.84,660.01 C279.28,659.98 280.73,659.95 282.18,659.92 C283.62,659.88 285.06,659.85 286.51,659.82 C287.95,659.79 289.40,659.76 290.84,659.73 C292.29,659.70 293.74,659.67 295.18,659.64 C296.62,659.61 298.07,659.58 299.51,659.55 C300.96,659.52 302.41,659.49 303.85,659.46 C305.30,659.43 306.74,659.40 308.19,659.38 C309.63,659.35 311.07,659.32 312.52,659.29 C313.96,659.26 315.41,659.23 316.86,659.21 C318.30,659.18 319.75,659.15 321.19,659.12 C322.63,659.09 324.08,659.07 325.52,659.04 C326.97,659.01 328.42,658.99 329.86,658.96 C331.31,658.93 332.75,658.91 334.19,658.88 C335.64,658.85 337.08,658.83 338.53,658.80 C339.97,658.78 341.42,658.75 342.87,658.73 C344.31,658.70 345.75,658.67 347.20,658.65 C348.64,658.62 350.09,658.60 351.53,658.58 C352.98,658.55 354.43,658.53 355.87,658.50 C357.31,658.48 358.76,658.45 360.20,658.43 C361.65,658.41 363.09,658.38 364.54,658.36 C365.98,658.34 367.43,658.31 368.88,658.29 C370.32,658.27 371.76,658.25 373.21,658.22 C374.65,658.20 376.10,658.18 377.54,658.16 C378.99,658.13 380.44,658.11 381.88,658.09 C383.32,658.07 384.77,658.05 386.21,658.03 C387.66,658.00 389.10,657.98 390.55,657.96 C391.99,657.94 393.44,657.92 394.88,657.90 C396.33,657.88 397.78,657.86 399.22,657.84 C400.67,657.82 402.11,657.80 403.55,657.78 C405.00,657.76 406.44,657.74 407.89,657.72 C409.33,657.70 410.78,657.68 412.22,657.67 C413.67,657.65 415.11,657.63 416.56,657.61 C418.00,657.59 419.45,657.57 420.89,657.56 C422.34,657.54 423.78,657.52 425.23,657.50 C426.67,657.48 428.12,657.47 429.56,657.45 C431.01,657.43 433.18,657.41 433.90,657.40" stroke="#737373" stroke-width="0.6" fill="none" stroke-linejoin="round"/>
<path d="M260.50,712.40 C261.22,711.91 263.39,710.43 264.83,709.45 C266.28,708.48 267.73,707.50 269.17,706.53 C270.62,705.56 272.06,704.59 273.50,703.63 C274.95,702.67 276.39,701.71 277.84,700.75 C279.28,699.80 280.73,698.85 282.18,697.90 C283.62,696.95 285.06,696.01 286.51,695.07 C287.95,694.13 289.40,693.20 290.84,692.26 C292.29,691.33 293.74,690.41 295.18,689.49 C296.62,688.56 298.07,687.65 299.51,686.73 C300.96,685.82 302.41,684.91 303.85,684.01 C305.30,683.10 306.74,682.20 308.19,681.31 C309.63,680.41 311.07,679.52 312.52,678.64 C313.96,677.75 315.41,676.87 316.86,675.99 C318.30,675.12 319.75,674.25 321.19,673.38 C322.63,672.51 324.08,671.65 325.52,670.80 C326.97,669.94 328.42,669.09 329.86,668.24 C331.31,667.40 332.75,666.56 334.19,665.72 C335.64,664.89 337.08,664.06 338.53,663.23 C339.97,662.41 341.42,661.59 342.87,660.78 C344.31,659.97 345.75,659.16 347.20,658.36 C348.64,657.56 350.09,656.76 351.53,655.97 C352.98,655.19 354.43,654.40 355.87,653.63 C357.31,652.85 358.76,652.08 360.20,651.32 C361.65,650.56 363.09,649.80 364.54,649.05 C365.98,648.30 367.43,647.56 368.88,646.83 C370.32,646.09 371.76,645.36 373.21,644.65 C374.65,643.93 376.10,643.21 377.54,642.51 C378.99,641.81 380.44,641.11 381.88,640.42 C383.32,639.74 384.77,639.06 386.21,638.39 C387.66,637.72 389.10,637.06 390.55,636.41 C391.99,635.76 393.44,635.12 394.88,634.49 C396.33,633.86 397.78,633.24 399.22,632.63 C400.67,632.02 402.11,631.42 403.55,630.84 C405.00,630.26 406.44,629.68 407.89,629.13 C409.33,628.57 410.78,628.02 412.22,627.50 C413.67,626.97 415.11,626.45 416.56,625.96 C418.00,625.47 419.45,624.99 420.89,624.54 C422.34,624.09 423.78,623.65 425.23,623.25 C426.67,622.85 428.12,622.46 429.56,622.15 C431.01,621.84 433.18,621.53 433.90,621.40" stroke="#bdbdbd" stroke-width="0.6" fill="none" stroke-linejoin="round"/>
<path d="M260.50,709.90 C261.22,709.30 263.39,707.50 264.83,706.32 C266.28,705.14 267.73,703.96 269.17,702.80 C270.62,701.64 272.06,700.49 273.50,699.35 C274.95,698.21 276.39,697.08 277.84,695.96 C279.28,694.84 280.73,693.73 282.18,692.64 C283.62,691.54 285.06,690.46 286.51,689.38 C287.95,688.31 289.40,687.24 290.84,686.19 C292.29,685.14 293.74,684.10 295.18,683.07 C296.62,682.04 298.07,681.02 299.51,680.01 C300.96,679.00 302.41,678.01 303.85,677.02 C305.30,676.04 306.74,675.06 308.19,674.10 C309.63,673.14 311.07,672.19 312.52,671.25 C313.96,670.32 315.41,669.39 316.86,668.47 C318.30,667.56 319.75,666.66 321.19,665.77 C322.63,664.88 324.08,664.00 325.52,663.13 C326.97,662.26 328.42,661.41 329.86,660.57 C331.31,659.73 332.75,658.90 334.19,658.08 C335.64,657.26 337.08,656.46 338.53,655.66 C339.97,654.87 341.42,654.09 342.87,653.32 C344.31,652.56 345.75,651.80 347.20,651.06 C348.64,650.32 350.09,649.59 351.53,648.88 C352.98,648.16 354.43,647.46 355.87,646.77 C357.31,646.08 358.76,645.41 360.20,644.75 C361.65,644.08 363.09,643.44 364.54,642.80 C365.98,642.17 367.43,641.55 368.88,640.94 C370.32,640.34 371.76,639.74 373.21,639.17 C374.65,638.59 376.10,638.03 377.54,637.48 C378.99,636.93 380.44,636.40 381.88,635.88 C383.32,635.36 384.77,634.86 386.21,634.37 C387.66,633.88 389.10,633.41 390.55,632.95 C391.99,632.50 393.44,632.06 394.88,631.63 C396.33,631.21 397.78,630.80 399.22,630.41 C400.67,630.02 402.11,629.65 403.55,629.29 C405.00,628.94 406.44,628.60 407.89,628.28 C409.33,627.96 410.78,627.66 412.22,627.38 C413.67,627.10 415.11,626.84 416.56,626.60 C418.00,626.36 419.45,626.14 420.89,625.94 C422.34,625.74 423.78,625.57 425.23,625.42 C426.67,625.28 428.12,625.15 429.56,625.06 C431.01,624.97 433.18,624.93 433.90,624.90" stroke="#bdbdbd" stroke-width="0.6" fill="none" stroke-linejoin="round"/>
<path d="M260.50,706.40 C261.22,705.76 263.39,703.82 264.83,702.55 C266.28,701.28 267.73,700.02 269.17,698.79 C270.62,697.55 272.06,696.32 273.50,695.12 C274.95,693.91 276.39,692.72 277.84,691.54 C279.28,690.37 280.73,689.20 282.18,688.06 C283.62,686.91 285.06,685.79 286.51,684.67 C287.95,683.56 289.40,682.46 290.84,681.38 C292.29,680.30 293.74,679.23 295.18,678.18 C296.62,677.13 298.07,676.09 299.51,675.07 C300.96,674.05 302.41,673.05 303.85,672.06 C305.30,671.07 306.74,670.10 308.19,669.15 C309.63,668.19 311.07,667.25 312.52,666.33 C313.96,665.40 315.41,664.50 316.86,663.60 C318.30,662.71 319.75,661.84 321.19,660.98 C322.63,660.12 324.08,659.27 325.52,658.45 C326.97,657.62 328.42,656.81 329.86,656.01 C331.31,655.22 332.75,654.44 334.19,653.68 C335.64,652.91 337.08,652.17 338.53,651.44 C339.97,650.71 341.42,650.00 342.87,649.30 C344.31,648.60 345.75,647.92 347.20,647.26 C348.64,646.60 350.09,645.95 351.53,645.32 C352.98,644.69 354.43,644.07 355.87,643.48 C357.31,642.88 358.76,642.30 360.20,641.74 C361.65,641.17 363.09,640.63 364.54,640.10 C365.98,639.57 367.43,639.06 368.88,638.56 C370.32,638.07 371.76,637.59 373.21,637.13 C374.65,636.67 376.10,636.22 377.54,635.80 C378.99,635.37 380.44,634.96 381.88,634.57 C383.32,634.18 384.77,633.81 386.21,633.45 C387.66,633.10 389.10,632.76 390.55,632.44 C391.99,632.12 393.44,631.82 394.88,631.53 C396.33,631.25 397.78,630.99 399.22,630.74 C400.67,630.49 402.11,630.26 403.55,630.05 C405.00,629.84 406.44,629.65 407.89,629.48 C409.33,629.31 410.78,629.16 412.22,629.03 C413.67,628.89 415.11,628.78 416.56,628.69 C418.00,628.60 419.45,628.53 420.89,628.48 C422.34,628.43 423.78,628.41 425.23,628.40 C426.67,628.39 428.12,628.40 429.56,628.40 C431.01,628.40 433.18,628.40 433.90,628.40" stroke="#bdbdbd" stroke-width="0.6" fill="none" stroke-linejoin="round"/>
<path d="M260.50,702.40 C261.22,701.69 263.39,699.54 264.83,698.14 C266.28,696.74 267.73,695.37 269.17,694.01 C270.62,692.66 272.06,691.33 273.50,690.02 C274.95,688.72 276.39,687.43 277.84,686.17 C279.28,684.91 280.73,683.67 282.18,682.45 C283.62,681.24 285.06,680.04 286.51,678.87 C287.95,677.71 289.40,676.56 290.84,675.44 C292.29,674.32 293.74,673.22 295.18,672.14 C296.62,671.07 298.07,670.02 299.51,668.99 C300.96,667.96 302.41,666.96 303.85,665.98 C305.30,665.00 306.74,664.05 308.19,663.12 C309.63,662.19 311.07,661.29 312.52,660.41 C313.96,659.53 315.41,658.68 316.86,657.85 C318.30,657.02 319.75,656.22 321.19,655.44 C322.63,654.66 324.08,653.91 325.52,653.19 C326.97,652.46 328.42,651.76 329.86,651.09 C331.31,650.42 332.75,649.78 334.19,649.16 C335.64,648.54 337.08,647.95 338.53,647.39 C339.97,646.83 341.42,646.29 342.87,645.79 C344.31,645.29 345.75,644.81 347.20,644.36 C348.64,643.92 350.09,643.50 351.53,643.11 C352.98,642.73 354.43,642.37 355.87,642.05 C357.31,641.73 358.76,641.44 360.20,641.18 C361.65,640.93 363.09,640.70 364.54,640.52 C365.98,640.33 367.43,640.18 368.88,640.08 C370.32,639.97 371.76,639.90 373.21,639.90 C374.65,639.90 376.10,640.02 377.54,640.09 C378.99,640.15 380.44,640.21 381.88,640.27 C383.32,640.34 384.77,640.40 386.21,640.46 C387.66,640.52 389.10,640.59 390.55,640.65 C391.99,640.71 393.44,640.77 394.88,640.84 C396.33,640.90 397.78,640.96 399.22,641.02 C400.67,641.09 402.11,641.15 403.55,641.21 C405.00,641.27 406.44,641.34 407.89,641.40 C409.33,641.46 410.78,641.52 412.22,641.59 C413.67,641.65 415.11,641.71 416.56,641.77 C418.00,641.84 419.45,641.90 420.89,641.96 C422.34,642.02 423.78,642.09 425.23,642.15 C426.67,642.21 428.12,642.27 429.56,642.34 C431.01,642.40 433.18,642.49 433.90,642.52" stroke="#bdbdbd" stroke-width="0.6" fill="none" stroke-linejoin="round"/>
<path d="M260.50,692.40 C261.22,691.69 263.39,689.52 264.83,688.12 C266.28,686.71 267.73,685.34 269.17,683.98 C270.62,682.63 272.06,681.30 273.50,680.00 C274.95,678.70 276.39,677.43 277.84,676.18 C279.28,674.93 280.73,673.71 282.18,672.51 C283.62,671.32 285.06,670.15 286.51,669.01 C287.95,667.87 289.40,666.76 290.84,665.68 C292.29,664.60 293.74,663.55 295.18,662.53 C296.62,661.51 298.07,660.52 299.51,659.56 C300.96,658.61 302.41,657.68 303.85,656.79 C305.30,655.90 306.74,655.04 308.19,654.21 C309.63,653.39 311.07,652.60 312.52,651.85 C313.96,651.10 315.41,650.38 316.86,649.71 C318.30,649.04 319.75,648.40 321.19,647.82 C322.63,647.23 324.08,646.68 325.52,646.19 C326.97,645.69 328.42,645.24 329.86,644.86 C331.31,644.47 332.75,644.12 334.19,643.88 C335.64,643.64 337.08,643.46 338.53,643.40 C339.97,643.34 341.42,643.48 342.87,643.52 C344.31,643.57 345.75,643.61 347.20,643.65 C348.64,643.69 350.09,643.73 351.53,643.77 C352.98,643.82 354.43,643.86 355.87,643.90 C357.31,643.94 358.76,643.98 360.20,644.02 C361.65,644.07 363.09,644.11 364.54,644.15 C365.98,644.19 367.43,644.23 368.88,644.27 C370.32,644.32 371.76,644.36 373.21,644.40 C374.65,644.44 376.10,644.48 377.54,644.52 C378.99,644.57 380.44,644.61 381.88,644.65 C383.32,644.69 384.77,644.73 386.21,644.77 C387.66,644.82 389.10,644.86 390.55,644.90 C391.99,644.94 393.44,644.98 394.88,645.02 C396.33,645.07 397.78,645.11 399.22,645.15 C400.67,645.19 402.11,645.23 403.55,645.27 C405.00,645.32 406.44,645.36 407.89,645.40 C409.33,645.44 410.78,645.48 412.22,645.52 C413.67,645.57 415.11,645.61 416.56,645.65 C418.00,645.69 419.45,645.73 420.89,645.77 C422.34,645.82 423.78,645.86 425.23,645.90 C426.67,645.94 428.12,645.98 429.56,646.02 C431.01,646.07 433.18,646.13 433.90,646.15" stroke="#bdbdbd" stroke-width="0.6" fill="none" stroke-linejoin="round"/>
<path d="M260.50,709.40 C261.22,708.95 263.39,707.60 264.83,706.70 C266.28,705.81 267.73,704.92 269.17,704.04 C270.62,703.16 272.06,702.29 273.50,701.42 C274.95,700.55 276.39,699.69 277.84,698.83 C279.28,697.97 280.73,697.12 282.18,696.28 C283.62,695.43 285.06,694.59 286.51,693.76 C287.95,692.93 289.40,692.10 290.84,691.28 C292.29,690.46 293.74,689.65 295.18,688.85 C296.62,688.04 298.07,687.24 299.51,686.45 C300.96,685.66 302.41,684.87 303.85,684.09 C305.30,683.31 306.74,682.54 308.19,681.78 C309.63,681.01 311.07,680.26 312.52,679.51 C313.96,678.76 315.41,678.02 316.86,677.28 C318.30,676.55 319.75,675.82 321.19,675.11 C322.63,674.39 324.08,673.68 325.52,672.97 C326.97,672.27 328.42,671.58 329.86,670.89 C331.31,670.21 332.75,669.53 334.19,668.86 C335.64,668.20 337.08,667.54 338.53,666.89 C339.97,666.24 341.42,665.60 342.87,664.97 C344.31,664.34 345.75,663.72 347.20,663.10 C348.64,662.49 350.09,661.89 351.53,661.30 C352.98,660.71 354.43,660.13 355.87,659.57 C357.31,659.00 358.76,658.44 360.20,657.90 C361.65,657.35 363.09,656.82 364.54,656.30 C365.98,655.78 367.43,655.28 368.88,654.78 C370.32,654.29 371.76,653.81 373.21,653.35 C374.65,652.89 376.10,652.44 377.54,652.01 C378.99,651.58 380.44,651.17 381.88,650.77 C383.32,650.38 384.77,650.00 386.21,649.66 C387.66,649.31 389.10,648.97 390.55,648.68 C391.99,648.38 393.44,648.10 394.88,647.88 C396.33,647.67 397.78,647.46 399.22,647.40 C400.67,647.34 402.11,647.48 403.55,647.52 C405.00,647.57 406.44,647.61 407.89,647.65 C409.33,647.69 410.78,647.73 412.22,647.77 C413.67,647.82 415.11,647.86 416.56,647.90 C418.00,647.94 419.45,647.98 420.89,648.02 C422.34,648.07 423.78,648.11 425.23,648.15 C426.67,648.19 428.12,648.23 429.56,648.27 C431.01,648.32 433.18,648.38 433.90,648.40" stroke="#bdbdbd" stroke-width="0.6" fill="none" stroke-linejoin="round"/>
<path d="M260.50,592.22 C261.22,593.85 263.39,598.79 264.83,602.02 C266.28,605.25 267.73,608.50 269.17,611.62 C270.62,614.74 272.06,617.80 273.50,620.74 C274.95,623.68 276.39,626.52 277.84,629.23 C279.28,631.94 280.73,634.54 282.18,637.01 C283.62,639.49 285.06,641.83 286.51,644.06 C287.95,646.29 289.40,648.39 290.84,650.38 C292.29,652.36 293.74,654.23 295.18,655.98 C296.62,657.74 298.07,659.38 299.51,660.93 C300.96,662.47 302.41,663.90 303.85,665.25 C305.30,666.60 306.74,667.85 308.19,669.02 C309.63,670.19 311.07,671.26 312.52,672.27 C313.96,673.28 315.41,674.21 316.86,675.07 C318.30,675.94 319.75,676.73 321.19,677.47 C322.63,678.21 324.08,678.88 325.52,679.51 C326.97,680.14 328.42,680.72 329.86,681.25 C331.31,681.78 332.75,682.27 334.19,682.72 C335.64,683.17 337.08,683.57 338.53,683.95 C339.97,684.33 341.42,684.67 342.87,684.99 C344.31,685.31 345.75,685.59 347.20,685.85 C348.64,686.12 350.09,686.36 351.53,686.58 C352.98,686.80 354.43,687.00 355.87,687.18 C357.31,687.36 358.76,687.52 360.20,687.68 C361.65,687.83 363.09,687.96 364.54,688.09 C365.98,688.21 367.43,688.32 368.88,688.42 C370.32,688.53 371.76,688.62 373.21,688.70 C374.65,688.79 376.10,688.86 377.54,688.93 C378.99,689.00 380.44,689.06 381.88,689.12 C383.32,689.17 384.77,689.22 386.21,689.27 C387.66,689.31 389.10,689.35 390.55,689.39 C391.99,689.43 393.44,689.46 394.88,689.49 C396.33,689.52 397.78,689.55 399.22,689.57 C400.67,689.60 402.11,689.62 403.55,689.64 C405.00,689.66 406.44,689.68 407.89,689.69 C409.33,689.71 410.78,689.72 412.22,689.73 C413.67,689.75 415.11,689.76 416.56,689.77 C418.00,689.78 419.45,689.79 420.89,689.79 C422.34,689.80 423.78,689.81 425.23,689.82 C426.67,689.82 428.12,689.83 429.56,689.83 C431.01,689.84 433.18,689.85 433.90,689.85" stroke="#2e2e2e" stroke-width="0.65" fill="none" stroke-linejoin="round"/>
<path d="M260.50,588.77 C261.22,589.48 263.39,591.05 264.83,593.03 C266.28,595.02 267.73,598.05 269.17,600.69 C270.62,603.32 272.06,606.13 273.50,608.84 C274.95,611.55 276.39,614.30 277.84,616.95 C279.28,619.59 280.73,622.22 282.18,624.73 C283.62,627.25 285.06,629.70 286.51,632.03 C287.95,634.37 289.40,636.63 290.84,638.77 C292.29,640.91 293.74,642.95 295.18,644.89 C296.62,646.83 298.07,648.66 299.51,650.40 C300.96,652.14 302.41,653.77 303.85,655.31 C305.30,656.85 306.74,658.29 308.19,659.65 C309.63,661.01 311.07,662.27 312.52,663.46 C313.96,664.65 315.41,665.75 316.86,666.78 C318.30,667.81 319.75,668.77 321.19,669.66 C322.63,670.55 324.08,671.37 325.52,672.14 C326.97,672.91 328.42,673.61 329.86,674.27 C331.31,674.93 332.75,675.53 334.19,676.09 C335.64,676.65 337.08,677.16 338.53,677.63 C339.97,678.11 341.42,678.54 342.87,678.94 C344.31,679.35 345.75,679.71 347.20,680.05 C348.64,680.39 350.09,680.69 351.53,680.98 C352.98,681.26 354.43,681.52 355.87,681.75 C357.31,681.99 358.76,682.20 360.20,682.40 C361.65,682.60 363.09,682.78 364.54,682.94 C365.98,683.11 367.43,683.25 368.88,683.39 C370.32,683.52 371.76,683.65 373.21,683.76 C374.65,683.87 376.10,683.97 377.54,684.06 C378.99,684.16 380.44,684.24 381.88,684.31 C383.32,684.39 384.77,684.46 386.21,684.52 C387.66,684.58 389.10,684.64 390.55,684.69 C391.99,684.74 393.44,684.78 394.88,684.83 C396.33,684.87 397.78,684.90 399.22,684.94 C400.67,684.97 402.11,685.00 403.55,685.03 C405.00,685.06 406.44,685.08 407.89,685.10 C409.33,685.12 410.78,685.14 412.22,685.16 C413.67,685.18 415.11,685.19 416.56,685.21 C418.00,685.22 419.45,685.24 420.89,685.25 C422.34,685.26 423.78,685.27 425.23,685.28 C426.67,685.29 428.12,685.30 429.56,685.30 C431.01,685.31 433.18,685.32 433.90,685.32" stroke="#2e2e2e" stroke-width="0.65" fill="none" stroke-linejoin="round"/>
<path d="M260.50,608.40 C261.22,608.31 263.39,608.00 264.83,607.86 C266.28,607.72 267.73,607.63 269.17,607.57 C270.62,607.52 272.06,607.19 273.50,607.54 C274.95,607.90 276.39,608.31 277.84,609.69 C279.28,611.08 280.73,613.69 282.18,615.86 C283.62,618.03 285.06,620.43 286.51,622.73 C287.95,625.03 289.40,627.38 290.84,629.65 C292.29,631.92 293.74,634.17 295.18,636.34 C296.62,638.51 298.07,640.62 299.51,642.65 C300.96,644.67 302.41,646.62 303.85,648.48 C305.30,650.35 306.74,652.12 308.19,653.81 C309.63,655.50 311.07,657.10 312.52,658.61 C313.96,660.13 315.41,661.55 316.86,662.90 C318.30,664.25 319.75,665.51 321.19,666.70 C322.63,667.89 324.08,668.99 325.52,670.04 C326.97,671.08 328.42,672.04 329.86,672.95 C331.31,673.86 332.75,674.70 334.19,675.48 C335.64,676.27 337.08,676.99 338.53,677.67 C339.97,678.34 341.42,678.96 342.87,679.54 C344.31,680.12 345.75,680.65 347.20,681.15 C348.64,681.64 350.09,682.09 351.53,682.51 C352.98,682.93 354.43,683.31 355.87,683.67 C357.31,684.02 358.76,684.35 360.20,684.65 C361.65,684.95 363.09,685.22 364.54,685.47 C365.98,685.72 367.43,685.95 368.88,686.16 C370.32,686.37 371.76,686.56 373.21,686.73 C374.65,686.91 376.10,687.06 377.54,687.21 C378.99,687.36 380.44,687.49 381.88,687.61 C383.32,687.73 384.77,687.84 386.21,687.94 C387.66,688.04 389.10,688.13 390.55,688.21 C391.99,688.29 393.44,688.36 394.88,688.43 C396.33,688.50 397.78,688.56 399.22,688.61 C400.67,688.67 402.11,688.72 403.55,688.76 C405.00,688.81 406.44,688.85 407.89,688.89 C409.33,688.92 410.78,688.96 412.22,688.99 C413.67,689.02 415.11,689.04 416.56,689.07 C418.00,689.09 419.45,689.11 420.89,689.13 C422.34,689.15 423.78,689.17 425.23,689.19 C426.67,689.20 428.12,689.22 429.56,689.23 C431.01,689.24 433.18,689.26 433.90,689.26" stroke="#2e2e2e" stroke-width="0.65" fill="none" stroke-linejoin="round"/>
<path d="M260.50,622.05 C261.22,621.93 263.39,621.55 264.83,621.30 C266.28,621.05 267.73,620.80 269.17,620.55 C270.62,620.30 272.06,620.03 273.50,619.81 C274.95,619.58 276.39,619.37 277.84,619.21 C279.28,619.06 280.73,618.96 282.18,618.90 C283.62,618.84 285.06,618.52 286.51,618.87 C287.95,619.21 289.40,619.78 290.84,620.95 C292.29,622.12 293.74,624.16 295.18,625.88 C296.62,627.59 298.07,629.47 299.51,631.26 C300.96,633.06 302.41,634.88 303.85,636.64 C305.30,638.40 306.74,640.15 308.19,641.82 C309.63,643.49 311.07,645.13 312.52,646.69 C313.96,648.24 315.41,649.75 316.86,651.18 C318.30,652.61 319.75,653.97 321.19,655.26 C322.63,656.56 324.08,657.78 325.52,658.94 C326.97,660.11 328.42,661.20 329.86,662.23 C331.31,663.26 332.75,664.22 334.19,665.13 C335.64,666.04 337.08,666.88 338.53,667.68 C339.97,668.48 341.42,669.21 342.87,669.90 C344.31,670.60 345.75,671.23 347.20,671.83 C348.64,672.43 350.09,672.98 351.53,673.50 C352.98,674.01 354.43,674.48 355.87,674.92 C357.31,675.37 358.76,675.77 360.20,676.14 C361.65,676.52 363.09,676.86 364.54,677.18 C365.98,677.50 367.43,677.79 368.88,678.06 C370.32,678.33 371.76,678.57 373.21,678.80 C374.65,679.03 376.10,679.23 377.54,679.42 C378.99,679.62 380.44,679.79 381.88,679.95 C383.32,680.11 384.77,680.25 386.21,680.38 C387.66,680.52 389.10,680.63 390.55,680.75 C391.99,680.86 393.44,680.95 394.88,681.05 C396.33,681.14 397.78,681.22 399.22,681.29 C400.67,681.37 402.11,681.44 403.55,681.50 C405.00,681.56 406.44,681.62 407.89,681.67 C409.33,681.72 410.78,681.77 412.22,681.81 C413.67,681.85 415.11,681.89 416.56,681.92 C418.00,681.95 419.45,681.99 420.89,682.01 C422.34,682.04 423.78,682.07 425.23,682.09 C426.67,682.11 428.12,682.13 429.56,682.15 C431.01,682.17 433.18,682.19 433.90,682.20" stroke="#2e2e2e" stroke-width="0.65" fill="none" stroke-linejoin="round"/>
<path d="M260.50,633.40 C261.22,633.25 263.39,632.81 264.83,632.52 C266.28,632.23 267.73,631.94 269.17,631.64 C270.62,631.35 272.06,631.06 273.50,630.76 C274.95,630.47 276.39,630.18 277.84,629.89 C279.28,629.59 280.73,629.30 282.18,629.01 C283.62,628.72 285.06,628.39 286.51,628.13 C287.95,627.87 289.40,627.61 290.84,627.43 C292.29,627.25 293.74,627.11 295.18,627.05 C296.62,626.98 298.07,626.60 299.51,627.04 C300.96,627.49 302.41,628.45 303.85,629.70 C305.30,630.96 306.74,632.92 308.19,634.59 C309.63,636.26 311.07,638.03 312.52,639.74 C313.96,641.45 315.41,643.17 316.86,644.83 C318.30,646.50 319.75,648.14 321.19,649.71 C322.63,651.29 324.08,652.82 325.52,654.28 C326.97,655.74 328.42,657.14 329.86,658.48 C331.31,659.81 332.75,661.09 334.19,662.29 C335.64,663.50 337.08,664.64 338.53,665.72 C339.97,666.80 341.42,667.81 342.87,668.77 C344.31,669.73 345.75,670.62 347.20,671.47 C348.64,672.31 350.09,673.09 351.53,673.83 C352.98,674.57 354.43,675.25 355.87,675.89 C357.31,676.53 358.76,677.12 360.20,677.67 C361.65,678.23 363.09,678.74 364.54,679.21 C365.98,679.69 367.43,680.12 368.88,680.53 C370.32,680.94 371.76,681.31 373.21,681.65 C374.65,682.00 376.10,682.32 377.54,682.61 C378.99,682.90 380.44,683.17 381.88,683.42 C383.32,683.67 384.77,683.89 386.21,684.10 C387.66,684.31 389.10,684.50 390.55,684.67 C391.99,684.85 393.44,685.01 394.88,685.15 C396.33,685.30 397.78,685.43 399.22,685.55 C400.67,685.68 402.11,685.78 403.55,685.89 C405.00,685.99 406.44,686.08 407.89,686.16 C409.33,686.25 410.78,686.32 412.22,686.39 C413.67,686.46 415.11,686.52 416.56,686.58 C418.00,686.63 419.45,686.69 420.89,686.73 C422.34,686.78 423.78,686.82 425.23,686.86 C426.67,686.90 428.12,686.93 429.56,686.96 C431.01,686.99 433.18,687.03 433.90,687.05" stroke="#2e2e2e" stroke-width="0.65" fill="none" stroke-linejoin="round"/>
<path d="M260.50,640.40 C261.22,640.26 263.39,639.85 264.83,639.58 C266.28,639.31 267.73,639.04 269.17,638.76 C270.62,638.49 272.06,638.22 273.50,637.94 C274.95,637.67 276.39,637.40 277.84,637.13 C279.28,636.85 280.73,636.58 282.18,636.31 C283.62,636.03 285.06,635.76 286.51,635.49 C287.95,635.22 289.40,634.94 290.84,634.67 C292.29,634.40 293.74,634.11 295.18,633.85 C296.62,633.59 298.07,633.32 299.51,633.13 C300.96,632.93 302.41,632.79 303.85,632.69 C305.30,632.60 306.74,632.42 308.19,632.56 C309.63,632.70 311.07,632.84 312.52,633.54 C313.96,634.25 315.41,635.59 316.86,636.80 C318.30,638.00 319.75,639.44 321.19,640.78 C322.63,642.11 324.08,643.47 325.52,644.78 C326.97,646.10 328.42,647.41 329.86,648.66 C331.31,649.92 332.75,651.14 334.19,652.32 C335.64,653.49 337.08,654.62 338.53,655.70 C339.97,656.77 341.42,657.80 342.87,658.78 C344.31,659.76 345.75,660.69 347.20,661.56 C348.64,662.44 350.09,663.27 351.53,664.05 C352.98,664.83 354.43,665.56 355.87,666.25 C357.31,666.94 358.76,667.58 360.20,668.18 C361.65,668.79 363.09,669.34 364.54,669.87 C365.98,670.40 367.43,670.88 368.88,671.34 C370.32,671.79 371.76,672.21 373.21,672.60 C374.65,672.99 376.10,673.35 377.54,673.69 C378.99,674.03 380.44,674.33 381.88,674.62 C383.32,674.91 384.77,675.17 386.21,675.41 C387.66,675.65 389.10,675.87 390.55,676.08 C391.99,676.29 393.44,676.47 394.88,676.65 C396.33,676.82 397.78,676.98 399.22,677.12 C400.67,677.27 402.11,677.40 403.55,677.52 C405.00,677.64 406.44,677.75 407.89,677.85 C409.33,677.96 410.78,678.05 412.22,678.13 C413.67,678.22 415.11,678.29 416.56,678.36 C418.00,678.43 419.45,678.49 420.89,678.55 C422.34,678.61 423.78,678.66 425.23,678.71 C426.67,678.76 428.12,678.80 429.56,678.84 C431.01,678.88 433.18,678.93 433.90,678.94" stroke="#2e2e2e" stroke-width="0.65" fill="none" stroke-linejoin="round"/>
<path d="M260.50,647.10 C261.22,646.98 263.39,646.60 264.83,646.36 C266.28,646.11 267.73,645.86 269.17,645.61 C270.62,645.36 272.06,645.12 273.50,644.87 C274.95,644.62 276.39,644.37 277.84,644.12 C279.28,643.88 280.73,643.63 282.18,643.38 C283.62,643.13 285.06,642.88 286.51,642.63 C287.95,642.39 289.40,642.14 290.84,641.89 C292.29,641.64 293.74,641.39 295.18,641.15 C296.62,640.90 298.07,640.65 299.51,640.40 C300.96,640.15 302.41,639.90 303.85,639.66 C305.30,639.41 306.74,639.14 308.19,638.93 C309.63,638.72 311.07,638.53 312.52,638.41 C313.96,638.28 315.41,638.19 316.86,638.17 C318.30,638.14 319.75,637.92 321.19,638.25 C322.63,638.59 324.08,639.24 325.52,640.18 C326.97,641.12 328.42,642.60 329.86,643.88 C331.31,645.16 332.75,646.53 334.19,647.85 C335.64,649.16 337.08,650.49 338.53,651.77 C339.97,653.05 341.42,654.31 342.87,655.52 C344.31,656.73 345.75,657.90 347.20,659.02 C348.64,660.14 350.09,661.22 351.53,662.25 C352.98,663.27 354.43,664.25 355.87,665.17 C357.31,666.10 358.76,666.97 360.20,667.80 C361.65,668.63 363.09,669.41 364.54,670.14 C365.98,670.87 367.43,671.56 368.88,672.21 C370.32,672.85 371.76,673.45 373.21,674.02 C374.65,674.58 376.10,675.10 377.54,675.59 C378.99,676.08 380.44,676.54 381.88,676.96 C383.32,677.38 384.77,677.77 386.21,678.14 C387.66,678.50 389.10,678.83 390.55,679.15 C391.99,679.46 393.44,679.74 394.88,680.01 C396.33,680.27 397.78,680.51 399.22,680.74 C400.67,680.96 402.11,681.17 403.55,681.36 C405.00,681.55 406.44,681.72 407.89,681.88 C409.33,682.04 410.78,682.18 412.22,682.32 C413.67,682.45 415.11,682.57 416.56,682.68 C418.00,682.79 419.45,682.90 420.89,682.99 C422.34,683.08 423.78,683.17 425.23,683.24 C426.67,683.32 428.12,683.39 429.56,683.45 C431.01,683.52 433.18,683.60 433.90,683.63" stroke="#2e2e2e" stroke-width="0.65" fill="none" stroke-linejoin="round"/>
<path d="M260.50,651.40 C261.22,651.30 263.39,650.98 264.83,650.77 C266.28,650.57 267.73,650.36 269.17,650.15 C270.62,649.94 272.06,649.73 273.50,649.52 C274.95,649.32 276.39,649.11 277.84,648.90 C279.28,648.69 280.73,648.48 282.18,648.27 C283.62,648.07 285.06,647.86 286.51,647.65 C287.95,647.44 289.40,647.23 290.84,647.02 C292.29,646.82 293.74,646.61 295.18,646.40 C296.62,646.19 298.07,645.98 299.51,645.77 C300.96,645.57 302.41,645.36 303.85,645.15 C305.30,644.94 306.74,644.73 308.19,644.52 C309.63,644.32 311.07,644.11 312.52,643.90 C313.96,643.69 315.41,643.48 316.86,643.27 C318.30,643.07 319.75,642.85 321.19,642.69 C322.63,642.53 324.08,642.41 325.52,642.33 C326.97,642.24 328.42,642.20 329.86,642.20 C331.31,642.21 332.75,642.10 334.19,642.35 C335.64,642.60 337.08,643.02 338.53,643.68 C339.97,644.34 341.42,645.37 342.87,646.30 C344.31,647.23 345.75,648.28 347.20,649.26 C348.64,650.24 350.09,651.23 351.53,652.18 C352.98,653.13 354.43,654.07 355.87,654.97 C357.31,655.87 358.76,656.74 360.20,657.57 C361.65,658.41 363.09,659.21 364.54,659.97 C365.98,660.73 367.43,661.46 368.88,662.14 C370.32,662.83 371.76,663.48 373.21,664.09 C374.65,664.71 376.10,665.29 377.54,665.83 C378.99,666.38 380.44,666.88 381.88,667.36 C383.32,667.84 384.77,668.29 386.21,668.71 C387.66,669.12 389.10,669.51 390.55,669.88 C391.99,670.24 393.44,670.57 394.88,670.89 C396.33,671.20 397.78,671.49 399.22,671.76 C400.67,672.03 402.11,672.28 403.55,672.51 C405.00,672.74 406.44,672.95 407.89,673.15 C409.33,673.34 410.78,673.52 412.22,673.69 C413.67,673.86 415.11,674.01 416.56,674.15 C418.00,674.29 419.45,674.41 420.89,674.53 C422.34,674.65 423.78,674.76 425.23,674.86 C426.67,674.96 428.12,675.05 429.56,675.13 C431.01,675.21 433.18,675.32 433.90,675.36" stroke="#2e2e2e" stroke-width="0.65" fill="none" stroke-linejoin="round"/>
<path d="M260.50,654.40 C261.22,654.32 263.39,654.07 264.83,653.90 C266.28,653.73 267.73,653.57 269.17,653.40 C270.62,653.23 272.06,653.07 273.50,652.90 C274.95,652.73 276.39,652.57 277.84,652.40 C279.28,652.23 280.73,652.07 282.18,651.90 C283.62,651.73 285.06,651.57 286.51,651.40 C287.95,651.23 289.40,651.07 290.84,650.90 C292.29,650.73 293.74,650.57 295.18,650.40 C296.62,650.23 298.07,650.07 299.51,649.90 C300.96,649.73 302.41,649.57 303.85,649.40 C305.30,649.23 306.74,649.07 308.19,648.90 C309.63,648.73 311.07,648.57 312.52,648.40 C313.96,648.23 315.41,648.07 316.86,647.90 C318.30,647.73 319.75,647.57 321.19,647.40 C322.63,647.23 324.08,647.07 325.52,646.90 C326.97,646.73 328.42,646.56 329.86,646.40 C331.31,646.24 332.75,646.06 334.19,645.95 C335.64,645.83 337.08,645.74 338.53,645.68 C339.97,645.63 341.42,645.61 342.87,645.63 C344.31,645.64 345.75,645.56 347.20,645.77 C348.64,645.99 350.09,646.29 351.53,646.90 C352.98,647.51 354.43,648.49 355.87,649.42 C357.31,650.35 358.76,651.47 360.20,652.49 C361.65,653.52 363.09,654.55 364.54,655.55 C365.98,656.56 367.43,657.55 368.88,658.49 C370.32,659.44 371.76,660.37 373.21,661.25 C374.65,662.14 376.10,662.98 377.54,663.79 C378.99,664.60 380.44,665.37 381.88,666.11 C383.32,666.84 384.77,667.53 386.21,668.19 C387.66,668.84 389.10,669.46 390.55,670.04 C391.99,670.62 393.44,671.17 394.88,671.68 C396.33,672.19 397.78,672.67 399.22,673.12 C400.67,673.56 402.11,673.98 403.55,674.37 C405.00,674.76 406.44,675.12 407.89,675.46 C409.33,675.79 410.78,676.10 412.22,676.39 C413.67,676.68 415.11,676.95 416.56,677.20 C418.00,677.45 419.45,677.67 420.89,677.88 C422.34,678.10 423.78,678.29 425.23,678.47 C426.67,678.65 428.12,678.81 429.56,678.96 C431.01,679.11 433.18,679.31 433.90,679.38" stroke="#2e2e2e" stroke-width="0.65" fill="none" stroke-linejoin="round"/>
<path d="M260.50,656.90 C261.22,656.83 263.39,656.63 264.83,656.49 C266.28,656.35 267.73,656.22 269.17,656.08 C270.62,655.94 272.06,655.81 273.50,655.67 C274.95,655.54 276.39,655.40 277.84,655.26 C279.28,655.13 280.73,654.99 282.18,654.85 C283.62,654.72 285.06,654.58 286.51,654.44 C287.95,654.31 289.40,654.17 290.84,654.03 C292.29,653.90 293.74,653.76 295.18,653.62 C296.62,653.49 298.07,653.35 299.51,653.21 C300.96,653.08 302.41,652.94 303.85,652.81 C305.30,652.67 306.74,652.53 308.19,652.40 C309.63,652.26 311.07,652.12 312.52,651.99 C313.96,651.85 315.41,651.71 316.86,651.58 C318.30,651.44 319.75,651.30 321.19,651.17 C322.63,651.03 324.08,650.89 325.52,650.76 C326.97,650.62 328.42,650.48 329.86,650.35 C331.31,650.21 332.75,650.08 334.19,649.94 C335.64,649.80 337.08,649.67 338.53,649.53 C339.97,649.39 341.42,649.25 342.87,649.12 C344.31,648.99 345.75,648.85 347.20,648.75 C348.64,648.66 350.09,648.60 351.53,648.56 C352.98,648.53 354.43,648.52 355.87,648.55 C357.31,648.58 358.76,648.60 360.20,648.72 C361.65,648.84 363.09,648.96 364.54,649.30 C365.98,649.63 367.43,650.14 368.88,650.73 C370.32,651.32 371.76,652.13 373.21,652.85 C374.65,653.58 376.10,654.36 377.54,655.10 C378.99,655.83 380.44,656.56 381.88,657.27 C383.32,657.97 384.77,658.65 386.21,659.31 C387.66,659.96 389.10,660.59 390.55,661.19 C391.99,661.80 393.44,662.37 394.88,662.92 C396.33,663.46 397.78,663.98 399.22,664.47 C400.67,664.96 402.11,665.42 403.55,665.85 C405.00,666.29 406.44,666.69 407.89,667.08 C409.33,667.46 410.78,667.82 412.22,668.16 C413.67,668.49 415.11,668.80 416.56,669.10 C418.00,669.39 419.45,669.66 420.89,669.91 C422.34,670.17 423.78,670.40 425.23,670.62 C426.67,670.84 428.12,671.04 429.56,671.22 C431.01,671.41 433.18,671.65 433.90,671.74" stroke="#2e2e2e" stroke-width="0.65" fill="none" stroke-linejoin="round"/>
<path d="M260.50,658.90 C261.22,658.84 263.39,658.68 264.83,658.56 C266.28,658.45 267.73,658.34 269.17,658.23 C270.62,658.12 272.06,658.00 273.50,657.89 C274.95,657.78 276.39,657.67 277.84,657.56 C279.28,657.44 280.73,657.33 282.18,657.22 C283.62,657.11 285.06,657.00 286.51,656.89 C287.95,656.77 289.40,656.66 290.84,656.55 C292.29,656.44 293.74,656.33 295.18,656.21 C296.62,656.10 298.07,655.99 299.51,655.88 C300.96,655.77 302.41,655.65 303.85,655.54 C305.30,655.43 306.74,655.32 308.19,655.21 C309.63,655.09 311.07,654.98 312.52,654.87 C313.96,654.76 315.41,654.65 316.86,654.53 C318.30,654.42 319.75,654.31 321.19,654.20 C322.63,654.09 324.08,653.97 325.52,653.86 C326.97,653.75 328.42,653.64 329.86,653.53 C331.31,653.41 332.75,653.30 334.19,653.19 C335.64,653.08 337.08,652.97 338.53,652.86 C339.97,652.74 341.42,652.63 342.87,652.52 C344.31,652.41 345.75,652.30 347.20,652.18 C348.64,652.07 350.09,651.96 351.53,651.85 C352.98,651.74 354.43,651.62 355.87,651.51 C357.31,651.40 358.76,651.27 360.20,651.18 C361.65,651.10 363.09,651.02 364.54,650.98 C365.98,650.94 367.43,650.93 368.88,650.94 C370.32,650.95 371.76,650.99 373.21,651.06 C374.65,651.13 376.10,651.13 377.54,651.35 C378.99,651.57 380.44,651.90 381.88,652.38 C383.32,652.86 384.77,653.54 386.21,654.24 C387.66,654.95 389.10,655.82 390.55,656.61 C391.99,657.40 393.44,658.19 394.88,658.95 C396.33,659.72 397.78,660.47 399.22,661.19 C400.67,661.92 402.11,662.62 403.55,663.29 C405.00,663.96 406.44,664.60 407.89,665.21 C409.33,665.82 410.78,666.40 412.22,666.95 C413.67,667.51 415.11,668.03 416.56,668.52 C418.00,669.01 419.45,669.48 420.89,669.91 C422.34,670.35 423.78,670.76 425.23,671.15 C426.67,671.53 428.12,671.89 429.56,672.22 C431.01,672.56 433.18,673.01 433.90,673.16" stroke="#2e2e2e" stroke-width="0.65" fill="none" stroke-linejoin="round"/>
<path d="M260.50,660.40 C261.22,660.35 263.39,660.20 264.83,660.10 C266.28,660.01 267.73,659.91 269.17,659.81 C270.62,659.71 272.06,659.61 273.50,659.51 C274.95,659.41 276.39,659.31 277.84,659.22 C279.28,659.12 280.73,659.02 282.18,658.92 C283.62,658.82 285.06,658.72 286.51,658.62 C287.95,658.52 289.40,658.43 290.84,658.33 C292.29,658.23 293.74,658.13 295.18,658.03 C296.62,657.93 298.07,657.83 299.51,657.74 C300.96,657.64 302.41,657.54 303.85,657.44 C305.30,657.34 306.74,657.24 308.19,657.14 C309.63,657.04 311.07,656.95 312.52,656.85 C313.96,656.75 315.41,656.65 316.86,656.55 C318.30,656.45 319.75,656.35 321.19,656.26 C322.63,656.16 324.08,656.06 325.52,655.96 C326.97,655.86 328.42,655.76 329.86,655.66 C331.31,655.56 332.75,655.47 334.19,655.37 C335.64,655.27 337.08,655.17 338.53,655.07 C339.97,654.97 341.42,654.87 342.87,654.77 C344.31,654.68 345.75,654.58 347.20,654.48 C348.64,654.38 350.09,654.28 351.53,654.18 C352.98,654.08 354.43,653.99 355.87,653.89 C357.31,653.79 358.76,653.69 360.20,653.59 C361.65,653.49 363.09,653.39 364.54,653.29 C365.98,653.20 367.43,653.10 368.88,653.00 C370.32,652.90 371.76,652.79 373.21,652.70 C374.65,652.61 376.10,652.52 377.54,652.46 C378.99,652.41 380.44,652.37 381.88,652.37 C383.32,652.37 384.77,652.39 386.21,652.43 C387.66,652.48 389.10,652.54 390.55,652.65 C391.99,652.75 393.44,652.82 394.88,653.05 C396.33,653.28 397.78,653.61 399.22,654.02 C400.67,654.43 402.11,654.95 403.55,655.50 C405.00,656.05 406.44,656.71 407.89,657.31 C409.33,657.91 410.78,658.51 412.22,659.09 C413.67,659.67 415.11,660.24 416.56,660.78 C418.00,661.32 419.45,661.84 420.89,662.34 C422.34,662.84 423.78,663.32 425.23,663.77 C426.67,664.23 428.12,664.66 429.56,665.06 C431.01,665.47 433.18,666.03 433.90,666.22" stroke="#2e2e2e" stroke-width="0.65" fill="none" stroke-linejoin="round"/>
<path d="M260.50,661.90 C261.22,661.85 263.39,661.72 264.83,661.62 C266.28,661.53 267.73,661.44 269.17,661.35 C270.62,661.26 272.06,661.16 273.50,661.07 C274.95,660.98 276.39,660.89 277.84,660.80 C279.28,660.70 280.73,660.61 282.18,660.52 C283.62,660.43 285.06,660.34 286.51,660.24 C287.95,660.15 289.40,660.06 290.84,659.97 C292.29,659.87 293.74,659.78 295.18,659.69 C296.62,659.60 298.07,659.51 299.51,659.41 C300.96,659.32 302.41,659.23 303.85,659.14 C305.30,659.05 306.74,658.95 308.19,658.86 C309.63,658.77 311.07,658.68 312.52,658.59 C313.96,658.49 315.41,658.40 316.86,658.31 C318.30,658.22 319.75,658.13 321.19,658.03 C322.63,657.94 324.08,657.85 325.52,657.76 C326.97,657.67 328.42,657.57 329.86,657.48 C331.31,657.39 332.75,657.30 334.19,657.21 C335.64,657.11 337.08,657.02 338.53,656.93 C339.97,656.84 341.42,656.74 342.87,656.65 C344.31,656.56 345.75,656.47 347.20,656.38 C348.64,656.28 350.09,656.19 351.53,656.10 C352.98,656.01 354.43,655.92 355.87,655.82 C357.31,655.73 358.76,655.64 360.20,655.55 C361.65,655.46 363.09,655.36 364.54,655.27 C365.98,655.18 367.43,655.09 368.88,655.00 C370.32,654.90 371.76,654.81 373.21,654.72 C374.65,654.63 376.10,654.54 377.54,654.44 C378.99,654.35 380.44,654.26 381.88,654.17 C383.32,654.08 384.77,653.98 386.21,653.89 C387.66,653.80 389.10,653.70 390.55,653.62 C391.99,653.53 393.44,653.45 394.88,653.40 C396.33,653.35 397.78,653.33 399.22,653.33 C400.67,653.33 402.11,653.36 403.55,653.41 C405.00,653.46 406.44,653.54 407.89,653.64 C409.33,653.74 410.78,653.81 412.22,654.00 C413.67,654.19 415.11,654.47 416.56,654.80 C418.00,655.13 419.45,655.54 420.89,655.99 C422.34,656.44 423.78,657.00 425.23,657.50 C426.67,658.01 428.12,658.54 429.56,659.04 C431.01,659.54 433.18,660.26 433.90,660.50" stroke="#2e2e2e" stroke-width="0.65" fill="none" stroke-linejoin="round"/>
<path d="M260.50,623.32 C261.22,624.42 263.39,627.71 264.83,629.91 C266.28,632.11 267.73,634.36 269.17,636.52 C270.62,638.68 272.06,640.82 273.50,642.85 C274.95,644.89 276.39,646.87 277.84,648.75 C279.28,650.63 280.73,652.42 282.18,654.12 C283.62,655.82 285.06,657.43 286.51,658.95 C287.95,660.47 289.40,661.89 290.84,663.23 C292.29,664.57 293.74,665.82 295.18,666.99 C296.62,668.16 298.07,669.24 299.51,670.25 C300.96,671.27 302.41,672.20 303.85,673.07 C305.30,673.94 306.74,674.73 308.19,675.47 C309.63,676.22 311.07,676.89 312.52,677.52 C313.96,678.15 315.41,678.72 316.86,679.25 C318.30,679.78 319.75,680.26 321.19,680.71 C322.63,681.15 324.08,681.55 325.52,681.92 C326.97,682.29 328.42,682.63 329.86,682.93 C331.31,683.24 332.75,683.52 334.19,683.77 C335.64,684.03 337.08,684.25 338.53,684.46 C339.97,684.67 341.42,684.86 342.87,685.03 C344.31,685.20 345.75,685.35 347.20,685.49 C348.64,685.63 350.09,685.75 351.53,685.87 C352.98,685.98 354.43,686.08 355.87,686.18 C357.31,686.27 358.76,686.35 360.20,686.42 C361.65,686.50 363.09,686.56 364.54,686.62 C365.98,686.68 367.43,686.74 368.88,686.78 C370.32,686.83 371.76,686.87 373.21,686.91 C374.65,686.95 376.10,686.98 377.54,687.02 C378.99,687.05 380.44,687.07 381.88,687.10 C383.32,687.12 384.77,687.14 386.21,687.16 C387.66,687.18 389.10,687.20 390.55,687.21 C391.99,687.23 393.44,687.24 394.88,687.25 C396.33,687.27 397.78,687.28 399.22,687.29 C400.67,687.30 402.11,687.30 403.55,687.31 C405.00,687.32 406.44,687.33 407.89,687.33 C409.33,687.34 410.78,687.34 412.22,687.35 C413.67,687.35 415.11,687.36 416.56,687.36 C418.00,687.36 419.45,687.37 420.89,687.37 C422.34,687.37 423.78,687.37 425.23,687.38 C426.67,687.38 428.12,687.38 429.56,687.38 C431.01,687.38 433.18,687.38 433.90,687.39" stroke="#2e2e2e" stroke-width="0.65" fill="none" stroke-linejoin="round"/>
</g>
<path d="M260.50,722.40v-1.7 M260.50,597.40v1.7 M347.20,722.40v-1.7 M347.20,597.40v1.7 M433.90,722.40v-1.7 M433.90,597.40v1.7 M260.50,722.40h1.7 M433.90,722.40h-1.7 M260.50,697.40h1.7 M433.90,697.40h-1.7 M260.50,672.40h1.7 M433.90,672.40h-1.7 M260.50,647.40h1.7 M433.90,647.40h-1.7 M260.50,622.40h1.7 M433.90,622.40h-1.7 M260.50,597.40h1.7 M433.90,597.40h-1.7" stroke="#8a8a8a" stroke-width="0.7" fill="none"/>
<rect x="260.50" y="597.40" width="173.40" height="125.00" stroke="#9c9c9c" stroke-width="0.9" fill="none"/>
<text x="260.50" y="735.30" font-size="10.3" text-anchor="middle" fill="#2c2c2c">0</text>
<text x="347.20" y="735.30" font-size="10.3" text-anchor="middle" fill="#2c2c2c">0.5</text>
<text x="433.90" y="735.30" font-size="10.3" text-anchor="middle" fill="#2c2c2c">1</text>
<text x="257.10" y="725.40" font-size="10.3" text-anchor="end" fill="#2c2c2c">0</text>
<text x="257.10" y="700.40" font-size="10.3" text-anchor="end" fill="#2c2c2c">5</text>
<text x="257.10" y="675.40" font-size="10.3" text-anchor="end" fill="#2c2c2c">10</text>
<text x="257.10" y="650.40" font-size="10.3" text-anchor="end" fill="#2c2c2c">15</text>
<text x="257.10" y="625.40" font-size="10.3" text-anchor="end" fill="#2c2c2c">20</text>
<text x="257.10" y="600.40" font-size="10.3" text-anchor="end" fill="#2c2c2c">25</text>
<text x="241.50" y="660.90" font-size="11.6" text-anchor="middle" textLength="139.50" lengthAdjust="spacingAndGlyphs" transform="rotate(-90 241.50 660.90)" fill="#2c2c2c">Cell 2 anode <tspan font-style="italic">j</tspan>(<tspan font-style="italic">x</tspan>, <tspan font-style="italic">t</tspan>) (A/m<tspan font-size="8" dy="-4.2">2</tspan><tspan dy="4.2">)</tspan></text>
<text x="347.10" y="749.00" font-size="11.6" text-anchor="middle" textLength="195.40" lengthAdjust="spacingAndGlyphs" fill="#2c2c2c">Normalised distance along electrode <tspan font-style="italic">x</tspan></text>
<text x="288.10" y="774.40" font-size="12.9" fill="#050505">(k) Cell 2 <tspan font-style="italic">j(x,t)</tspan>. Case 2.</text>
<path d="M265.70,716.10H284.70 M410.50,716.10H428.90" stroke="#222" stroke-width="0.8" fill="none"/>
<path d="M261.90,716.10 l5,-2.1 l-1.3,2.1 l1.3,2.1z M432.90,716.10 l-5,-2.1 l1.3,2.1 l-1.3,2.1z" fill="#222"/>
<text x="285.30" y="719.00" font-size="9.9" text-anchor="start" textLength="66.90" lengthAdjust="spacingAndGlyphs" fill="#2c2c2c">Current collector</text>
<text x="369.50" y="719.00" font-size="9.9" text-anchor="start" textLength="37.80" lengthAdjust="spacingAndGlyphs" fill="#2c2c2c">Separator</text>
<path d="M576.10,597.40V722.40 M489.80,697.40H662.40 M489.80,672.40H662.40 M489.80,647.40H662.40 M489.80,622.40H662.40" stroke="#e9e9e9" stroke-width="0.75" fill="none"/>
<clipPath id="cp489"><rect x="489.80" y="597.40" width="172.60" height="125.00"/></clipPath>
<g clip-path="url(#cp489)">
<path d="M489.80,637.40 C490.52,637.69 492.68,638.55 494.12,639.12 C495.55,639.68 496.99,640.25 498.43,640.82 C499.87,641.38 501.31,641.94 502.75,642.50 C504.18,643.06 505.62,643.62 507.06,644.17 C508.50,644.72 509.94,645.27 511.38,645.81 C512.81,646.36 514.25,646.90 515.69,647.44 C517.13,647.98 518.57,648.51 520.00,649.04 C521.44,649.57 522.88,650.09 524.32,650.61 C525.76,651.13 527.20,651.65 528.63,652.16 C530.07,652.67 531.51,653.18 532.95,653.68 C534.39,654.18 535.83,654.68 537.26,655.17 C538.70,655.66 540.14,656.14 541.58,656.62 C543.02,657.10 544.46,657.57 545.89,658.04 C547.33,658.50 548.77,658.97 550.21,659.42 C551.65,659.87 553.09,660.32 554.52,660.76 C555.96,661.20 557.40,661.64 558.84,662.07 C560.28,662.49 561.72,662.91 563.15,663.33 C564.59,663.74 566.03,664.15 567.47,664.54 C568.91,664.94 570.35,665.33 571.78,665.72 C573.22,666.10 574.66,666.47 576.10,666.84 C577.54,667.20 578.98,667.56 580.41,667.91 C581.85,668.26 583.29,668.60 584.73,668.93 C586.17,669.26 587.61,669.59 589.04,669.90 C590.48,670.21 591.92,670.52 593.36,670.81 C594.80,671.11 596.24,671.39 597.67,671.67 C599.11,671.95 600.55,672.21 601.99,672.47 C603.43,672.72 604.87,672.97 606.30,673.20 C607.74,673.44 609.18,673.66 610.62,673.88 C612.06,674.09 613.50,674.29 614.93,674.49 C616.37,674.68 617.81,674.86 619.25,675.03 C620.69,675.20 622.13,675.36 623.57,675.50 C625.00,675.65 626.44,675.78 627.88,675.91 C629.32,676.03 630.76,676.14 632.19,676.24 C633.63,676.34 635.07,676.43 636.51,676.50 C637.95,676.57 639.39,676.63 640.83,676.68 C642.26,676.73 643.70,676.77 645.14,676.79 C646.58,676.81 648.02,676.82 649.45,676.81 C650.89,676.81 652.33,676.79 653.77,676.76 C655.21,676.73 656.65,676.68 658.09,676.62 C659.52,676.56 661.68,676.44 662.40,676.40" stroke="#a0a0a0" stroke-width="0.5" fill="none" stroke-linejoin="round"/>
<path d="M489.80,638.40 C490.52,638.68 492.68,639.51 494.12,640.06 C495.55,640.61 496.99,641.16 498.43,641.70 C499.87,642.25 501.31,642.79 502.75,643.33 C504.18,643.87 505.62,644.40 507.06,644.94 C508.50,645.47 509.94,646.00 511.38,646.52 C512.81,647.05 514.25,647.57 515.69,648.09 C517.13,648.61 518.57,649.12 520.00,649.63 C521.44,650.14 522.88,650.65 524.32,651.15 C525.76,651.65 527.20,652.15 528.63,652.64 C530.07,653.13 531.51,653.62 532.95,654.10 C534.39,654.58 535.83,655.06 537.26,655.53 C538.70,656.00 540.14,656.47 541.58,656.93 C543.02,657.39 544.46,657.84 545.89,658.29 C547.33,658.74 548.77,659.18 550.21,659.62 C551.65,660.05 553.09,660.48 554.52,660.91 C555.96,661.33 557.40,661.75 558.84,662.16 C560.28,662.57 561.72,662.97 563.15,663.37 C564.59,663.76 566.03,664.15 567.47,664.53 C568.91,664.92 570.35,665.29 571.78,665.66 C573.22,666.02 574.66,666.38 576.10,666.73 C577.54,667.08 578.98,667.43 580.41,667.76 C581.85,668.10 583.29,668.42 584.73,668.74 C586.17,669.06 587.61,669.37 589.04,669.67 C590.48,669.97 591.92,670.26 593.36,670.54 C594.80,670.82 596.24,671.09 597.67,671.36 C599.11,671.62 600.55,671.88 601.99,672.12 C603.43,672.36 604.87,672.60 606.30,672.82 C607.74,673.05 609.18,673.26 610.62,673.47 C612.06,673.67 613.50,673.87 614.93,674.05 C616.37,674.23 617.81,674.41 619.25,674.57 C620.69,674.73 622.13,674.88 623.57,675.02 C625.00,675.16 626.44,675.29 627.88,675.41 C629.32,675.52 630.76,675.63 632.19,675.72 C633.63,675.82 635.07,675.90 636.51,675.97 C637.95,676.04 639.39,676.10 640.83,676.14 C642.26,676.19 643.70,676.22 645.14,676.24 C646.58,676.26 648.02,676.27 649.45,676.27 C650.89,676.26 652.33,676.25 653.77,676.21 C655.21,676.18 656.65,676.14 658.09,676.08 C659.52,676.02 661.68,675.90 662.40,675.87" stroke="#979797" stroke-width="0.5" fill="none" stroke-linejoin="round"/>
<path d="M489.80,639.40 C490.52,639.67 492.68,640.47 494.12,641.00 C495.55,641.53 496.99,642.06 498.43,642.59 C499.87,643.11 501.31,643.64 502.75,644.16 C504.18,644.68 505.62,645.19 507.06,645.71 C508.50,646.22 509.94,646.73 511.38,647.23 C512.81,647.74 514.25,648.24 515.69,648.74 C517.13,649.24 518.57,649.74 520.00,650.23 C521.44,650.72 522.88,651.20 524.32,651.68 C525.76,652.17 527.20,652.64 528.63,653.12 C530.07,653.59 531.51,654.06 532.95,654.52 C534.39,654.98 535.83,655.44 537.26,655.89 C538.70,656.34 540.14,656.79 541.58,657.23 C543.02,657.67 544.46,658.11 545.89,658.54 C547.33,658.97 548.77,659.40 550.21,659.81 C551.65,660.23 553.09,660.64 554.52,661.05 C555.96,661.46 557.40,661.86 558.84,662.25 C560.28,662.64 561.72,663.03 563.15,663.41 C564.59,663.79 566.03,664.16 567.47,664.52 C568.91,664.89 570.35,665.25 571.78,665.60 C573.22,665.95 574.66,666.29 576.10,666.63 C577.54,666.96 578.98,667.29 580.41,667.61 C581.85,667.93 583.29,668.24 584.73,668.55 C586.17,668.85 587.61,669.14 589.04,669.43 C590.48,669.72 591.92,670.00 593.36,670.26 C594.80,670.53 596.24,670.80 597.67,671.05 C599.11,671.30 600.55,671.54 601.99,671.77 C603.43,672.01 604.87,672.23 606.30,672.44 C607.74,672.66 609.18,672.86 610.62,673.06 C612.06,673.25 613.50,673.44 614.93,673.61 C616.37,673.79 617.81,673.95 619.25,674.11 C620.69,674.26 622.13,674.40 623.57,674.54 C625.00,674.67 626.44,674.79 627.88,674.90 C629.32,675.02 630.76,675.12 632.19,675.21 C633.63,675.29 635.07,675.37 636.51,675.44 C637.95,675.51 639.39,675.56 640.83,675.60 C642.26,675.65 643.70,675.68 645.14,675.70 C646.58,675.72 648.02,675.73 649.45,675.72 C650.89,675.72 652.33,675.70 653.77,675.67 C655.21,675.64 656.65,675.60 658.09,675.54 C659.52,675.49 661.68,675.37 662.40,675.34" stroke="#8f8f8f" stroke-width="0.5" fill="none" stroke-linejoin="round"/>
<path d="M489.80,640.40 C490.52,640.66 492.68,641.43 494.12,641.94 C495.55,642.46 496.99,642.97 498.43,643.47 C499.87,643.98 501.31,644.48 502.75,644.98 C504.18,645.48 505.62,645.98 507.06,646.47 C508.50,646.97 509.94,647.46 511.38,647.94 C512.81,648.43 514.25,648.91 515.69,649.39 C517.13,649.87 518.57,650.35 520.00,650.82 C521.44,651.29 522.88,651.76 524.32,652.22 C525.76,652.68 527.20,653.14 528.63,653.59 C530.07,654.05 531.51,654.50 532.95,654.94 C534.39,655.38 535.83,655.82 537.26,656.25 C538.70,656.69 540.14,657.12 541.58,657.54 C543.02,657.96 544.46,658.38 545.89,658.79 C547.33,659.20 548.77,659.61 550.21,660.01 C551.65,660.41 553.09,660.81 554.52,661.19 C555.96,661.58 557.40,661.96 558.84,662.34 C560.28,662.71 561.72,663.08 563.15,663.45 C564.59,663.81 566.03,664.16 567.47,664.51 C568.91,664.86 570.35,665.20 571.78,665.54 C573.22,665.87 574.66,666.20 576.10,666.52 C577.54,666.84 578.98,667.15 580.41,667.46 C581.85,667.76 583.29,668.06 584.73,668.35 C586.17,668.64 587.61,668.92 589.04,669.20 C590.48,669.47 591.92,669.73 593.36,669.99 C594.80,670.25 596.24,670.50 597.67,670.73 C599.11,670.97 600.55,671.21 601.99,671.43 C603.43,671.65 604.87,671.86 606.30,672.07 C607.74,672.27 609.18,672.46 610.62,672.65 C612.06,672.83 613.50,673.01 614.93,673.18 C616.37,673.34 617.81,673.50 619.25,673.65 C620.69,673.79 622.13,673.93 623.57,674.05 C625.00,674.18 626.44,674.30 627.88,674.40 C629.32,674.51 630.76,674.60 632.19,674.69 C633.63,674.77 635.07,674.85 636.51,674.91 C637.95,674.97 639.39,675.02 640.83,675.06 C642.26,675.11 643.70,675.14 645.14,675.15 C646.58,675.17 648.02,675.18 649.45,675.17 C650.89,675.17 652.33,675.15 653.77,675.12 C655.21,675.09 656.65,675.05 658.09,675.00 C659.52,674.95 661.68,674.84 662.40,674.81" stroke="#868686" stroke-width="0.5" fill="none" stroke-linejoin="round"/>
<path d="M489.80,641.40 C490.52,641.65 492.68,642.39 494.12,642.89 C495.55,643.38 496.99,643.87 498.43,644.36 C499.87,644.84 501.31,645.33 502.75,645.81 C504.18,646.29 505.62,646.77 507.06,647.24 C508.50,647.72 509.94,648.19 511.38,648.66 C512.81,649.12 514.25,649.59 515.69,650.05 C517.13,650.51 518.57,650.96 520.00,651.41 C521.44,651.86 522.88,652.31 524.32,652.75 C525.76,653.20 527.20,653.64 528.63,654.07 C530.07,654.50 531.51,654.93 532.95,655.36 C534.39,655.78 535.83,656.20 537.26,656.62 C538.70,657.03 540.14,657.44 541.58,657.85 C543.02,658.25 544.46,658.65 545.89,659.04 C547.33,659.44 548.77,659.83 550.21,660.21 C551.65,660.59 553.09,660.97 554.52,661.34 C555.96,661.71 557.40,662.07 558.84,662.43 C560.28,662.79 561.72,663.14 563.15,663.49 C564.59,663.83 566.03,664.17 567.47,664.50 C568.91,664.84 570.35,665.16 571.78,665.48 C573.22,665.80 574.66,666.11 576.10,666.42 C577.54,666.72 578.98,667.02 580.41,667.31 C581.85,667.60 583.29,667.88 584.73,668.16 C586.17,668.43 587.61,668.70 589.04,668.96 C590.48,669.22 591.92,669.47 593.36,669.72 C594.80,669.96 596.24,670.20 597.67,670.42 C599.11,670.65 600.55,670.87 601.99,671.08 C603.43,671.29 604.87,671.49 606.30,671.69 C607.74,671.88 609.18,672.06 610.62,672.24 C612.06,672.42 613.50,672.58 614.93,672.74 C616.37,672.90 617.81,673.05 619.25,673.18 C620.69,673.32 622.13,673.45 623.57,673.57 C625.00,673.69 626.44,673.80 627.88,673.90 C629.32,674.00 630.76,674.09 632.19,674.17 C633.63,674.25 635.07,674.32 636.51,674.38 C637.95,674.44 639.39,674.49 640.83,674.53 C642.26,674.56 643.70,674.59 645.14,674.61 C646.58,674.63 648.02,674.63 649.45,674.63 C650.89,674.62 652.33,674.61 653.77,674.58 C655.21,674.55 656.65,674.51 658.09,674.46 C659.52,674.41 661.68,674.31 662.40,674.27" stroke="#7e7e7e" stroke-width="0.5" fill="none" stroke-linejoin="round"/>
<path d="M489.80,642.40 C490.52,642.64 492.68,643.36 494.12,643.83 C495.55,644.30 496.99,644.77 498.43,645.24 C499.87,645.71 501.31,646.18 502.75,646.64 C504.18,647.10 505.62,647.56 507.06,648.01 C508.50,648.47 509.94,648.92 511.38,649.37 C512.81,649.81 514.25,650.26 515.69,650.70 C517.13,651.14 518.57,651.57 520.00,652.01 C521.44,652.44 522.88,652.87 524.32,653.29 C525.76,653.71 527.20,654.13 528.63,654.55 C530.07,654.96 531.51,655.37 532.95,655.78 C534.39,656.18 535.83,656.59 537.26,656.98 C538.70,657.38 540.14,657.77 541.58,658.15 C543.02,658.54 544.46,658.92 545.89,659.30 C547.33,659.67 548.77,660.04 550.21,660.40 C551.65,660.77 553.09,661.13 554.52,661.48 C555.96,661.83 557.40,662.18 558.84,662.52 C560.28,662.86 561.72,663.20 563.15,663.53 C564.59,663.85 566.03,664.18 567.47,664.49 C568.91,664.81 570.35,665.12 571.78,665.42 C573.22,665.72 574.66,666.02 576.10,666.31 C577.54,666.60 578.98,666.88 580.41,667.16 C581.85,667.43 583.29,667.70 584.73,667.96 C586.17,668.22 587.61,668.48 589.04,668.72 C590.48,668.97 591.92,669.21 593.36,669.44 C594.80,669.67 596.24,669.90 597.67,670.11 C599.11,670.33 600.55,670.53 601.99,670.73 C603.43,670.93 604.87,671.12 606.30,671.31 C607.74,671.49 609.18,671.67 610.62,671.83 C612.06,672.00 613.50,672.15 614.93,672.30 C616.37,672.45 617.81,672.59 619.25,672.72 C620.69,672.85 622.13,672.98 623.57,673.09 C625.00,673.20 626.44,673.30 627.88,673.40 C629.32,673.49 630.76,673.58 632.19,673.65 C633.63,673.73 635.07,673.79 636.51,673.85 C637.95,673.90 639.39,673.95 640.83,673.99 C642.26,674.02 643.70,674.05 645.14,674.06 C646.58,674.08 648.02,674.08 649.45,674.08 C650.89,674.07 652.33,674.06 653.77,674.03 C655.21,674.01 656.65,673.97 658.09,673.92 C659.52,673.87 661.68,673.77 662.40,673.74" stroke="#767676" stroke-width="0.5" fill="none" stroke-linejoin="round"/>
<path d="M489.80,643.40 C490.52,643.63 492.68,644.32 494.12,644.77 C495.55,645.23 496.99,645.68 498.43,646.13 C499.87,646.58 501.31,647.02 502.75,647.46 C504.18,647.91 505.62,648.35 507.06,648.78 C508.50,649.22 509.94,649.65 511.38,650.08 C512.81,650.50 514.25,650.93 515.69,651.35 C517.13,651.77 518.57,652.19 520.00,652.60 C521.44,653.01 522.88,653.42 524.32,653.83 C525.76,654.23 527.20,654.63 528.63,655.03 C530.07,655.42 531.51,655.81 532.95,656.20 C534.39,656.59 535.83,656.97 537.26,657.34 C538.70,657.72 540.14,658.09 541.58,658.46 C543.02,658.83 544.46,659.19 545.89,659.55 C547.33,659.90 548.77,660.26 550.21,660.60 C551.65,660.95 553.09,661.29 554.52,661.62 C555.96,661.96 557.40,662.29 558.84,662.61 C560.28,662.94 561.72,663.25 563.15,663.57 C564.59,663.88 566.03,664.18 567.47,664.48 C568.91,664.78 570.35,665.08 571.78,665.36 C573.22,665.65 574.66,665.93 576.10,666.21 C577.54,666.48 578.98,666.75 580.41,667.01 C581.85,667.27 583.29,667.52 584.73,667.77 C586.17,668.02 587.61,668.26 589.04,668.49 C590.48,668.72 591.92,668.95 593.36,669.17 C594.80,669.38 596.24,669.60 597.67,669.80 C599.11,670.00 600.55,670.20 601.99,670.39 C603.43,670.58 604.87,670.76 606.30,670.93 C607.74,671.10 609.18,671.27 610.62,671.42 C612.06,671.58 613.50,671.73 614.93,671.87 C616.37,672.01 617.81,672.14 619.25,672.26 C620.69,672.38 622.13,672.50 623.57,672.61 C625.00,672.71 626.44,672.81 627.88,672.90 C629.32,672.99 630.76,673.07 632.19,673.14 C633.63,673.21 635.07,673.27 636.51,673.32 C637.95,673.37 639.39,673.41 640.83,673.45 C642.26,673.48 643.70,673.50 645.14,673.52 C646.58,673.53 648.02,673.54 649.45,673.53 C650.89,673.53 652.33,673.51 653.77,673.49 C655.21,673.46 656.65,673.43 658.09,673.38 C659.52,673.33 661.68,673.24 662.40,673.21" stroke="#6d6d6d" stroke-width="0.5" fill="none" stroke-linejoin="round"/>
<path d="M489.80,644.40 C490.52,644.62 492.68,645.28 494.12,645.72 C495.55,646.15 496.99,646.58 498.43,647.01 C499.87,647.44 501.31,647.87 502.75,648.29 C504.18,648.71 505.62,649.13 507.06,649.55 C508.50,649.97 509.94,650.38 511.38,650.79 C512.81,651.20 514.25,651.60 515.69,652.00 C517.13,652.40 518.57,652.80 520.00,653.19 C521.44,653.59 522.88,653.98 524.32,654.36 C525.76,654.75 527.20,655.13 528.63,655.50 C530.07,655.88 531.51,656.25 532.95,656.62 C534.39,656.99 535.83,657.35 537.26,657.71 C538.70,658.07 540.14,658.42 541.58,658.77 C543.02,659.12 544.46,659.46 545.89,659.80 C547.33,660.14 548.77,660.47 550.21,660.80 C551.65,661.13 553.09,661.45 554.52,661.77 C555.96,662.08 557.40,662.40 558.84,662.70 C560.28,663.01 561.72,663.31 563.15,663.60 C564.59,663.90 566.03,664.19 567.47,664.47 C568.91,664.76 570.35,665.03 571.78,665.30 C573.22,665.58 574.66,665.84 576.10,666.10 C577.54,666.36 578.98,666.61 580.41,666.86 C581.85,667.10 583.29,667.34 584.73,667.58 C586.17,667.81 587.61,668.03 589.04,668.25 C590.48,668.47 591.92,668.69 593.36,668.89 C594.80,669.10 596.24,669.30 597.67,669.49 C599.11,669.68 600.55,669.86 601.99,670.04 C603.43,670.22 604.87,670.39 606.30,670.55 C607.74,670.71 609.18,670.87 610.62,671.01 C612.06,671.16 613.50,671.30 614.93,671.43 C616.37,671.56 617.81,671.69 619.25,671.80 C620.69,671.92 622.13,672.02 623.57,672.12 C625.00,672.22 626.44,672.31 627.88,672.40 C629.32,672.48 630.76,672.55 632.19,672.62 C633.63,672.68 635.07,672.74 636.51,672.79 C637.95,672.84 639.39,672.88 640.83,672.91 C642.26,672.94 643.70,672.96 645.14,672.97 C646.58,672.99 648.02,672.99 649.45,672.99 C650.89,672.98 652.33,672.96 653.77,672.94 C655.21,672.92 656.65,672.88 658.09,672.84 C659.52,672.80 661.68,672.71 662.40,672.68" stroke="#656565" stroke-width="0.5" fill="none" stroke-linejoin="round"/>
<path d="M489.80,645.40 C490.52,645.61 492.68,646.24 494.12,646.66 C495.55,647.07 496.99,647.49 498.43,647.90 C499.87,648.31 501.31,648.72 502.75,649.12 C504.18,649.52 505.62,649.92 507.06,650.32 C508.50,650.72 509.94,651.11 511.38,651.50 C512.81,651.89 514.25,652.27 515.69,652.65 C517.13,653.04 518.57,653.41 520.00,653.79 C521.44,654.16 522.88,654.53 524.32,654.90 C525.76,655.26 527.20,655.62 528.63,655.98 C530.07,656.34 531.51,656.69 532.95,657.04 C534.39,657.39 535.83,657.73 537.26,658.07 C538.70,658.41 540.14,658.74 541.58,659.07 C543.02,659.40 544.46,659.73 545.89,660.05 C547.33,660.37 548.77,660.69 550.21,661.00 C551.65,661.31 553.09,661.61 554.52,661.91 C555.96,662.21 557.40,662.50 558.84,662.79 C560.28,663.08 561.72,663.37 563.15,663.64 C564.59,663.92 566.03,664.20 567.47,664.46 C568.91,664.73 570.35,664.99 571.78,665.25 C573.22,665.50 574.66,665.75 576.10,665.99 C577.54,666.24 578.98,666.48 580.41,666.71 C581.85,666.94 583.29,667.16 584.73,667.38 C586.17,667.60 587.61,667.81 589.04,668.02 C590.48,668.22 591.92,668.42 593.36,668.62 C594.80,668.81 596.24,669.00 597.67,669.18 C599.11,669.36 600.55,669.53 601.99,669.69 C603.43,669.86 604.87,670.02 606.30,670.17 C607.74,670.32 609.18,670.47 610.62,670.60 C612.06,670.74 613.50,670.87 614.93,670.99 C616.37,671.12 617.81,671.23 619.25,671.34 C620.69,671.45 622.13,671.55 623.57,671.64 C625.00,671.73 626.44,671.82 627.88,671.89 C629.32,671.97 630.76,672.04 632.19,672.10 C633.63,672.16 635.07,672.21 636.51,672.26 C637.95,672.30 639.39,672.34 640.83,672.37 C642.26,672.40 643.70,672.42 645.14,672.43 C646.58,672.44 648.02,672.44 649.45,672.44 C650.89,672.43 652.33,672.42 653.77,672.40 C655.21,672.37 656.65,672.34 658.09,672.30 C659.52,672.26 661.68,672.17 662.40,672.15" stroke="#5d5d5d" stroke-width="0.5" fill="none" stroke-linejoin="round"/>
<path d="M489.80,646.40 C490.52,646.60 492.68,647.20 494.12,647.60 C495.55,648.00 496.99,648.39 498.43,648.78 C499.87,649.17 501.31,649.56 502.75,649.95 C504.18,650.33 505.62,650.71 507.06,651.09 C508.50,651.46 509.94,651.84 511.38,652.21 C512.81,652.58 514.25,652.94 515.69,653.31 C517.13,653.67 518.57,654.03 520.00,654.38 C521.44,654.74 522.88,655.09 524.32,655.43 C525.76,655.78 527.20,656.12 528.63,656.46 C530.07,656.80 531.51,657.13 532.95,657.46 C534.39,657.79 535.83,658.11 537.26,658.43 C538.70,658.75 540.14,659.07 541.58,659.38 C543.02,659.69 544.46,660.00 545.89,660.30 C547.33,660.60 548.77,660.90 550.21,661.19 C551.65,661.48 553.09,661.77 554.52,662.05 C555.96,662.34 557.40,662.61 558.84,662.88 C560.28,663.16 561.72,663.42 563.15,663.68 C564.59,663.95 566.03,664.20 567.47,664.45 C568.91,664.70 570.35,664.95 571.78,665.19 C573.22,665.43 574.66,665.66 576.10,665.89 C577.54,666.12 578.98,666.34 580.41,666.56 C581.85,666.77 583.29,666.98 584.73,667.19 C586.17,667.39 587.61,667.59 589.04,667.78 C590.48,667.98 591.92,668.16 593.36,668.34 C594.80,668.52 596.24,668.70 597.67,668.86 C599.11,669.03 600.55,669.19 601.99,669.35 C603.43,669.50 604.87,669.65 606.30,669.79 C607.74,669.93 609.18,670.07 610.62,670.19 C612.06,670.32 613.50,670.44 614.93,670.56 C616.37,670.67 617.81,670.78 619.25,670.88 C620.69,670.98 622.13,671.07 623.57,671.16 C625.00,671.24 626.44,671.32 627.88,671.39 C629.32,671.46 630.76,671.53 632.19,671.58 C633.63,671.64 635.07,671.69 636.51,671.73 C637.95,671.77 639.39,671.80 640.83,671.83 C642.26,671.86 643.70,671.87 645.14,671.88 C646.58,671.89 648.02,671.90 649.45,671.89 C650.89,671.89 652.33,671.87 653.77,671.85 C655.21,671.83 656.65,671.80 658.09,671.76 C659.52,671.72 661.68,671.64 662.40,671.62" stroke="#545454" stroke-width="0.5" fill="none" stroke-linejoin="round"/>
<path d="M489.80,647.40 C490.52,647.59 492.68,648.17 494.12,648.54 C495.55,648.92 496.99,649.30 498.43,649.67 C499.87,650.04 501.31,650.41 502.75,650.77 C504.18,651.14 505.62,651.50 507.06,651.86 C508.50,652.21 509.94,652.57 511.38,652.92 C512.81,653.27 514.25,653.62 515.69,653.96 C517.13,654.30 518.57,654.64 520.00,654.97 C521.44,655.31 522.88,655.64 524.32,655.97 C525.76,656.29 527.20,656.62 528.63,656.94 C530.07,657.25 531.51,657.57 532.95,657.88 C534.39,658.19 535.83,658.50 537.26,658.80 C538.70,659.10 540.14,659.40 541.58,659.69 C543.02,659.98 544.46,660.27 545.89,660.55 C547.33,660.84 548.77,661.11 550.21,661.39 C551.65,661.66 553.09,661.93 554.52,662.20 C555.96,662.46 557.40,662.72 558.84,662.98 C560.28,663.23 561.72,663.48 563.15,663.72 C564.59,663.97 566.03,664.21 567.47,664.44 C568.91,664.68 570.35,664.90 571.78,665.13 C573.22,665.35 574.66,665.57 576.10,665.78 C577.54,666.00 578.98,666.20 580.41,666.41 C581.85,666.61 583.29,666.80 584.73,666.99 C586.17,667.18 587.61,667.37 589.04,667.55 C590.48,667.73 591.92,667.90 593.36,668.07 C594.80,668.24 596.24,668.40 597.67,668.55 C599.11,668.71 600.55,668.86 601.99,669.00 C603.43,669.14 604.87,669.28 606.30,669.41 C607.74,669.54 609.18,669.67 610.62,669.79 C612.06,669.90 613.50,670.02 614.93,670.12 C616.37,670.23 617.81,670.32 619.25,670.42 C620.69,670.51 622.13,670.59 623.57,670.67 C625.00,670.75 626.44,670.83 627.88,670.89 C629.32,670.96 630.76,671.01 632.19,671.07 C633.63,671.12 635.07,671.16 636.51,671.20 C637.95,671.24 639.39,671.27 640.83,671.29 C642.26,671.31 643.70,671.33 645.14,671.34 C646.58,671.35 648.02,671.35 649.45,671.34 C650.89,671.34 652.33,671.32 653.77,671.30 C655.21,671.28 656.65,671.25 658.09,671.22 C659.52,671.18 661.68,671.11 662.40,671.09" stroke="#4c4c4c" stroke-width="0.5" fill="none" stroke-linejoin="round"/>
<path d="M489.80,648.40 C490.52,648.58 492.68,649.13 494.12,649.49 C495.55,649.85 496.99,650.20 498.43,650.55 C499.87,650.91 501.31,651.25 502.75,651.60 C504.18,651.95 505.62,652.29 507.06,652.63 C508.50,652.96 509.94,653.30 511.38,653.63 C512.81,653.96 514.25,654.29 515.69,654.61 C517.13,654.93 518.57,655.25 520.00,655.57 C521.44,655.88 522.88,656.20 524.32,656.50 C525.76,656.81 527.20,657.11 528.63,657.41 C530.07,657.71 531.51,658.01 532.95,658.30 C534.39,658.59 535.83,658.88 537.26,659.16 C538.70,659.44 540.14,659.72 541.58,660.00 C543.02,660.27 544.46,660.54 545.89,660.80 C547.33,661.07 548.77,661.33 550.21,661.59 C551.65,661.84 553.09,662.09 554.52,662.34 C555.96,662.59 557.40,662.83 558.84,663.07 C560.28,663.30 561.72,663.54 563.15,663.76 C564.59,663.99 566.03,664.21 567.47,664.43 C568.91,664.65 570.35,664.86 571.78,665.07 C573.22,665.28 574.66,665.48 576.10,665.68 C577.54,665.87 578.98,666.07 580.41,666.25 C581.85,666.44 583.29,666.62 584.73,666.80 C586.17,666.98 587.61,667.15 589.04,667.31 C590.48,667.48 591.92,667.64 593.36,667.79 C594.80,667.95 596.24,668.10 597.67,668.24 C599.11,668.38 600.55,668.52 601.99,668.65 C603.43,668.79 604.87,668.91 606.30,669.03 C607.74,669.15 609.18,669.27 610.62,669.38 C612.06,669.48 613.50,669.59 614.93,669.68 C616.37,669.78 617.81,669.87 619.25,669.96 C620.69,670.04 622.13,670.12 623.57,670.19 C625.00,670.26 626.44,670.33 627.88,670.39 C629.32,670.45 630.76,670.50 632.19,670.55 C633.63,670.60 635.07,670.64 636.51,670.67 C637.95,670.70 639.39,670.73 640.83,670.75 C642.26,670.77 643.70,670.79 645.14,670.79 C646.58,670.80 648.02,670.80 649.45,670.80 C650.89,670.79 652.33,670.78 653.77,670.76 C655.21,670.74 656.65,670.71 658.09,670.68 C659.52,670.64 661.68,670.58 662.40,670.56" stroke="#434343" stroke-width="0.5" fill="none" stroke-linejoin="round"/>
<path d="M489.80,649.40 C490.52,649.57 492.68,650.09 494.12,650.43 C495.55,650.77 496.99,651.11 498.43,651.44 C499.87,651.77 501.31,652.10 502.75,652.43 C504.18,652.75 505.62,653.08 507.06,653.39 C508.50,653.71 509.94,654.03 511.38,654.34 C512.81,654.65 514.25,654.96 515.69,655.26 C517.13,655.57 518.57,655.87 520.00,656.16 C521.44,656.46 522.88,656.75 524.32,657.04 C525.76,657.33 527.20,657.61 528.63,657.89 C530.07,658.17 531.51,658.45 532.95,658.72 C534.39,658.99 535.83,659.26 537.26,659.52 C538.70,659.79 540.14,660.05 541.58,660.30 C543.02,660.56 544.46,660.81 545.89,661.06 C547.33,661.30 548.77,661.54 550.21,661.78 C551.65,662.02 553.09,662.25 554.52,662.48 C555.96,662.71 557.40,662.94 558.84,663.16 C560.28,663.38 561.72,663.59 563.15,663.80 C564.59,664.01 566.03,664.22 567.47,664.42 C568.91,664.62 570.35,664.82 571.78,665.01 C573.22,665.20 574.66,665.39 576.10,665.57 C577.54,665.75 578.98,665.93 580.41,666.10 C581.85,666.28 583.29,666.44 584.73,666.61 C586.17,666.77 587.61,666.93 589.04,667.08 C590.48,667.23 591.92,667.38 593.36,667.52 C594.80,667.66 596.24,667.80 597.67,667.93 C599.11,668.06 600.55,668.19 601.99,668.31 C603.43,668.43 604.87,668.54 606.30,668.65 C607.74,668.76 609.18,668.87 610.62,668.97 C612.06,669.07 613.50,669.16 614.93,669.25 C616.37,669.34 617.81,669.42 619.25,669.49 C620.69,669.57 622.13,669.64 623.57,669.71 C625.00,669.77 626.44,669.83 627.88,669.89 C629.32,669.94 630.76,669.99 632.19,670.03 C633.63,670.07 635.07,670.11 636.51,670.14 C637.95,670.17 639.39,670.19 640.83,670.21 C642.26,670.23 643.70,670.24 645.14,670.25 C646.58,670.26 648.02,670.26 649.45,670.25 C650.89,670.24 652.33,670.23 653.77,670.21 C655.21,670.19 656.65,670.17 658.09,670.14 C659.52,670.11 661.68,670.04 662.40,670.02" stroke="#3b3b3b" stroke-width="0.5" fill="none" stroke-linejoin="round"/>
<path d="M489.80,650.40 C490.52,650.56 492.68,651.05 494.12,651.37 C495.55,651.69 496.99,652.01 498.43,652.32 C499.87,652.64 501.31,652.95 502.75,653.25 C504.18,653.56 505.62,653.86 507.06,654.16 C508.50,654.46 509.94,654.76 511.38,655.05 C512.81,655.34 514.25,655.63 515.69,655.91 C517.13,656.20 518.57,656.48 520.00,656.76 C521.44,657.03 522.88,657.30 524.32,657.57 C525.76,657.84 527.20,658.11 528.63,658.37 C530.07,658.63 531.51,658.89 532.95,659.14 C534.39,659.39 535.83,659.64 537.26,659.89 C538.70,660.13 540.14,660.37 541.58,660.61 C543.02,660.85 544.46,661.08 545.89,661.31 C547.33,661.54 548.77,661.76 550.21,661.98 C551.65,662.20 553.09,662.42 554.52,662.63 C555.96,662.84 557.40,663.04 558.84,663.25 C560.28,663.45 561.72,663.65 563.15,663.84 C564.59,664.04 566.03,664.23 567.47,664.41 C568.91,664.60 570.35,664.78 571.78,664.95 C573.22,665.13 574.66,665.30 576.10,665.47 C577.54,665.63 578.98,665.80 580.41,665.95 C581.85,666.11 583.29,666.26 584.73,666.41 C586.17,666.56 587.61,666.70 589.04,666.84 C590.48,666.98 591.92,667.11 593.36,667.24 C594.80,667.37 596.24,667.50 597.67,667.62 C599.11,667.74 600.55,667.85 601.99,667.96 C603.43,668.07 604.87,668.17 606.30,668.27 C607.74,668.37 609.18,668.47 610.62,668.56 C612.06,668.65 613.50,668.73 614.93,668.81 C616.37,668.89 617.81,668.96 619.25,669.03 C620.69,669.10 622.13,669.17 623.57,669.23 C625.00,669.28 626.44,669.34 627.88,669.39 C629.32,669.43 630.76,669.48 632.19,669.51 C633.63,669.55 635.07,669.58 636.51,669.61 C637.95,669.64 639.39,669.66 640.83,669.67 C642.26,669.69 643.70,669.70 645.14,669.70 C646.58,669.71 648.02,669.71 649.45,669.70 C650.89,669.70 652.33,669.68 653.77,669.67 C655.21,669.65 656.65,669.63 658.09,669.60 C659.52,669.57 661.68,669.51 662.40,669.49" stroke="#333333" stroke-width="0.5" fill="none" stroke-linejoin="round"/>
<path d="M489.80,651.40 C490.52,651.55 492.68,652.01 494.12,652.32 C495.55,652.62 496.99,652.92 498.43,653.21 C499.87,653.50 501.31,653.79 502.75,654.08 C504.18,654.37 505.62,654.65 507.06,654.93 C508.50,655.21 509.94,655.49 511.38,655.76 C512.81,656.03 514.25,656.30 515.69,656.57 C517.13,656.83 518.57,657.09 520.00,657.35 C521.44,657.61 522.88,657.86 524.32,658.11 C525.76,658.36 527.20,658.60 528.63,658.85 C530.07,659.09 531.51,659.33 532.95,659.56 C534.39,659.79 535.83,660.02 537.26,660.25 C538.70,660.48 540.14,660.70 541.58,660.92 C543.02,661.13 544.46,661.35 545.89,661.56 C547.33,661.77 548.77,661.97 550.21,662.18 C551.65,662.38 553.09,662.58 554.52,662.77 C555.96,662.96 557.40,663.15 558.84,663.34 C560.28,663.52 561.72,663.71 563.15,663.88 C564.59,664.06 566.03,664.23 567.47,664.40 C568.91,664.57 570.35,664.73 571.78,664.89 C573.22,665.05 574.66,665.21 576.10,665.36 C577.54,665.51 578.98,665.66 580.41,665.80 C581.85,665.95 583.29,666.08 584.73,666.22 C586.17,666.35 587.61,666.48 589.04,666.61 C590.48,666.73 591.92,666.85 593.36,666.97 C594.80,667.09 596.24,667.20 597.67,667.30 C599.11,667.41 600.55,667.52 601.99,667.61 C603.43,667.71 604.87,667.81 606.30,667.89 C607.74,667.98 609.18,668.07 610.62,668.15 C612.06,668.23 613.50,668.30 614.93,668.37 C616.37,668.45 617.81,668.51 619.25,668.57 C620.69,668.63 622.13,668.69 623.57,668.74 C625.00,668.79 626.44,668.84 627.88,668.88 C629.32,668.93 630.76,668.96 632.19,669.00 C633.63,669.03 635.07,669.06 636.51,669.08 C637.95,669.10 639.39,669.12 640.83,669.13 C642.26,669.15 643.70,669.16 645.14,669.16 C646.58,669.16 648.02,669.16 649.45,669.16 C650.89,669.15 652.33,669.14 653.77,669.12 C655.21,669.10 656.65,669.08 658.09,669.06 C659.52,669.03 661.68,668.98 662.40,668.96" stroke="#2a2a2a" stroke-width="0.5" fill="none" stroke-linejoin="round"/>
<path d="M489.80,652.40 C490.52,652.54 492.68,652.98 494.12,653.26 C495.55,653.54 496.99,653.82 498.43,654.09 C499.87,654.37 501.31,654.64 502.75,654.91 C504.18,655.18 505.62,655.44 507.06,655.70 C508.50,655.96 509.94,656.22 511.38,656.47 C512.81,656.72 514.25,656.97 515.69,657.22 C517.13,657.46 518.57,657.70 520.00,657.94 C521.44,658.18 522.88,658.41 524.32,658.64 C525.76,658.87 527.20,659.10 528.63,659.32 C530.07,659.55 531.51,659.77 532.95,659.98 C534.39,660.19 535.83,660.41 537.26,660.61 C538.70,660.82 540.14,661.02 541.58,661.22 C543.02,661.42 544.46,661.62 545.89,661.81 C547.33,662.00 548.77,662.19 550.21,662.37 C551.65,662.56 553.09,662.74 554.52,662.91 C555.96,663.09 557.40,663.26 558.84,663.43 C560.28,663.60 561.72,663.76 563.15,663.92 C564.59,664.08 566.03,664.24 567.47,664.39 C568.91,664.54 570.35,664.69 571.78,664.83 C573.22,664.98 574.66,665.12 576.10,665.26 C577.54,665.39 578.98,665.52 580.41,665.65 C581.85,665.78 583.29,665.90 584.73,666.02 C586.17,666.14 587.61,666.26 589.04,666.37 C590.48,666.48 591.92,666.59 593.36,666.69 C594.80,666.80 596.24,666.90 597.67,666.99 C599.11,667.09 600.55,667.18 601.99,667.27 C603.43,667.35 604.87,667.44 606.30,667.52 C607.74,667.59 609.18,667.67 610.62,667.74 C612.06,667.81 613.50,667.88 614.93,667.94 C616.37,668.00 617.81,668.06 619.25,668.11 C620.69,668.16 622.13,668.21 623.57,668.26 C625.00,668.30 626.44,668.35 627.88,668.38 C629.32,668.42 630.76,668.45 632.19,668.48 C633.63,668.51 635.07,668.53 636.51,668.55 C637.95,668.57 639.39,668.58 640.83,668.60 C642.26,668.61 643.70,668.61 645.14,668.61 C646.58,668.62 648.02,668.61 649.45,668.61 C650.89,668.60 652.33,668.59 653.77,668.58 C655.21,668.56 656.65,668.54 658.09,668.52 C659.52,668.49 661.68,668.45 662.40,668.43" stroke="#222222" stroke-width="0.5" fill="none" stroke-linejoin="round"/>
<path d="M489.80,653.40 C490.52,653.53 492.68,653.94 494.12,654.20 C495.55,654.46 496.99,654.72 498.43,654.98 C499.87,655.24 501.31,655.49 502.75,655.74 C504.18,655.98 505.62,656.23 507.06,656.47 C508.50,656.71 509.94,656.95 511.38,657.18 C512.81,657.41 514.25,657.64 515.69,657.87 C517.13,658.10 518.57,658.32 520.00,658.54 C521.44,658.75 522.88,658.97 524.32,659.18 C525.76,659.39 527.20,659.60 528.63,659.80 C530.07,660.00 531.51,660.20 532.95,660.40 C534.39,660.60 535.83,660.79 537.26,660.98 C538.70,661.16 540.14,661.35 541.58,661.53 C543.02,661.71 544.46,661.89 545.89,662.06 C547.33,662.23 548.77,662.40 550.21,662.57 C551.65,662.74 553.09,662.90 554.52,663.06 C555.96,663.21 557.40,663.37 558.84,663.52 C560.28,663.67 561.72,663.82 563.15,663.96 C564.59,664.10 566.03,664.24 567.47,664.38 C568.91,664.52 570.35,664.65 571.78,664.78 C573.22,664.90 574.66,665.03 576.10,665.15 C577.54,665.27 578.98,665.39 580.41,665.50 C581.85,665.61 583.29,665.72 584.73,665.83 C586.17,665.94 587.61,666.04 589.04,666.14 C590.48,666.23 591.92,666.33 593.36,666.42 C594.80,666.51 596.24,666.60 597.67,666.68 C599.11,666.76 600.55,666.84 601.99,666.92 C603.43,667.00 604.87,667.07 606.30,667.14 C607.74,667.20 609.18,667.27 610.62,667.33 C612.06,667.39 613.50,667.45 614.93,667.50 C616.37,667.55 617.81,667.60 619.25,667.65 C620.69,667.70 622.13,667.74 623.57,667.78 C625.00,667.81 626.44,667.85 627.88,667.88 C629.32,667.91 630.76,667.94 632.19,667.96 C633.63,667.98 635.07,668.00 636.51,668.02 C637.95,668.04 639.39,668.05 640.83,668.06 C642.26,668.06 643.70,668.07 645.14,668.07 C646.58,668.07 648.02,668.07 649.45,668.06 C650.89,668.05 652.33,668.04 653.77,668.03 C655.21,668.02 656.65,668.00 658.09,667.98 C659.52,667.95 661.68,667.91 662.40,667.90" stroke="#1a1a1a" stroke-width="0.5" fill="none" stroke-linejoin="round"/>
</g>
<path d="M489.80,722.40v-1.7 M489.80,597.40v1.7 M576.10,722.40v-1.7 M576.10,597.40v1.7 M662.40,722.40v-1.7 M662.40,597.40v1.7 M489.80,722.40h1.7 M662.40,722.40h-1.7 M489.80,697.40h1.7 M662.40,697.40h-1.7 M489.80,672.40h1.7 M662.40,672.40h-1.7 M489.80,647.40h1.7 M662.40,647.40h-1.7 M489.80,622.40h1.7 M662.40,622.40h-1.7 M489.80,597.40h1.7 M662.40,597.40h-1.7" stroke="#8a8a8a" stroke-width="0.7" fill="none"/>
<rect x="489.80" y="597.40" width="172.60" height="125.00" stroke="#9c9c9c" stroke-width="0.9" fill="none"/>
<text x="489.80" y="735.30" font-size="10.3" text-anchor="middle" fill="#2c2c2c">0</text>
<text x="576.10" y="735.30" font-size="10.3" text-anchor="middle" fill="#2c2c2c">0.5</text>
<text x="662.40" y="735.30" font-size="10.3" text-anchor="middle" fill="#2c2c2c">1</text>
<text x="486.40" y="725.40" font-size="10.3" text-anchor="end" fill="#2c2c2c">0</text>
<text x="486.40" y="700.40" font-size="10.3" text-anchor="end" fill="#2c2c2c">5</text>
<text x="486.40" y="675.40" font-size="10.3" text-anchor="end" fill="#2c2c2c">10</text>
<text x="486.40" y="650.40" font-size="10.3" text-anchor="end" fill="#2c2c2c">15</text>
<text x="486.40" y="625.40" font-size="10.3" text-anchor="end" fill="#2c2c2c">20</text>
<text x="486.40" y="600.40" font-size="10.3" text-anchor="end" fill="#2c2c2c">25</text>
<text x="470.50" y="660.90" font-size="11.6" text-anchor="middle" textLength="139.50" lengthAdjust="spacingAndGlyphs" transform="rotate(-90 470.50 660.90)" fill="#2c2c2c">Cell 2 anode <tspan font-style="italic">j</tspan>(<tspan font-style="italic">x</tspan>, <tspan font-style="italic">t</tspan>) (A/m<tspan font-size="8" dy="-4.2">2</tspan><tspan dy="4.2">)</tspan></text>
<text x="576.20" y="749.00" font-size="11.6" text-anchor="middle" textLength="195.40" lengthAdjust="spacingAndGlyphs" fill="#2c2c2c">Normalised distance along electrode <tspan font-style="italic">x</tspan></text>
<text x="514.80" y="774.40" font-size="12.9" fill="#050505">(l) Cell 2 <tspan font-style="italic">j(x,t)</tspan>. Case 3.</text>
<path d="M495.00,716.10H514.00 M639.00,716.10H657.40" stroke="#222" stroke-width="0.8" fill="none"/>
<path d="M491.20,716.10 l5,-2.1 l-1.3,2.1 l1.3,2.1z M661.40,716.10 l-5,-2.1 l1.3,2.1 l-1.3,2.1z" fill="#222"/>
<text x="514.60" y="719.00" font-size="9.9" text-anchor="start" textLength="66.90" lengthAdjust="spacingAndGlyphs" fill="#2c2c2c">Current collector</text>
<text x="598.80" y="719.00" font-size="9.9" text-anchor="start" textLength="37.80" lengthAdjust="spacingAndGlyphs" fill="#2c2c2c">Separator</text>
</svg></body></html>
